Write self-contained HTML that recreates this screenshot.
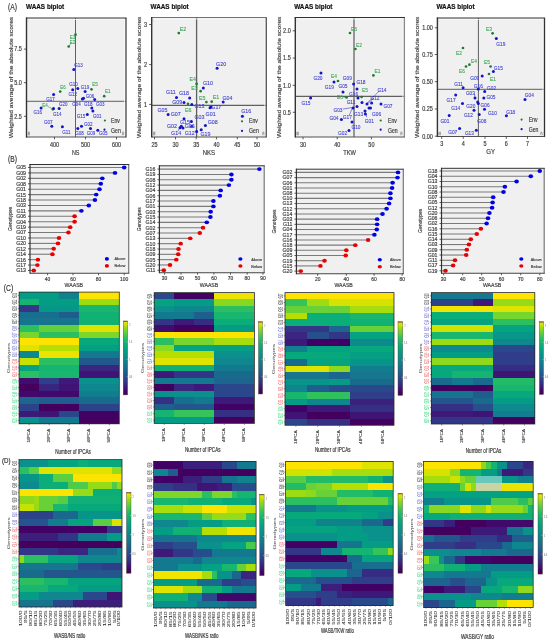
<!DOCTYPE html>
<html><head><meta charset="utf-8"><title>WAAS figure</title>
<style>
html,body{margin:0;padding:0;background:#fff;}
body{width:550px;height:642px;overflow:hidden;}
svg{display:block;font-family:'Liberation Sans', Arial, sans-serif;filter:blur(0.3px);}
</style></head>
<body>
<svg width="550" height="642" viewBox="0 0 550 642">
<rect width="550" height="642" fill="#fff"/>
<clipPath id="cA0"><rect x="26.5" y="18" width="99.5" height="119"/></clipPath>
<rect x="26.5" y="18" width="99.5" height="119" fill="#f0f0f0"/>
<g clip-path="url(#cA0)">
<line x1="75.5" y1="18" x2="75.5" y2="137" stroke="#505050" stroke-width="0.9"/>
<line x1="26.5" y1="101.3" x2="126" y2="101.3" stroke="#505050" stroke-width="0.9"/>
<circle cx="75.5" cy="34.7" r="1.35" fill="#1e7a32"/>
<text font-size="6.1" fill="#38a852" text-anchor="middle" stroke="#38a852" stroke-width="0.12" transform="translate(72.4 39.2) scale(0.74 1)">E3</text>
<circle cx="68.7" cy="46.5" r="1.35" fill="#1e7a32"/>
<text font-size="6.1" fill="#38a852" text-anchor="middle" stroke="#38a852" stroke-width="0.12" transform="translate(72.4 44) scale(0.74 1)">E2</text>
<circle cx="73.8" cy="69.5" r="1.5" fill="#1414c8"/>
<text font-size="6.1" fill="#4444d4" text-anchor="middle" stroke="#4444d4" stroke-width="0.12" transform="translate(78.5 66.9) scale(0.74 1)">G13</text>
<circle cx="60.2" cy="91.6" r="1.35" fill="#1e7a32"/>
<text font-size="6.1" fill="#38a852" text-anchor="middle" stroke="#38a852" stroke-width="0.12" transform="translate(62.9 88.6) scale(0.74 1)">E6</text>
<circle cx="77.8" cy="88.5" r="1.5" fill="#1414c8"/>
<text font-size="6.1" fill="#4444d4" text-anchor="middle" stroke="#4444d4" stroke-width="0.12" transform="translate(73.6 86.3) scale(0.74 1)">G10</text>
<circle cx="72.7" cy="89.8" r="1.5" fill="#1414c8"/>
<text font-size="6.1" fill="#4444d4" text-anchor="middle" stroke="#4444d4" stroke-width="0.12" transform="translate(72.7 96.4) scale(0.74 1)">G12</text>
<circle cx="85.1" cy="91.6" r="1.5" fill="#1414c8"/>
<text font-size="6.1" fill="#4444d4" text-anchor="middle" stroke="#4444d4" stroke-width="0.12" transform="translate(85.1 88.6) scale(0.74 1)">G19</text>
<circle cx="91.5" cy="89.3" r="1.35" fill="#1e7a32"/>
<text font-size="6.1" fill="#38a852" text-anchor="middle" stroke="#38a852" stroke-width="0.12" transform="translate(95.1 86.3) scale(0.74 1)">E5</text>
<text font-size="6.1" fill="#4444d4" text-anchor="middle" stroke="#4444d4" stroke-width="0.12" transform="translate(90 98) scale(0.74 1)">G06</text>
<circle cx="104.2" cy="96.2" r="1.35" fill="#1e7a32"/>
<text font-size="6.1" fill="#38a852" text-anchor="middle" stroke="#38a852" stroke-width="0.12" transform="translate(107.8 93.4) scale(0.74 1)">E1</text>
<circle cx="53.6" cy="94.4" r="1.5" fill="#1414c8"/>
<text font-size="6.1" fill="#4444d4" text-anchor="middle" stroke="#4444d4" stroke-width="0.12" transform="translate(50.5 101.3) scale(0.74 1)">G17</text>
<circle cx="82.4" cy="98.9" r="1.5" fill="#1414c8"/>
<text font-size="6.1" fill="#4444d4" text-anchor="middle" stroke="#4444d4" stroke-width="0.12" transform="translate(76.4 106.4) scale(0.74 1)">G04</text>
<circle cx="59.1" cy="108.5" r="1.5" fill="#1414c8"/>
<text font-size="6.1" fill="#4444d4" text-anchor="middle" stroke="#4444d4" stroke-width="0.12" transform="translate(63.3 105.9) scale(0.74 1)">G20</text>
<circle cx="83.5" cy="98.2" r="1.5" fill="#1414c8"/>
<text font-size="6.1" fill="#4444d4" text-anchor="middle" stroke="#4444d4" stroke-width="0.12" transform="translate(88.2 105.9) scale(0.74 1)">G18</text>
<circle cx="94.7" cy="99.5" r="1.5" fill="#1414c8"/>
<text font-size="6.1" fill="#4444d4" text-anchor="middle" stroke="#4444d4" stroke-width="0.12" transform="translate(100.2 106.2) scale(0.74 1)">G03</text>
<circle cx="52.9" cy="109.3" r="1.35" fill="#1e7a32"/>
<text font-size="6.1" fill="#38a852" text-anchor="middle" stroke="#38a852" stroke-width="0.12" transform="translate(45.1 106.8) scale(0.74 1)">E4</text>
<circle cx="41.1" cy="108" r="1.5" fill="#1414c8"/>
<text font-size="6.1" fill="#4444d4" text-anchor="middle" stroke="#4444d4" stroke-width="0.12" transform="translate(37.8 114.4) scale(0.74 1)">G16</text>
<circle cx="53.5" cy="108.5" r="1.5" fill="#1414c8"/>
<text font-size="6.1" fill="#4444d4" text-anchor="middle" stroke="#4444d4" stroke-width="0.12" transform="translate(57.3 115.9) scale(0.74 1)">G14</text>
<circle cx="87.3" cy="114.4" r="1.5" fill="#1414c8"/>
<text font-size="6.1" fill="#4444d4" text-anchor="middle" stroke="#4444d4" stroke-width="0.12" transform="translate(81.1 118.2) scale(0.74 1)">G15</text>
<circle cx="92.9" cy="111" r="1.5" fill="#1414c8"/>
<text font-size="6.1" fill="#4444d4" text-anchor="middle" stroke="#4444d4" stroke-width="0.12" transform="translate(97.3 118.2) scale(0.74 1)">G01</text>
<circle cx="91.8" cy="108" r="1.5" fill="#1414c8"/>
<circle cx="51.8" cy="126.2" r="1.5" fill="#1414c8"/>
<text font-size="6.1" fill="#4444d4" text-anchor="middle" stroke="#4444d4" stroke-width="0.12" transform="translate(48.2 124) scale(0.74 1)">G07</text>
<circle cx="62.4" cy="126.7" r="1.5" fill="#1414c8"/>
<text font-size="6.1" fill="#4444d4" text-anchor="middle" stroke="#4444d4" stroke-width="0.12" transform="translate(66.4 134) scale(0.74 1)">G11</text>
<circle cx="81.5" cy="126.2" r="1.5" fill="#1414c8"/>
<text font-size="6.1" fill="#4444d4" text-anchor="middle" stroke="#4444d4" stroke-width="0.12" transform="translate(88.2 125.9) scale(0.74 1)">G02</text>
<circle cx="77.8" cy="128.5" r="1.5" fill="#1414c8"/>
<text font-size="6.1" fill="#4444d4" text-anchor="middle" stroke="#4444d4" stroke-width="0.12" transform="translate(79.6 135.4) scale(0.74 1)">G08</text>
<circle cx="90.5" cy="128.5" r="1.5" fill="#1414c8"/>
<text font-size="6.1" fill="#4444d4" text-anchor="middle" stroke="#4444d4" stroke-width="0.12" transform="translate(90.9 134.9) scale(0.74 1)">G09</text>
<circle cx="97.8" cy="130.2" r="1.5" fill="#1414c8"/>
<text font-size="6.1" fill="#4444d4" text-anchor="middle" stroke="#4444d4" stroke-width="0.12" transform="translate(103.3 135.4) scale(0.74 1)">G05</text>
<line x1="68.9" y1="46.3" x2="71.5" y2="42.5" stroke="#1e7a32" stroke-width="0.5"/>
<line x1="53" y1="109.2" x2="48" y2="106.5" stroke="#1e7a32" stroke-width="0.5"/>
<circle cx="104.9" cy="120.5" r="1.1" fill="#1e7a32"/>
<circle cx="104.5" cy="129.7" r="1.1" fill="#1414c8"/>
<text font-size="3.6" fill="#8a8a8a" text-anchor="start" stroke="#8a8a8a" stroke-width="0.3" transform="translate(27.7 135.4) scale(0.8 1)">III</text>
<text font-size="3.6" fill="#8a8a8a" text-anchor="end" stroke="#8a8a8a" stroke-width="0.3" transform="translate(124.8 135.4) scale(0.8 1)">IV</text>
<text font-size="3" fill="#d0d0d0" text-anchor="start" transform="translate(27.7 22.2) scale(0.8 1)">II</text>
<text font-size="3" fill="#d0d0d0" text-anchor="end" transform="translate(124.8 22.2) scale(0.8 1)">I</text>
<text font-size="6.8" fill="#3a3a3a" text-anchor="start" stroke="#3a3a3a" stroke-width="0.18" transform="translate(111.1 122.9) scale(0.75 1)">Env</text>
<text font-size="6.8" fill="#3a3a3a" text-anchor="start" stroke="#3a3a3a" stroke-width="0.18" transform="translate(111.1 132.7) scale(0.75 1)">Gen</text>
</g>
<line x1="27.5" y1="19.5" x2="124.7" y2="19.5" stroke="#fafafa" stroke-width="0.8"/>
<line x1="124.5" y1="19" x2="124.5" y2="136" stroke="#fafafa" stroke-width="0.8"/>
<line x1="126" y1="18" x2="126" y2="137.6" stroke="#444" stroke-width="1.3"/>
<line x1="26.5" y1="137" x2="126" y2="137" stroke="#505050" stroke-width="1.2"/>
<line x1="26" y1="18" x2="126.6" y2="18" stroke="#333" stroke-width="1"/>
<line x1="26.5" y1="17.5" x2="26.5" y2="137.6" stroke="#333" stroke-width="1.4"/>
<line x1="23.9" y1="49.1" x2="26.5" y2="49.1" stroke="#333" stroke-width="0.8"/>
<text font-size="6.3" fill="#3e3e3e" text-anchor="end" stroke="#3e3e3e" stroke-width="0.18" transform="translate(21.9 51.45) scale(0.87 1)">7.5</text>
<line x1="23.9" y1="82.7" x2="26.5" y2="82.7" stroke="#333" stroke-width="0.8"/>
<text font-size="6.3" fill="#3e3e3e" text-anchor="end" stroke="#3e3e3e" stroke-width="0.18" transform="translate(21.9 85.05) scale(0.87 1)">5.0</text>
<line x1="23.9" y1="116.3" x2="26.5" y2="116.3" stroke="#333" stroke-width="0.8"/>
<text font-size="6.3" fill="#3e3e3e" text-anchor="end" stroke="#3e3e3e" stroke-width="0.18" transform="translate(21.9 118.65) scale(0.87 1)">2.5</text>
<line x1="54.5" y1="137" x2="54.5" y2="139.4" stroke="#333" stroke-width="0.8"/>
<text font-size="6.3" fill="#3e3e3e" text-anchor="middle" stroke="#3e3e3e" stroke-width="0.18" transform="translate(54.5 146.5) scale(0.87 1)">400</text>
<line x1="85.5" y1="137" x2="85.5" y2="139.4" stroke="#333" stroke-width="0.8"/>
<text font-size="6.3" fill="#3e3e3e" text-anchor="middle" stroke="#3e3e3e" stroke-width="0.18" transform="translate(85.5 146.5) scale(0.87 1)">500</text>
<line x1="116.5" y1="137" x2="116.5" y2="139.4" stroke="#333" stroke-width="0.8"/>
<text font-size="6.3" fill="#3e3e3e" text-anchor="middle" stroke="#3e3e3e" stroke-width="0.18" transform="translate(116.5 146.5) scale(0.87 1)">600</text>
<text font-size="6.7" fill="#3e3e3e" text-anchor="middle" stroke="#3e3e3e" stroke-width="0.18" transform="translate(12.9 77.5) rotate(-90) scale(1 0.86)">Weighted average of the absolute scores</text>
<text font-size="6.8" fill="#3e3e3e" text-anchor="middle" stroke="#3e3e3e" stroke-width="0.18" transform="translate(75.7 154.6) scale(0.8 1)">NS</text>
<text font-size="6.8" fill="#111" text-anchor="start" stroke="#111" stroke-width="0.18" font-weight="bold" transform="translate(26 8.8) scale(0.94 1)">WAAS biplot</text>
<clipPath id="cA1"><rect x="151.7" y="17.5" width="114.6" height="119.5"/></clipPath>
<rect x="151.7" y="17.5" width="114.6" height="119.5" fill="#f0f0f0"/>
<g clip-path="url(#cA1)">
<line x1="196.6" y1="17.5" x2="196.6" y2="137" stroke="#606060" stroke-width="1.3"/>
<line x1="151.7" y1="105.3" x2="266.3" y2="105.3" stroke="#606060" stroke-width="1.3"/>
<circle cx="178.8" cy="33.1" r="1.35" fill="#1e7a32"/>
<text font-size="6.1" fill="#38a852" text-anchor="middle" stroke="#38a852" stroke-width="0.12" transform="translate(183 30.5) scale(0.87 1)">E2</text>
<circle cx="217.1" cy="68.3" r="1.5" fill="#1414c8"/>
<text font-size="6.1" fill="#4444d4" text-anchor="middle" stroke="#4444d4" stroke-width="0.12" transform="translate(221.1 65.7) scale(0.87 1)">G20</text>
<circle cx="196.6" cy="83.9" r="1.35" fill="#1e7a32"/>
<text font-size="6.1" fill="#38a852" text-anchor="middle" stroke="#38a852" stroke-width="0.12" transform="translate(192.8 81.1) scale(0.87 1)">E4</text>
<circle cx="200.6" cy="91.2" r="1.35" fill="#1e7a32"/>
<text font-size="6.1" fill="#38a852" text-anchor="middle" stroke="#38a852" stroke-width="0.12" transform="translate(194.5 89.5) scale(0.87 1)">E3</text>
<circle cx="203.3" cy="88.1" r="1.5" fill="#1414c8"/>
<text font-size="6.1" fill="#4444d4" text-anchor="middle" stroke="#4444d4" stroke-width="0.12" transform="translate(207.9 85.3) scale(0.87 1)">G10</text>
<circle cx="176.5" cy="97.5" r="1.5" fill="#1414c8"/>
<text font-size="6.1" fill="#4444d4" text-anchor="middle" stroke="#4444d4" stroke-width="0.12" transform="translate(170.9 94.3) scale(0.87 1)">G11</text>
<circle cx="189.7" cy="97.9" r="1.5" fill="#1414c8"/>
<text font-size="6.1" fill="#4444d4" text-anchor="middle" stroke="#4444d4" stroke-width="0.12" transform="translate(184 94.9) scale(0.87 1)">G18</text>
<circle cx="184" cy="102.5" r="1.5" fill="#1414c8"/>
<text font-size="6.1" fill="#4444d4" text-anchor="middle" stroke="#4444d4" stroke-width="0.12" transform="translate(177.2 103.7) scale(0.87 1)">G09</text>
<circle cx="188" cy="103.8" r="1.35" fill="#1e7a32"/>
<text font-size="6.1" fill="#38a852" text-anchor="middle" stroke="#38a852" stroke-width="0.12" transform="translate(188.2 111.6) scale(0.87 1)">E6</text>
<circle cx="206.4" cy="102.1" r="1.35" fill="#1e7a32"/>
<text font-size="6.1" fill="#38a852" text-anchor="middle" stroke="#38a852" stroke-width="0.12" transform="translate(202.3 99.5) scale(0.87 1)">E5</text>
<circle cx="211.7" cy="101.7" r="1.35" fill="#1e7a32"/>
<text font-size="6.1" fill="#38a852" text-anchor="middle" stroke="#38a852" stroke-width="0.12" transform="translate(215.9 98.9) scale(0.87 1)">E1</text>
<circle cx="223.2" cy="102.1" r="1.5" fill="#1414c8"/>
<text font-size="6.1" fill="#4444d4" text-anchor="middle" stroke="#4444d4" stroke-width="0.12" transform="translate(227.4 99.5) scale(0.87 1)">G04</text>
<circle cx="191.8" cy="104.6" r="1.5" fill="#1414c8"/>
<text font-size="6.1" fill="#4444d4" text-anchor="middle" stroke="#4444d4" stroke-width="0.12" transform="translate(199.5 108.3) scale(0.87 1)">G13</text>
<circle cx="210" cy="107.8" r="1.5" fill="#1414c8"/>
<text font-size="6.1" fill="#4444d4" text-anchor="middle" stroke="#4444d4" stroke-width="0.12" transform="translate(216.3 108.5) scale(0.87 1)">G17</text>
<circle cx="211" cy="107" r="1.5" fill="#1414c8"/>
<circle cx="168.1" cy="114.4" r="1.5" fill="#1414c8"/>
<text font-size="6.1" fill="#4444d4" text-anchor="middle" stroke="#4444d4" stroke-width="0.12" transform="translate(162.5 111.7) scale(0.87 1)">G05</text>
<text font-size="6.1" fill="#4444d4" text-anchor="middle" stroke="#4444d4" stroke-width="0.12" transform="translate(175.7 116.3) scale(0.87 1)">G07</text>
<text font-size="6.1" fill="#4444d4" text-anchor="middle" stroke="#4444d4" stroke-width="0.12" transform="translate(210.6 116.3) scale(0.87 1)">G01</text>
<circle cx="242.4" cy="116.3" r="1.5" fill="#1414c8"/>
<text font-size="6.1" fill="#4444d4" text-anchor="middle" stroke="#4444d4" stroke-width="0.12" transform="translate(246.2 113.1) scale(0.87 1)">G16</text>
<circle cx="191.4" cy="121.4" r="1.5" fill="#1414c8"/>
<text font-size="6.1" fill="#4444d4" text-anchor="middle" stroke="#4444d4" stroke-width="0.12" transform="translate(199.5 119.4) scale(0.87 1)">G03</text>
<circle cx="184" cy="118.8" r="1.5" fill="#1414c8"/>
<text font-size="6.1" fill="#4444d4" text-anchor="middle" stroke="#4444d4" stroke-width="0.12" transform="translate(184.9 123.6) scale(0.87 1)">G15</text>
<circle cx="191.8" cy="126.2" r="1.5" fill="#1414c8"/>
<text font-size="6.1" fill="#4444d4" text-anchor="middle" stroke="#4444d4" stroke-width="0.12" transform="translate(189.7 127.8) scale(0.87 1)">G06</text>
<circle cx="205.4" cy="125.5" r="1.5" fill="#1414c8"/>
<text font-size="6.1" fill="#4444d4" text-anchor="middle" stroke="#4444d4" stroke-width="0.12" transform="translate(212.7 123.6) scale(0.87 1)">G08</text>
<circle cx="181.3" cy="126.2" r="1.5" fill="#1414c8"/>
<text font-size="6.1" fill="#4444d4" text-anchor="middle" stroke="#4444d4" stroke-width="0.12" transform="translate(171.9 127.8) scale(0.87 1)">G02</text>
<circle cx="180" cy="127.8" r="1.5" fill="#1414c8"/>
<text font-size="6.1" fill="#4444d4" text-anchor="middle" stroke="#4444d4" stroke-width="0.12" transform="translate(176.1 135.1) scale(0.87 1)">G14</text>
<circle cx="196.6" cy="131.4" r="1.5" fill="#1414c8"/>
<text font-size="6.1" fill="#4444d4" text-anchor="middle" stroke="#4444d4" stroke-width="0.12" transform="translate(189.7 135.1) scale(0.87 1)">G12</text>
<circle cx="201.2" cy="129.7" r="1.5" fill="#1414c8"/>
<text font-size="6.1" fill="#4444d4" text-anchor="middle" stroke="#4444d4" stroke-width="0.12" transform="translate(205.4 135.5) scale(0.87 1)">G19</text>
<circle cx="183" cy="128" r="1.5" fill="#1414c8"/>
<line x1="180" y1="127.8" x2="177.5" y2="131.5" stroke="#1414c8" stroke-width="0.5"/>
<circle cx="242" cy="121.3" r="1.1" fill="#1e7a32"/>
<circle cx="242" cy="130.9" r="1.1" fill="#1414c8"/>
<text font-size="3.6" fill="#8a8a8a" text-anchor="start" stroke="#8a8a8a" stroke-width="0.3" transform="translate(152.9 135.4) scale(0.8 1)">III</text>
<text font-size="3.6" fill="#8a8a8a" text-anchor="end" stroke="#8a8a8a" stroke-width="0.3" transform="translate(265.1 135.4) scale(0.8 1)">IV</text>
<text font-size="3" fill="#d0d0d0" text-anchor="start" transform="translate(152.9 21.7) scale(0.8 1)">II</text>
<text font-size="3" fill="#d0d0d0" text-anchor="end" transform="translate(265.1 21.7) scale(0.8 1)">I</text>
<text font-size="6.8" fill="#3a3a3a" text-anchor="start" stroke="#3a3a3a" stroke-width="0.18" transform="translate(249.1 123.4) scale(0.75 1)">Env</text>
<text font-size="6.8" fill="#3a3a3a" text-anchor="start" stroke="#3a3a3a" stroke-width="0.18" transform="translate(249.1 132.7) scale(0.75 1)">Gen</text>
</g>
<line x1="152.7" y1="19" x2="265" y2="19" stroke="#fafafa" stroke-width="0.8"/>
<line x1="264.8" y1="18.5" x2="264.8" y2="136" stroke="#fafafa" stroke-width="0.8"/>
<line x1="266.3" y1="17.5" x2="266.3" y2="137.6" stroke="#555" stroke-width="1.3"/>
<line x1="151.7" y1="137" x2="266.3" y2="137" stroke="#505050" stroke-width="1.2"/>
<line x1="151.2" y1="17.5" x2="266.9" y2="17.5" stroke="#707070" stroke-width="1"/>
<line x1="151.7" y1="17" x2="151.7" y2="137.6" stroke="#333" stroke-width="1.4"/>
<line x1="149.1" y1="24.5" x2="151.7" y2="24.5" stroke="#333" stroke-width="0.8"/>
<text font-size="6.3" fill="#3e3e3e" text-anchor="end" stroke="#3e3e3e" stroke-width="0.18" transform="translate(147.1 26.85) scale(0.87 1)">3</text>
<line x1="149.1" y1="64.6" x2="151.7" y2="64.6" stroke="#333" stroke-width="0.8"/>
<text font-size="6.3" fill="#3e3e3e" text-anchor="end" stroke="#3e3e3e" stroke-width="0.18" transform="translate(147.1 66.95) scale(0.87 1)">2</text>
<line x1="149.1" y1="104.4" x2="151.7" y2="104.4" stroke="#333" stroke-width="0.8"/>
<text font-size="6.3" fill="#3e3e3e" text-anchor="end" stroke="#3e3e3e" stroke-width="0.18" transform="translate(147.1 106.75) scale(0.87 1)">1</text>
<line x1="154.5" y1="137" x2="154.5" y2="139.4" stroke="#333" stroke-width="0.8"/>
<text font-size="6.3" fill="#3e3e3e" text-anchor="middle" stroke="#3e3e3e" stroke-width="0.18" transform="translate(154.5 147.4) scale(0.87 1)">25</text>
<line x1="175.5" y1="137" x2="175.5" y2="139.4" stroke="#333" stroke-width="0.8"/>
<text font-size="6.3" fill="#3e3e3e" text-anchor="middle" stroke="#3e3e3e" stroke-width="0.18" transform="translate(175.5 147.4) scale(0.87 1)">30</text>
<line x1="196.2" y1="137" x2="196.2" y2="139.4" stroke="#333" stroke-width="0.8"/>
<text font-size="6.3" fill="#3e3e3e" text-anchor="middle" stroke="#3e3e3e" stroke-width="0.18" transform="translate(196.2 147.4) scale(0.87 1)">35</text>
<line x1="216.6" y1="137" x2="216.6" y2="139.4" stroke="#333" stroke-width="0.8"/>
<text font-size="6.3" fill="#3e3e3e" text-anchor="middle" stroke="#3e3e3e" stroke-width="0.18" transform="translate(216.6 147.4) scale(0.87 1)">40</text>
<line x1="237.3" y1="137" x2="237.3" y2="139.4" stroke="#333" stroke-width="0.8"/>
<text font-size="6.3" fill="#3e3e3e" text-anchor="middle" stroke="#3e3e3e" stroke-width="0.18" transform="translate(237.3 147.4) scale(0.87 1)">45</text>
<line x1="257" y1="137" x2="257" y2="139.4" stroke="#333" stroke-width="0.8"/>
<text font-size="6.3" fill="#3e3e3e" text-anchor="middle" stroke="#3e3e3e" stroke-width="0.18" transform="translate(257 147.4) scale(0.87 1)">50</text>
<text font-size="6.7" fill="#3e3e3e" text-anchor="middle" stroke="#3e3e3e" stroke-width="0.18" transform="translate(141.4 77.25) rotate(-90) scale(1 0.86)">Weighted average of the absolute scores</text>
<text font-size="6.8" fill="#3e3e3e" text-anchor="middle" stroke="#3e3e3e" stroke-width="0.18" transform="translate(208.9 155.4) scale(0.89 1)">NKS</text>
<text font-size="6.8" fill="#111" text-anchor="start" stroke="#111" stroke-width="0.18" font-weight="bold" transform="translate(150.5 8.8) scale(0.94 1)">WAAS biplot</text>
<clipPath id="cA2"><rect x="295.3" y="17.5" width="109.1" height="119.5"/></clipPath>
<rect x="295.3" y="17.5" width="109.1" height="119.5" fill="#f0f0f0"/>
<g clip-path="url(#cA2)">
<line x1="354" y1="17.5" x2="354" y2="137" stroke="#606060" stroke-width="1.25"/>
<line x1="295.3" y1="96.4" x2="404.4" y2="96.4" stroke="#606060" stroke-width="1.25"/>
<circle cx="350" cy="33" r="1.35" fill="#1e7a32"/>
<text font-size="6.1" fill="#38a852" text-anchor="middle" stroke="#38a852" stroke-width="0.12" transform="translate(354 30.8) scale(0.79 1)">E3</text>
<circle cx="355.4" cy="49" r="1.35" fill="#1e7a32"/>
<text font-size="6.1" fill="#38a852" text-anchor="middle" stroke="#38a852" stroke-width="0.12" transform="translate(359 47) scale(0.79 1)">E2</text>
<circle cx="373.4" cy="75.4" r="1.35" fill="#1e7a32"/>
<text font-size="6.1" fill="#38a852" text-anchor="middle" stroke="#38a852" stroke-width="0.12" transform="translate(377.4 73.4) scale(0.79 1)">E1</text>
<circle cx="321" cy="73" r="1.5" fill="#1414c8"/>
<text font-size="6.1" fill="#4444d4" text-anchor="middle" stroke="#4444d4" stroke-width="0.12" transform="translate(318 79.8) scale(0.79 1)">G20</text>
<circle cx="338" cy="81" r="1.35" fill="#1e7a32"/>
<text font-size="6.1" fill="#38a852" text-anchor="middle" stroke="#38a852" stroke-width="0.12" transform="translate(334 78.4) scale(0.79 1)">E4</text>
<circle cx="353.6" cy="84" r="1.5" fill="#1414c8"/>
<text font-size="6.1" fill="#4444d4" text-anchor="middle" stroke="#4444d4" stroke-width="0.12" transform="translate(347.4 80.4) scale(0.79 1)">G09</text>
<circle cx="334" cy="82" r="1.5" fill="#1414c8"/>
<text font-size="6.1" fill="#4444d4" text-anchor="middle" stroke="#4444d4" stroke-width="0.12" transform="translate(329.4 89) scale(0.79 1)">G19</text>
<circle cx="343" cy="92" r="1.5" fill="#1414c8"/>
<text font-size="6.1" fill="#4444d4" text-anchor="middle" stroke="#4444d4" stroke-width="0.12" transform="translate(343 88.4) scale(0.79 1)">G05</text>
<circle cx="357" cy="89" r="1.5" fill="#1414c8"/>
<text font-size="6.1" fill="#4444d4" text-anchor="middle" stroke="#4444d4" stroke-width="0.12" transform="translate(361 84.4) scale(0.79 1)">G18</text>
<circle cx="361.6" cy="97" r="1.35" fill="#1e7a32"/>
<text font-size="6.1" fill="#38a852" text-anchor="middle" stroke="#38a852" stroke-width="0.12" transform="translate(365 92) scale(0.79 1)">E5</text>
<text font-size="6.1" fill="#4444d4" text-anchor="middle" stroke="#4444d4" stroke-width="0.12" transform="translate(382 92.4) scale(0.79 1)">G14</text>
<circle cx="358" cy="98" r="1.5" fill="#1414c8"/>
<text font-size="6.1" fill="#4444d4" text-anchor="middle" stroke="#4444d4" stroke-width="0.12" transform="translate(353.6 95.8) scale(0.79 1)">G16</text>
<circle cx="346.6" cy="97.4" r="1.35" fill="#1e7a32"/>
<text font-size="6.1" fill="#38a852" text-anchor="middle" stroke="#38a852" stroke-width="0.12" transform="translate(340 99.4) scale(0.79 1)">E6</text>
<circle cx="310.6" cy="98" r="1.5" fill="#1414c8"/>
<text font-size="6.1" fill="#4444d4" text-anchor="middle" stroke="#4444d4" stroke-width="0.12" transform="translate(306 105.4) scale(0.79 1)">G15</text>
<circle cx="362" cy="102.4" r="1.5" fill="#1414c8"/>
<text font-size="6.1" fill="#4444d4" text-anchor="middle" stroke="#4444d4" stroke-width="0.12" transform="translate(351 104.4) scale(0.79 1)">G11</text>
<circle cx="371.6" cy="103" r="1.5" fill="#1414c8"/>
<text font-size="6.1" fill="#4444d4" text-anchor="middle" stroke="#4444d4" stroke-width="0.12" transform="translate(375 100) scale(0.79 1)">G12</text>
<circle cx="381" cy="104" r="1.5" fill="#1414c8"/>
<text font-size="6.1" fill="#4444d4" text-anchor="middle" stroke="#4444d4" stroke-width="0.12" transform="translate(388 108) scale(0.79 1)">G07</text>
<circle cx="367" cy="104" r="1.5" fill="#1414c8"/>
<circle cx="369" cy="108" r="1.5" fill="#1414c8"/>
<circle cx="370.5" cy="108" r="1.5" fill="#1414c8"/>
<circle cx="353" cy="108" r="1.5" fill="#1414c8"/>
<text font-size="6.1" fill="#4444d4" text-anchor="middle" stroke="#4444d4" stroke-width="0.12" transform="translate(338 111.8) scale(0.79 1)">G03</text>
<circle cx="357" cy="106.4" r="1.5" fill="#1414c8"/>
<text font-size="6.1" fill="#4444d4" text-anchor="middle" stroke="#4444d4" stroke-width="0.12" transform="translate(358.6 115.8) scale(0.79 1)">G13</text>
<text font-size="6.1" fill="#4444d4" text-anchor="middle" stroke="#4444d4" stroke-width="0.12" transform="translate(376.6 116) scale(0.79 1)">G06</text>
<circle cx="341.4" cy="119.6" r="1.5" fill="#1414c8"/>
<text font-size="6.1" fill="#4444d4" text-anchor="middle" stroke="#4444d4" stroke-width="0.12" transform="translate(334 120.4) scale(0.79 1)">G04</text>
<text font-size="6.1" fill="#4444d4" text-anchor="middle" stroke="#4444d4" stroke-width="0.12" transform="translate(347.4 119.4) scale(0.79 1)">G17</text>
<circle cx="365" cy="111" r="1.5" fill="#1414c8"/>
<text font-size="6.1" fill="#4444d4" text-anchor="middle" stroke="#4444d4" stroke-width="0.12" transform="translate(369.4 123) scale(0.79 1)">G01</text>
<circle cx="365.4" cy="114" r="1.5" fill="#1414c8"/>
<circle cx="352" cy="122" r="1.5" fill="#1414c8"/>
<text font-size="6.1" fill="#4444d4" text-anchor="middle" stroke="#4444d4" stroke-width="0.12" transform="translate(356 128.8) scale(0.79 1)">G10</text>
<circle cx="349" cy="130.6" r="1.5" fill="#1414c8"/>
<text font-size="6.1" fill="#4444d4" text-anchor="middle" stroke="#4444d4" stroke-width="0.12" transform="translate(342.6 134.8) scale(0.79 1)">G02</text>
<line x1="379" y1="91.3" x2="366.7" y2="103.5" stroke="#1414c8" stroke-width="0.5"/>
<line x1="373.5" y1="98.6" x2="366.7" y2="104.4" stroke="#1414c8" stroke-width="0.5"/>
<line x1="343" y1="109" x2="351.7" y2="107.6" stroke="#1414c8" stroke-width="0.5"/>
<line x1="349" y1="115.8" x2="352.3" y2="108.4" stroke="#1414c8" stroke-width="0.5"/>
<line x1="366.7" y1="117.2" x2="364.8" y2="110.4" stroke="#1414c8" stroke-width="0.5"/>
<line x1="343.5" y1="97.4" x2="346.6" y2="97.4" stroke="#1e7a32" stroke-width="0.5"/>
<circle cx="380.7" cy="120.5" r="1.1" fill="#1e7a32"/>
<circle cx="380.7" cy="129.7" r="1.1" fill="#1414c8"/>
<text font-size="3.6" fill="#8a8a8a" text-anchor="start" stroke="#8a8a8a" stroke-width="0.3" transform="translate(296.5 135.4) scale(0.8 1)">III</text>
<text font-size="3.6" fill="#8a8a8a" text-anchor="end" stroke="#8a8a8a" stroke-width="0.3" transform="translate(403.2 135.4) scale(0.8 1)">IV</text>
<text font-size="3" fill="#d0d0d0" text-anchor="start" transform="translate(296.5 21.7) scale(0.8 1)">II</text>
<text font-size="3" fill="#d0d0d0" text-anchor="end" transform="translate(403.2 21.7) scale(0.8 1)">I</text>
<text font-size="6.8" fill="#3a3a3a" text-anchor="start" stroke="#3a3a3a" stroke-width="0.18" transform="translate(388 122.9) scale(0.75 1)">Env</text>
<text font-size="6.8" fill="#3a3a3a" text-anchor="start" stroke="#3a3a3a" stroke-width="0.18" transform="translate(388 132.7) scale(0.75 1)">Gen</text>
</g>
<line x1="296.3" y1="19" x2="403.1" y2="19" stroke="#fafafa" stroke-width="0.8"/>
<line x1="402.9" y1="18.5" x2="402.9" y2="136" stroke="#fafafa" stroke-width="0.8"/>
<line x1="404.4" y1="17.5" x2="404.4" y2="137.6" stroke="#8a8a8a" stroke-width="1.3"/>
<line x1="295.3" y1="137" x2="404.4" y2="137" stroke="#505050" stroke-width="1.2"/>
<line x1="294.8" y1="17.5" x2="405" y2="17.5" stroke="#333" stroke-width="1"/>
<line x1="295.3" y1="17" x2="295.3" y2="137.6" stroke="#333" stroke-width="1.4"/>
<line x1="292.7" y1="30.8" x2="295.3" y2="30.8" stroke="#333" stroke-width="0.8"/>
<text font-size="6.3" fill="#3e3e3e" text-anchor="end" stroke="#3e3e3e" stroke-width="0.18" transform="translate(290.7 33.15) scale(0.87 1)">2.0</text>
<line x1="292.7" y1="58" x2="295.3" y2="58" stroke="#333" stroke-width="0.8"/>
<text font-size="6.3" fill="#3e3e3e" text-anchor="end" stroke="#3e3e3e" stroke-width="0.18" transform="translate(290.7 60.35) scale(0.87 1)">1.5</text>
<line x1="292.7" y1="85.3" x2="295.3" y2="85.3" stroke="#333" stroke-width="0.8"/>
<text font-size="6.3" fill="#3e3e3e" text-anchor="end" stroke="#3e3e3e" stroke-width="0.18" transform="translate(290.7 87.65) scale(0.87 1)">1.0</text>
<line x1="292.7" y1="112.3" x2="295.3" y2="112.3" stroke="#333" stroke-width="0.8"/>
<text font-size="6.3" fill="#3e3e3e" text-anchor="end" stroke="#3e3e3e" stroke-width="0.18" transform="translate(290.7 114.65) scale(0.87 1)">0.5</text>
<line x1="303" y1="137" x2="303" y2="139.4" stroke="#333" stroke-width="0.8"/>
<text font-size="6.3" fill="#3e3e3e" text-anchor="middle" stroke="#3e3e3e" stroke-width="0.18" transform="translate(303 146.7) scale(0.87 1)">30</text>
<line x1="337.2" y1="137" x2="337.2" y2="139.4" stroke="#333" stroke-width="0.8"/>
<text font-size="6.3" fill="#3e3e3e" text-anchor="middle" stroke="#3e3e3e" stroke-width="0.18" transform="translate(337.2 146.7) scale(0.87 1)">40</text>
<line x1="371.4" y1="137" x2="371.4" y2="139.4" stroke="#333" stroke-width="0.8"/>
<text font-size="6.3" fill="#3e3e3e" text-anchor="middle" stroke="#3e3e3e" stroke-width="0.18" transform="translate(371.4 146.7) scale(0.87 1)">50</text>
<text font-size="6.7" fill="#3e3e3e" text-anchor="middle" stroke="#3e3e3e" stroke-width="0.18" transform="translate(280.9 77.25) rotate(-90) scale(1 0.86)">Weighted average of the absolute scores</text>
<text font-size="6.8" fill="#3e3e3e" text-anchor="middle" stroke="#3e3e3e" stroke-width="0.18" transform="translate(349.5 154.7) scale(0.84 1)">TKW</text>
<text font-size="6.8" fill="#111" text-anchor="start" stroke="#111" stroke-width="0.18" font-weight="bold" transform="translate(294.2 8.8) scale(0.94 1)">WAAS biplot</text>
<clipPath id="cA3"><rect x="437.4" y="18" width="107.1" height="118.5"/></clipPath>
<rect x="437.4" y="18" width="107.1" height="118.5" fill="#f0f0f0"/>
<g clip-path="url(#cA3)">
<line x1="478.4" y1="18" x2="478.4" y2="136.5" stroke="#444" stroke-width="0.85"/>
<line x1="437.4" y1="89.3" x2="544.5" y2="89.3" stroke="#444" stroke-width="0.85"/>
<circle cx="492.6" cy="33.3" r="1.35" fill="#1e7a32"/>
<text font-size="6.1" fill="#38a852" text-anchor="middle" stroke="#38a852" stroke-width="0.12" transform="translate(489 31.2) scale(0.78 1)">E3</text>
<circle cx="496.3" cy="38.6" r="1.5" fill="#1414c8"/>
<text font-size="6.1" fill="#4444d4" text-anchor="middle" stroke="#4444d4" stroke-width="0.12" transform="translate(500.8 45.9) scale(0.78 1)">G19</text>
<circle cx="463" cy="48" r="1.35" fill="#1e7a32"/>
<text font-size="6.1" fill="#38a852" text-anchor="middle" stroke="#38a852" stroke-width="0.12" transform="translate(459 55.4) scale(0.78 1)">E2</text>
<circle cx="469.4" cy="64.7" r="1.35" fill="#1e7a32"/>
<text font-size="6.1" fill="#38a852" text-anchor="middle" stroke="#38a852" stroke-width="0.12" transform="translate(474 63) scale(0.78 1)">E4</text>
<circle cx="466" cy="66.5" r="1.35" fill="#1e7a32"/>
<text font-size="6.1" fill="#38a852" text-anchor="middle" stroke="#38a852" stroke-width="0.12" transform="translate(462 73) scale(0.78 1)">E6</text>
<circle cx="490.6" cy="66.5" r="1.35" fill="#1e7a32"/>
<text font-size="6.1" fill="#38a852" text-anchor="middle" stroke="#38a852" stroke-width="0.12" transform="translate(487 64.2) scale(0.78 1)">E5</text>
<circle cx="493.4" cy="71.6" r="1.5" fill="#1414c8"/>
<text font-size="6.1" fill="#4444d4" text-anchor="middle" stroke="#4444d4" stroke-width="0.12" transform="translate(498.3 69.7) scale(0.78 1)">G15</text>
<circle cx="489" cy="74" r="1.35" fill="#1e7a32"/>
<text font-size="6.1" fill="#38a852" text-anchor="middle" stroke="#38a852" stroke-width="0.12" transform="translate(493 80.9) scale(0.78 1)">E1</text>
<circle cx="482.2" cy="76" r="1.5" fill="#1414c8"/>
<text font-size="6.1" fill="#4444d4" text-anchor="middle" stroke="#4444d4" stroke-width="0.12" transform="translate(474.7 79.9) scale(0.78 1)">G09</text>
<circle cx="463.1" cy="87.7" r="1.5" fill="#1414c8"/>
<text font-size="6.1" fill="#4444d4" text-anchor="middle" stroke="#4444d4" stroke-width="0.12" transform="translate(458.6 85.8) scale(0.78 1)">G11</text>
<circle cx="478.3" cy="89" r="1.5" fill="#1414c8"/>
<text font-size="6.1" fill="#4444d4" text-anchor="middle" stroke="#4444d4" stroke-width="0.12" transform="translate(478.3 87.8) scale(0.78 1)">G16</text>
<circle cx="484.7" cy="91.6" r="1.5" fill="#1414c8"/>
<text font-size="6.1" fill="#4444d4" text-anchor="middle" stroke="#4444d4" stroke-width="0.12" transform="translate(491.6 89.7) scale(0.78 1)">G02</text>
<circle cx="475" cy="98.1" r="1.5" fill="#1414c8"/>
<text font-size="6.1" fill="#4444d4" text-anchor="middle" stroke="#4444d4" stroke-width="0.12" transform="translate(470.4 95) scale(0.78 1)">G03</text>
<circle cx="455.7" cy="95" r="1.5" fill="#1414c8"/>
<text font-size="6.1" fill="#4444d4" text-anchor="middle" stroke="#4444d4" stroke-width="0.12" transform="translate(451.1 101.9) scale(0.78 1)">G17</text>
<circle cx="483.8" cy="98.1" r="1.5" fill="#1414c8"/>
<text font-size="6.1" fill="#4444d4" text-anchor="middle" stroke="#4444d4" stroke-width="0.12" transform="translate(491 99.4) scale(0.78 1)">G05</text>
<circle cx="462.5" cy="103.4" r="1.5" fill="#1414c8"/>
<text font-size="6.1" fill="#4444d4" text-anchor="middle" stroke="#4444d4" stroke-width="0.12" transform="translate(455.7 110.4) scale(0.78 1)">G14</text>
<circle cx="477.7" cy="102" r="1.5" fill="#1414c8"/>
<text font-size="6.1" fill="#4444d4" text-anchor="middle" stroke="#4444d4" stroke-width="0.12" transform="translate(470.8 107.8) scale(0.78 1)">G20</text>
<circle cx="478.3" cy="103.5" r="1.5" fill="#1414c8"/>
<circle cx="484.5" cy="109.3" r="1.5" fill="#1414c8"/>
<text font-size="6.1" fill="#4444d4" text-anchor="middle" stroke="#4444d4" stroke-width="0.12" transform="translate(485.1 107.4) scale(0.78 1)">G06</text>
<circle cx="525" cy="99.5" r="1.5" fill="#1414c8"/>
<text font-size="6.1" fill="#4444d4" text-anchor="middle" stroke="#4444d4" stroke-width="0.12" transform="translate(529.3 97.4) scale(0.78 1)">G04</text>
<circle cx="474" cy="110.3" r="1.5" fill="#1414c8"/>
<text font-size="6.1" fill="#4444d4" text-anchor="middle" stroke="#4444d4" stroke-width="0.12" transform="translate(468.4 117.2) scale(0.78 1)">G12</text>
<circle cx="479.2" cy="114.6" r="1.5" fill="#1414c8"/>
<text font-size="6.1" fill="#4444d4" text-anchor="middle" stroke="#4444d4" stroke-width="0.12" transform="translate(492.4 115.1) scale(0.78 1)">G10</text>
<circle cx="506.4" cy="115.8" r="1.5" fill="#1414c8"/>
<text font-size="6.1" fill="#4444d4" text-anchor="middle" stroke="#4444d4" stroke-width="0.12" transform="translate(510.7 113.7) scale(0.78 1)">G18</text>
<circle cx="449.2" cy="115.6" r="1.5" fill="#1414c8"/>
<text font-size="6.1" fill="#4444d4" text-anchor="middle" stroke="#4444d4" stroke-width="0.12" transform="translate(444.9 122.5) scale(0.78 1)">G01</text>
<circle cx="476.3" cy="130.3" r="1.5" fill="#1414c8"/>
<text font-size="6.1" fill="#4444d4" text-anchor="middle" stroke="#4444d4" stroke-width="0.12" transform="translate(469.4 134.7) scale(0.78 1)">G13</text>
<circle cx="459.6" cy="128.6" r="1.5" fill="#1414c8"/>
<text font-size="6.1" fill="#4444d4" text-anchor="middle" stroke="#4444d4" stroke-width="0.12" transform="translate(452.7 134.4) scale(0.78 1)">G07</text>
<text font-size="6.1" fill="#4444d4" text-anchor="middle" stroke="#4444d4" stroke-width="0.12" transform="translate(481.8 122.9) scale(0.78 1)">G08</text>
<line x1="474.5" y1="93.5" x2="475" y2="98" stroke="#1414c8" stroke-width="0.5"/>
<circle cx="521.6" cy="119.6" r="1.1" fill="#1e7a32"/>
<circle cx="521.6" cy="129.2" r="1.1" fill="#1414c8"/>
<text font-size="3.6" fill="#8a8a8a" text-anchor="start" stroke="#8a8a8a" stroke-width="0.3" transform="translate(438.6 134.9) scale(0.8 1)">III</text>
<text font-size="3.6" fill="#8a8a8a" text-anchor="end" stroke="#8a8a8a" stroke-width="0.3" transform="translate(543.3 134.9) scale(0.8 1)">IV</text>
<text font-size="3" fill="#d0d0d0" text-anchor="start" transform="translate(438.6 22.2) scale(0.8 1)">II</text>
<text font-size="3" fill="#d0d0d0" text-anchor="end" transform="translate(543.3 22.2) scale(0.8 1)">I</text>
<text font-size="6.8" fill="#3a3a3a" text-anchor="start" stroke="#3a3a3a" stroke-width="0.18" transform="translate(528.7 122.4) scale(0.75 1)">Env</text>
<text font-size="6.8" fill="#3a3a3a" text-anchor="start" stroke="#3a3a3a" stroke-width="0.18" transform="translate(528.7 131.6) scale(0.75 1)">Gen</text>
</g>
<line x1="438.4" y1="19.5" x2="543.2" y2="19.5" stroke="#fafafa" stroke-width="0.8"/>
<line x1="543" y1="19" x2="543" y2="135.5" stroke="#fafafa" stroke-width="0.8"/>
<line x1="544.5" y1="18" x2="544.5" y2="137.1" stroke="#333" stroke-width="1.3"/>
<line x1="437.4" y1="136.5" x2="544.5" y2="136.5" stroke="#505050" stroke-width="1.2"/>
<line x1="436.9" y1="18" x2="545.1" y2="18" stroke="#333" stroke-width="1"/>
<line x1="437.4" y1="17.5" x2="437.4" y2="137.1" stroke="#333" stroke-width="1.4"/>
<line x1="434.8" y1="27.8" x2="437.4" y2="27.8" stroke="#333" stroke-width="0.8"/>
<text font-size="6.3" fill="#3e3e3e" text-anchor="end" stroke="#3e3e3e" stroke-width="0.18" transform="translate(432.8 30.15) scale(0.87 1)">1.00</text>
<line x1="434.8" y1="54.5" x2="437.4" y2="54.5" stroke="#333" stroke-width="0.8"/>
<text font-size="6.3" fill="#3e3e3e" text-anchor="end" stroke="#3e3e3e" stroke-width="0.18" transform="translate(432.8 56.85) scale(0.87 1)">0.75</text>
<line x1="434.8" y1="81.7" x2="437.4" y2="81.7" stroke="#333" stroke-width="0.8"/>
<text font-size="6.3" fill="#3e3e3e" text-anchor="end" stroke="#3e3e3e" stroke-width="0.18" transform="translate(432.8 84.05) scale(0.87 1)">0.50</text>
<line x1="434.8" y1="109" x2="437.4" y2="109" stroke="#333" stroke-width="0.8"/>
<text font-size="6.3" fill="#3e3e3e" text-anchor="end" stroke="#3e3e3e" stroke-width="0.18" transform="translate(432.8 111.35) scale(0.87 1)">0.25</text>
<line x1="434.8" y1="136.2" x2="437.4" y2="136.2" stroke="#333" stroke-width="0.8"/>
<text font-size="6.3" fill="#3e3e3e" text-anchor="end" stroke="#3e3e3e" stroke-width="0.18" transform="translate(432.8 138.55) scale(0.87 1)">0.00</text>
<line x1="441.7" y1="136.5" x2="441.7" y2="138.9" stroke="#333" stroke-width="0.8"/>
<text font-size="6.3" fill="#3e3e3e" text-anchor="middle" stroke="#3e3e3e" stroke-width="0.18" transform="translate(441.7 145.6) scale(0.87 1)">3</text>
<line x1="463.2" y1="136.5" x2="463.2" y2="138.9" stroke="#333" stroke-width="0.8"/>
<text font-size="6.3" fill="#3e3e3e" text-anchor="middle" stroke="#3e3e3e" stroke-width="0.18" transform="translate(463.2 145.6) scale(0.87 1)">4</text>
<line x1="485" y1="136.5" x2="485" y2="138.9" stroke="#333" stroke-width="0.8"/>
<text font-size="6.3" fill="#3e3e3e" text-anchor="middle" stroke="#3e3e3e" stroke-width="0.18" transform="translate(485 145.6) scale(0.87 1)">5</text>
<line x1="506.3" y1="136.5" x2="506.3" y2="138.9" stroke="#333" stroke-width="0.8"/>
<text font-size="6.3" fill="#3e3e3e" text-anchor="middle" stroke="#3e3e3e" stroke-width="0.18" transform="translate(506.3 145.6) scale(0.87 1)">6</text>
<line x1="527.5" y1="136.5" x2="527.5" y2="138.9" stroke="#333" stroke-width="0.8"/>
<text font-size="6.3" fill="#3e3e3e" text-anchor="middle" stroke="#3e3e3e" stroke-width="0.18" transform="translate(527.5 145.6) scale(0.87 1)">7</text>
<text font-size="6.7" fill="#3e3e3e" text-anchor="middle" stroke="#3e3e3e" stroke-width="0.18" transform="translate(418.9 77.25) rotate(-90) scale(1 0.86)">Weighted average of the absolute scores</text>
<text font-size="6.8" fill="#3e3e3e" text-anchor="middle" stroke="#3e3e3e" stroke-width="0.18" transform="translate(490.7 154) scale(0.89 1)">GY</text>
<text font-size="6.8" fill="#111" text-anchor="start" stroke="#111" stroke-width="0.18" font-weight="bold" transform="translate(436.4 8.8) scale(0.94 1)">WAAS biplot</text>
<text font-size="8.2" fill="#333" text-anchor="start" stroke="#333" stroke-width="0.18" transform="translate(8 9.8) scale(0.82 1)">(A)</text>
<rect x="30" y="164.5" width="98.7" height="108.8" fill="#f0f0f0"/>
<line x1="30" y1="167.5" x2="124.2" y2="167.5" stroke="#7a7a7a" stroke-width="1.1"/>
<line x1="30" y1="172.92" x2="115" y2="172.92" stroke="#7a7a7a" stroke-width="1.1"/>
<line x1="30" y1="178.34" x2="102.3" y2="178.34" stroke="#7a7a7a" stroke-width="1.1"/>
<line x1="30" y1="183.76" x2="100.8" y2="183.76" stroke="#7a7a7a" stroke-width="1.1"/>
<line x1="30" y1="189.18" x2="99.5" y2="189.18" stroke="#7a7a7a" stroke-width="1.1"/>
<line x1="30" y1="194.61" x2="96.2" y2="194.61" stroke="#7a7a7a" stroke-width="1.1"/>
<line x1="30" y1="200.03" x2="94.9" y2="200.03" stroke="#7a7a7a" stroke-width="1.1"/>
<line x1="30" y1="205.45" x2="88.8" y2="205.45" stroke="#7a7a7a" stroke-width="1.1"/>
<line x1="30" y1="210.87" x2="81.4" y2="210.87" stroke="#7a7a7a" stroke-width="1.1"/>
<line x1="30" y1="216.29" x2="74.6" y2="216.29" stroke="#7a7a7a" stroke-width="1.1"/>
<line x1="30" y1="221.71" x2="74.6" y2="221.71" stroke="#7a7a7a" stroke-width="1.1"/>
<line x1="30" y1="227.13" x2="70.2" y2="227.13" stroke="#7a7a7a" stroke-width="1.1"/>
<line x1="30" y1="232.55" x2="68.4" y2="232.55" stroke="#7a7a7a" stroke-width="1.1"/>
<line x1="30" y1="237.97" x2="59" y2="237.97" stroke="#7a7a7a" stroke-width="1.1"/>
<line x1="30" y1="243.39" x2="58" y2="243.39" stroke="#7a7a7a" stroke-width="1.1"/>
<line x1="30" y1="248.82" x2="53.7" y2="248.82" stroke="#7a7a7a" stroke-width="1.1"/>
<line x1="30" y1="254.24" x2="52.4" y2="254.24" stroke="#7a7a7a" stroke-width="1.1"/>
<line x1="30" y1="259.66" x2="37.9" y2="259.66" stroke="#7a7a7a" stroke-width="1.1"/>
<line x1="30" y1="265.08" x2="37.4" y2="265.08" stroke="#7a7a7a" stroke-width="1.1"/>
<line x1="30" y1="270.5" x2="33.8" y2="270.5" stroke="#7a7a7a" stroke-width="1.1"/>
<ellipse cx="124.2" cy="167.5" rx="2.3" ry="1.95" fill="#0000e6"/>
<ellipse cx="115" cy="172.92" rx="2.3" ry="1.95" fill="#0000e6"/>
<ellipse cx="102.3" cy="178.34" rx="2.3" ry="1.95" fill="#0000e6"/>
<ellipse cx="100.8" cy="183.76" rx="2.3" ry="1.95" fill="#0000e6"/>
<ellipse cx="99.5" cy="189.18" rx="2.3" ry="1.95" fill="#0000e6"/>
<ellipse cx="96.2" cy="194.61" rx="2.3" ry="1.95" fill="#0000e6"/>
<ellipse cx="94.9" cy="200.03" rx="2.3" ry="1.95" fill="#0000e6"/>
<ellipse cx="88.8" cy="205.45" rx="2.3" ry="1.95" fill="#0000e6"/>
<ellipse cx="81.4" cy="210.87" rx="2.3" ry="1.95" fill="#0000e6"/>
<ellipse cx="74.6" cy="216.29" rx="2.3" ry="1.95" fill="#e60000"/>
<ellipse cx="74.6" cy="221.71" rx="2.3" ry="1.95" fill="#e60000"/>
<ellipse cx="70.2" cy="227.13" rx="2.3" ry="1.95" fill="#e60000"/>
<ellipse cx="68.4" cy="232.55" rx="2.3" ry="1.95" fill="#e60000"/>
<ellipse cx="59" cy="237.97" rx="2.3" ry="1.95" fill="#e60000"/>
<ellipse cx="58" cy="243.39" rx="2.3" ry="1.95" fill="#e60000"/>
<ellipse cx="53.7" cy="248.82" rx="2.3" ry="1.95" fill="#e60000"/>
<ellipse cx="52.4" cy="254.24" rx="2.3" ry="1.95" fill="#e60000"/>
<ellipse cx="37.9" cy="259.66" rx="2.3" ry="1.95" fill="#e60000"/>
<ellipse cx="37.4" cy="265.08" rx="2.3" ry="1.95" fill="#e60000"/>
<ellipse cx="33.8" cy="270.5" rx="2.3" ry="1.95" fill="#e60000"/>
<line x1="128.7" y1="164.5" x2="128.7" y2="273.3" stroke="#777" stroke-width="1.2"/>
<line x1="30" y1="273.3" x2="129.3" y2="273.3" stroke="#444" stroke-width="1.1"/>
<line x1="29.5" y1="164.5" x2="129.3" y2="164.5" stroke="#333" stroke-width="1"/>
<line x1="30" y1="164" x2="30" y2="273.8" stroke="#333" stroke-width="1.2"/>
<line x1="28" y1="167.5" x2="30" y2="167.5" stroke="#333" stroke-width="0.8"/>
<text font-size="5.2" fill="#3e3e3e" text-anchor="end" stroke="#3e3e3e" stroke-width="0.18" transform="translate(26 169.4)">G05</text>
<line x1="28" y1="172.92" x2="30" y2="172.92" stroke="#333" stroke-width="0.8"/>
<text font-size="5.2" fill="#3e3e3e" text-anchor="end" stroke="#3e3e3e" stroke-width="0.18" transform="translate(26 174.82)">G09</text>
<line x1="28" y1="178.34" x2="30" y2="178.34" stroke="#333" stroke-width="0.8"/>
<text font-size="5.2" fill="#3e3e3e" text-anchor="end" stroke="#3e3e3e" stroke-width="0.18" transform="translate(26 180.24)">G02</text>
<line x1="28" y1="183.76" x2="30" y2="183.76" stroke="#333" stroke-width="0.8"/>
<text font-size="5.2" fill="#3e3e3e" text-anchor="end" stroke="#3e3e3e" stroke-width="0.18" transform="translate(26 185.66)">G08</text>
<line x1="28" y1="189.18" x2="30" y2="189.18" stroke="#333" stroke-width="0.8"/>
<text font-size="5.2" fill="#3e3e3e" text-anchor="end" stroke="#3e3e3e" stroke-width="0.18" transform="translate(26 191.08)">G01</text>
<line x1="28" y1="194.61" x2="30" y2="194.61" stroke="#333" stroke-width="0.8"/>
<text font-size="5.2" fill="#3e3e3e" text-anchor="end" stroke="#3e3e3e" stroke-width="0.18" transform="translate(26 196.51)">G15</text>
<line x1="28" y1="200.03" x2="30" y2="200.03" stroke="#333" stroke-width="0.8"/>
<text font-size="5.2" fill="#3e3e3e" text-anchor="end" stroke="#3e3e3e" stroke-width="0.18" transform="translate(26 201.93)">G18</text>
<line x1="28" y1="205.45" x2="30" y2="205.45" stroke="#333" stroke-width="0.8"/>
<text font-size="5.2" fill="#3e3e3e" text-anchor="end" stroke="#3e3e3e" stroke-width="0.18" transform="translate(26 207.35)">G03</text>
<line x1="28" y1="210.87" x2="30" y2="210.87" stroke="#333" stroke-width="0.8"/>
<text font-size="5.2" fill="#3e3e3e" text-anchor="end" stroke="#3e3e3e" stroke-width="0.18" transform="translate(26 212.77)">G11</text>
<line x1="28" y1="216.29" x2="30" y2="216.29" stroke="#333" stroke-width="0.8"/>
<text font-size="5.2" fill="#3e3e3e" text-anchor="end" stroke="#3e3e3e" stroke-width="0.18" transform="translate(26 218.19)">G06</text>
<line x1="28" y1="221.71" x2="30" y2="221.71" stroke="#333" stroke-width="0.8"/>
<text font-size="5.2" fill="#3e3e3e" text-anchor="end" stroke="#3e3e3e" stroke-width="0.18" transform="translate(26 223.61)">G04</text>
<line x1="28" y1="227.13" x2="30" y2="227.13" stroke="#333" stroke-width="0.8"/>
<text font-size="5.2" fill="#3e3e3e" text-anchor="end" stroke="#3e3e3e" stroke-width="0.18" transform="translate(26 229.03)">G19</text>
<line x1="28" y1="232.55" x2="30" y2="232.55" stroke="#333" stroke-width="0.8"/>
<text font-size="5.2" fill="#3e3e3e" text-anchor="end" stroke="#3e3e3e" stroke-width="0.18" transform="translate(26 234.45)">G07</text>
<line x1="28" y1="237.97" x2="30" y2="237.97" stroke="#333" stroke-width="0.8"/>
<text font-size="5.2" fill="#3e3e3e" text-anchor="end" stroke="#3e3e3e" stroke-width="0.18" transform="translate(26 239.87)">G10</text>
<line x1="28" y1="243.39" x2="30" y2="243.39" stroke="#333" stroke-width="0.8"/>
<text font-size="5.2" fill="#3e3e3e" text-anchor="end" stroke="#3e3e3e" stroke-width="0.18" transform="translate(26 245.29)">G20</text>
<line x1="28" y1="248.82" x2="30" y2="248.82" stroke="#333" stroke-width="0.8"/>
<text font-size="5.2" fill="#3e3e3e" text-anchor="end" stroke="#3e3e3e" stroke-width="0.18" transform="translate(26 250.72)">G12</text>
<line x1="28" y1="254.24" x2="30" y2="254.24" stroke="#333" stroke-width="0.8"/>
<text font-size="5.2" fill="#3e3e3e" text-anchor="end" stroke="#3e3e3e" stroke-width="0.18" transform="translate(26 256.14)">G14</text>
<line x1="28" y1="259.66" x2="30" y2="259.66" stroke="#333" stroke-width="0.8"/>
<text font-size="5.2" fill="#3e3e3e" text-anchor="end" stroke="#3e3e3e" stroke-width="0.18" transform="translate(26 261.56)">G16</text>
<line x1="28" y1="265.08" x2="30" y2="265.08" stroke="#333" stroke-width="0.8"/>
<text font-size="5.2" fill="#3e3e3e" text-anchor="end" stroke="#3e3e3e" stroke-width="0.18" transform="translate(26 266.98)">G17</text>
<line x1="28" y1="270.5" x2="30" y2="270.5" stroke="#333" stroke-width="0.8"/>
<text font-size="5.2" fill="#3e3e3e" text-anchor="end" stroke="#3e3e3e" stroke-width="0.18" transform="translate(26 272.4)">G13</text>
<line x1="47.6" y1="273.3" x2="47.6" y2="275.3" stroke="#333" stroke-width="0.8"/>
<text font-size="5.2" fill="#3e3e3e" text-anchor="middle" stroke="#3e3e3e" stroke-width="0.18" transform="translate(47.6 280.7) scale(0.95 1)">40</text>
<line x1="73" y1="273.3" x2="73" y2="275.3" stroke="#333" stroke-width="0.8"/>
<text font-size="5.2" fill="#3e3e3e" text-anchor="middle" stroke="#3e3e3e" stroke-width="0.18" transform="translate(73 280.7) scale(0.95 1)">60</text>
<line x1="98.5" y1="273.3" x2="98.5" y2="275.3" stroke="#333" stroke-width="0.8"/>
<text font-size="5.2" fill="#3e3e3e" text-anchor="middle" stroke="#3e3e3e" stroke-width="0.18" transform="translate(98.5 280.7) scale(0.95 1)">80</text>
<line x1="124.2" y1="273.3" x2="124.2" y2="275.3" stroke="#333" stroke-width="0.8"/>
<text font-size="5.2" fill="#3e3e3e" text-anchor="middle" stroke="#3e3e3e" stroke-width="0.18" transform="translate(124.2 280.7) scale(0.95 1)">100</text>
<ellipse cx="106.9" cy="258.9" rx="2.1" ry="1.8" fill="#0000e6"/>
<ellipse cx="106.9" cy="265.9" rx="2.1" ry="1.8" fill="#e60000"/>
<text font-size="4.2" fill="#444" text-anchor="start" stroke="#444" stroke-width="0.18" transform="translate(114.5 260.4) scale(0.92 1)">Above</text>
<text font-size="4.2" fill="#444" text-anchor="start" stroke="#444" stroke-width="0.18" transform="translate(114.5 267.4) scale(0.95 1)">Below</text>
<text font-size="5" fill="#3e3e3e" text-anchor="middle" stroke="#3e3e3e" stroke-width="0.18" transform="translate(12.2 218.9) rotate(-90)">Genotypes</text>
<text font-size="5.6" fill="#3e3e3e" text-anchor="middle" stroke="#3e3e3e" stroke-width="0.18" transform="translate(73.8 286.9) scale(0.92 1)">WAASB</text>
<rect x="159.4" y="165.8" width="104.8" height="106.9" fill="#f0f0f0"/>
<line x1="159.4" y1="169.1" x2="259.4" y2="169.1" stroke="#7a7a7a" stroke-width="1.1"/>
<line x1="159.4" y1="174.43" x2="231.4" y2="174.43" stroke="#7a7a7a" stroke-width="1.1"/>
<line x1="159.4" y1="179.75" x2="231.4" y2="179.75" stroke="#7a7a7a" stroke-width="1.1"/>
<line x1="159.4" y1="185.08" x2="228.9" y2="185.08" stroke="#7a7a7a" stroke-width="1.1"/>
<line x1="159.4" y1="190.41" x2="220.7" y2="190.41" stroke="#7a7a7a" stroke-width="1.1"/>
<line x1="159.4" y1="195.73" x2="219.9" y2="195.73" stroke="#7a7a7a" stroke-width="1.1"/>
<line x1="159.4" y1="201.06" x2="213.4" y2="201.06" stroke="#7a7a7a" stroke-width="1.1"/>
<line x1="159.4" y1="206.38" x2="213.4" y2="206.38" stroke="#7a7a7a" stroke-width="1.1"/>
<line x1="159.4" y1="211.71" x2="210.7" y2="211.71" stroke="#7a7a7a" stroke-width="1.1"/>
<line x1="159.4" y1="217.04" x2="210.4" y2="217.04" stroke="#7a7a7a" stroke-width="1.1"/>
<line x1="159.4" y1="222.36" x2="206.8" y2="222.36" stroke="#7a7a7a" stroke-width="1.1"/>
<line x1="159.4" y1="227.69" x2="203" y2="227.69" stroke="#7a7a7a" stroke-width="1.1"/>
<line x1="159.4" y1="233.02" x2="199.8" y2="233.02" stroke="#7a7a7a" stroke-width="1.1"/>
<line x1="159.4" y1="238.34" x2="190.2" y2="238.34" stroke="#7a7a7a" stroke-width="1.1"/>
<line x1="159.4" y1="243.67" x2="180.7" y2="243.67" stroke="#7a7a7a" stroke-width="1.1"/>
<line x1="159.4" y1="248.99" x2="178.5" y2="248.99" stroke="#7a7a7a" stroke-width="1.1"/>
<line x1="159.4" y1="254.32" x2="178.2" y2="254.32" stroke="#7a7a7a" stroke-width="1.1"/>
<line x1="159.4" y1="259.65" x2="176.3" y2="259.65" stroke="#7a7a7a" stroke-width="1.1"/>
<line x1="159.4" y1="264.97" x2="170" y2="264.97" stroke="#7a7a7a" stroke-width="1.1"/>
<line x1="159.4" y1="270.3" x2="163.8" y2="270.3" stroke="#7a7a7a" stroke-width="1.1"/>
<ellipse cx="259.4" cy="169.1" rx="2.3" ry="1.95" fill="#0000e6"/>
<ellipse cx="231.4" cy="174.43" rx="2.3" ry="1.95" fill="#0000e6"/>
<ellipse cx="231.4" cy="179.75" rx="2.3" ry="1.95" fill="#0000e6"/>
<ellipse cx="228.9" cy="185.08" rx="2.3" ry="1.95" fill="#0000e6"/>
<ellipse cx="220.7" cy="190.41" rx="2.3" ry="1.95" fill="#0000e6"/>
<ellipse cx="219.9" cy="195.73" rx="2.3" ry="1.95" fill="#0000e6"/>
<ellipse cx="213.4" cy="201.06" rx="2.3" ry="1.95" fill="#0000e6"/>
<ellipse cx="213.4" cy="206.38" rx="2.3" ry="1.95" fill="#0000e6"/>
<ellipse cx="210.7" cy="211.71" rx="2.3" ry="1.95" fill="#0000e6"/>
<ellipse cx="210.4" cy="217.04" rx="2.3" ry="1.95" fill="#0000e6"/>
<ellipse cx="206.8" cy="222.36" rx="2.3" ry="1.95" fill="#0000e6"/>
<ellipse cx="203" cy="227.69" rx="2.3" ry="1.95" fill="#e60000"/>
<ellipse cx="199.8" cy="233.02" rx="2.3" ry="1.95" fill="#e60000"/>
<ellipse cx="190.2" cy="238.34" rx="2.3" ry="1.95" fill="#e60000"/>
<ellipse cx="180.7" cy="243.67" rx="2.3" ry="1.95" fill="#e60000"/>
<ellipse cx="178.5" cy="248.99" rx="2.3" ry="1.95" fill="#e60000"/>
<ellipse cx="178.2" cy="254.32" rx="2.3" ry="1.95" fill="#e60000"/>
<ellipse cx="176.3" cy="259.65" rx="2.3" ry="1.95" fill="#e60000"/>
<ellipse cx="170" cy="264.97" rx="2.3" ry="1.95" fill="#e60000"/>
<ellipse cx="163.8" cy="270.3" rx="2.3" ry="1.95" fill="#e60000"/>
<line x1="264.2" y1="165.8" x2="264.2" y2="272.7" stroke="#777" stroke-width="1.2"/>
<line x1="159.4" y1="272.7" x2="264.8" y2="272.7" stroke="#444" stroke-width="1.1"/>
<line x1="158.9" y1="165.8" x2="264.8" y2="165.8" stroke="#333" stroke-width="1"/>
<line x1="159.4" y1="165.3" x2="159.4" y2="273.2" stroke="#333" stroke-width="1.2"/>
<line x1="157.4" y1="169.1" x2="159.4" y2="169.1" stroke="#333" stroke-width="0.8"/>
<text font-size="5.2" fill="#3e3e3e" text-anchor="end" stroke="#3e3e3e" stroke-width="0.18" transform="translate(155.4 171)">G16</text>
<line x1="157.4" y1="174.43" x2="159.4" y2="174.43" stroke="#333" stroke-width="0.8"/>
<text font-size="5.2" fill="#3e3e3e" text-anchor="end" stroke="#3e3e3e" stroke-width="0.18" transform="translate(155.4 176.33)">G19</text>
<line x1="157.4" y1="179.75" x2="159.4" y2="179.75" stroke="#333" stroke-width="0.8"/>
<text font-size="5.2" fill="#3e3e3e" text-anchor="end" stroke="#3e3e3e" stroke-width="0.18" transform="translate(155.4 181.65)">G08</text>
<line x1="157.4" y1="185.08" x2="159.4" y2="185.08" stroke="#333" stroke-width="0.8"/>
<text font-size="5.2" fill="#3e3e3e" text-anchor="end" stroke="#3e3e3e" stroke-width="0.18" transform="translate(155.4 186.98)">G12</text>
<line x1="157.4" y1="190.41" x2="159.4" y2="190.41" stroke="#333" stroke-width="0.8"/>
<text font-size="5.2" fill="#3e3e3e" text-anchor="end" stroke="#3e3e3e" stroke-width="0.18" transform="translate(155.4 192.31)">G04</text>
<line x1="157.4" y1="195.73" x2="159.4" y2="195.73" stroke="#333" stroke-width="0.8"/>
<text font-size="5.2" fill="#3e3e3e" text-anchor="end" stroke="#3e3e3e" stroke-width="0.18" transform="translate(155.4 197.63)">G06</text>
<line x1="157.4" y1="201.06" x2="159.4" y2="201.06" stroke="#333" stroke-width="0.8"/>
<text font-size="5.2" fill="#3e3e3e" text-anchor="end" stroke="#3e3e3e" stroke-width="0.18" transform="translate(155.4 202.96)">G17</text>
<line x1="157.4" y1="206.38" x2="159.4" y2="206.38" stroke="#333" stroke-width="0.8"/>
<text font-size="5.2" fill="#3e3e3e" text-anchor="end" stroke="#3e3e3e" stroke-width="0.18" transform="translate(155.4 208.28)">G01</text>
<line x1="157.4" y1="211.71" x2="159.4" y2="211.71" stroke="#333" stroke-width="0.8"/>
<text font-size="5.2" fill="#3e3e3e" text-anchor="end" stroke="#3e3e3e" stroke-width="0.18" transform="translate(155.4 213.61)">G03</text>
<line x1="157.4" y1="217.04" x2="159.4" y2="217.04" stroke="#333" stroke-width="0.8"/>
<text font-size="5.2" fill="#3e3e3e" text-anchor="end" stroke="#3e3e3e" stroke-width="0.18" transform="translate(155.4 218.94)">G15</text>
<line x1="157.4" y1="222.36" x2="159.4" y2="222.36" stroke="#333" stroke-width="0.8"/>
<text font-size="5.2" fill="#3e3e3e" text-anchor="end" stroke="#3e3e3e" stroke-width="0.18" transform="translate(155.4 224.26)">G14</text>
<line x1="157.4" y1="227.69" x2="159.4" y2="227.69" stroke="#333" stroke-width="0.8"/>
<text font-size="5.2" fill="#3e3e3e" text-anchor="end" stroke="#3e3e3e" stroke-width="0.18" transform="translate(155.4 229.59)">G02</text>
<line x1="157.4" y1="233.02" x2="159.4" y2="233.02" stroke="#333" stroke-width="0.8"/>
<text font-size="5.2" fill="#3e3e3e" text-anchor="end" stroke="#3e3e3e" stroke-width="0.18" transform="translate(155.4 234.92)">G07</text>
<line x1="157.4" y1="238.34" x2="159.4" y2="238.34" stroke="#333" stroke-width="0.8"/>
<text font-size="5.2" fill="#3e3e3e" text-anchor="end" stroke="#3e3e3e" stroke-width="0.18" transform="translate(155.4 240.24)">G13</text>
<line x1="157.4" y1="243.67" x2="159.4" y2="243.67" stroke="#333" stroke-width="0.8"/>
<text font-size="5.2" fill="#3e3e3e" text-anchor="end" stroke="#3e3e3e" stroke-width="0.18" transform="translate(155.4 245.57)">G10</text>
<line x1="157.4" y1="248.99" x2="159.4" y2="248.99" stroke="#333" stroke-width="0.8"/>
<text font-size="5.2" fill="#3e3e3e" text-anchor="end" stroke="#3e3e3e" stroke-width="0.18" transform="translate(155.4 250.89)">G18</text>
<line x1="157.4" y1="254.32" x2="159.4" y2="254.32" stroke="#333" stroke-width="0.8"/>
<text font-size="5.2" fill="#3e3e3e" text-anchor="end" stroke="#3e3e3e" stroke-width="0.18" transform="translate(155.4 256.22)">G09</text>
<line x1="157.4" y1="259.65" x2="159.4" y2="259.65" stroke="#333" stroke-width="0.8"/>
<text font-size="5.2" fill="#3e3e3e" text-anchor="end" stroke="#3e3e3e" stroke-width="0.18" transform="translate(155.4 261.55)">G05</text>
<line x1="157.4" y1="264.97" x2="159.4" y2="264.97" stroke="#333" stroke-width="0.8"/>
<text font-size="5.2" fill="#3e3e3e" text-anchor="end" stroke="#3e3e3e" stroke-width="0.18" transform="translate(155.4 266.87)">G20</text>
<line x1="157.4" y1="270.3" x2="159.4" y2="270.3" stroke="#333" stroke-width="0.8"/>
<text font-size="5.2" fill="#3e3e3e" text-anchor="end" stroke="#3e3e3e" stroke-width="0.18" transform="translate(155.4 272.2)">G11</text>
<line x1="164.6" y1="272.7" x2="164.6" y2="274.7" stroke="#333" stroke-width="0.8"/>
<text font-size="5.2" fill="#3e3e3e" text-anchor="middle" stroke="#3e3e3e" stroke-width="0.18" transform="translate(164.6 280.1) scale(0.95 1)">30</text>
<line x1="181" y1="272.7" x2="181" y2="274.7" stroke="#333" stroke-width="0.8"/>
<text font-size="5.2" fill="#3e3e3e" text-anchor="middle" stroke="#3e3e3e" stroke-width="0.18" transform="translate(181 280.1) scale(0.95 1)">40</text>
<line x1="197.6" y1="272.7" x2="197.6" y2="274.7" stroke="#333" stroke-width="0.8"/>
<text font-size="5.2" fill="#3e3e3e" text-anchor="middle" stroke="#3e3e3e" stroke-width="0.18" transform="translate(197.6 280.1) scale(0.95 1)">50</text>
<line x1="213.9" y1="272.7" x2="213.9" y2="274.7" stroke="#333" stroke-width="0.8"/>
<text font-size="5.2" fill="#3e3e3e" text-anchor="middle" stroke="#3e3e3e" stroke-width="0.18" transform="translate(213.9 280.1) scale(0.95 1)">60</text>
<line x1="230.5" y1="272.7" x2="230.5" y2="274.7" stroke="#333" stroke-width="0.8"/>
<text font-size="5.2" fill="#3e3e3e" text-anchor="middle" stroke="#3e3e3e" stroke-width="0.18" transform="translate(230.5 280.1) scale(0.95 1)">70</text>
<line x1="247.2" y1="272.7" x2="247.2" y2="274.7" stroke="#333" stroke-width="0.8"/>
<text font-size="5.2" fill="#3e3e3e" text-anchor="middle" stroke="#3e3e3e" stroke-width="0.18" transform="translate(247.2 280.1) scale(0.95 1)">80</text>
<line x1="263" y1="272.7" x2="263" y2="274.7" stroke="#333" stroke-width="0.8"/>
<text font-size="5.2" fill="#3e3e3e" text-anchor="middle" stroke="#3e3e3e" stroke-width="0.18" transform="translate(263 280.1) scale(0.95 1)">90</text>
<ellipse cx="240.4" cy="259" rx="2.1" ry="1.8" fill="#0000e6"/>
<ellipse cx="240.4" cy="266" rx="2.1" ry="1.8" fill="#e60000"/>
<text font-size="4.2" fill="#444" text-anchor="start" stroke="#444" stroke-width="0.18" transform="translate(251.3 260.5) scale(0.92 1)">Above</text>
<text font-size="4.2" fill="#444" text-anchor="start" stroke="#444" stroke-width="0.18" transform="translate(251.3 267.5) scale(0.95 1)">Below</text>
<text font-size="5" fill="#3e3e3e" text-anchor="middle" stroke="#3e3e3e" stroke-width="0.18" transform="translate(140.5 219.25) rotate(-90)">Genotypes</text>
<text font-size="5.6" fill="#3e3e3e" text-anchor="middle" stroke="#3e3e3e" stroke-width="0.18" transform="translate(209 286.9) scale(0.92 1)">WAASB</text>
<rect x="296.4" y="169.2" width="106.9" height="104.6" fill="#f0f0f0"/>
<line x1="296.4" y1="172.4" x2="398" y2="172.4" stroke="#7a7a7a" stroke-width="1.1"/>
<line x1="296.4" y1="177.59" x2="397.5" y2="177.59" stroke="#7a7a7a" stroke-width="1.1"/>
<line x1="296.4" y1="182.79" x2="392.6" y2="182.79" stroke="#7a7a7a" stroke-width="1.1"/>
<line x1="296.4" y1="187.98" x2="392.1" y2="187.98" stroke="#7a7a7a" stroke-width="1.1"/>
<line x1="296.4" y1="193.18" x2="390.4" y2="193.18" stroke="#7a7a7a" stroke-width="1.1"/>
<line x1="296.4" y1="198.37" x2="390.4" y2="198.37" stroke="#7a7a7a" stroke-width="1.1"/>
<line x1="296.4" y1="203.57" x2="389.1" y2="203.57" stroke="#7a7a7a" stroke-width="1.1"/>
<line x1="296.4" y1="208.76" x2="386.6" y2="208.76" stroke="#7a7a7a" stroke-width="1.1"/>
<line x1="296.4" y1="213.96" x2="382.5" y2="213.96" stroke="#7a7a7a" stroke-width="1.1"/>
<line x1="296.4" y1="219.15" x2="377.1" y2="219.15" stroke="#7a7a7a" stroke-width="1.1"/>
<line x1="296.4" y1="224.35" x2="377.1" y2="224.35" stroke="#7a7a7a" stroke-width="1.1"/>
<line x1="296.4" y1="229.54" x2="376.8" y2="229.54" stroke="#7a7a7a" stroke-width="1.1"/>
<line x1="296.4" y1="234.74" x2="374.4" y2="234.74" stroke="#7a7a7a" stroke-width="1.1"/>
<line x1="296.4" y1="239.93" x2="368.1" y2="239.93" stroke="#7a7a7a" stroke-width="1.1"/>
<line x1="296.4" y1="245.13" x2="355.3" y2="245.13" stroke="#7a7a7a" stroke-width="1.1"/>
<line x1="296.4" y1="250.32" x2="346.3" y2="250.32" stroke="#7a7a7a" stroke-width="1.1"/>
<line x1="296.4" y1="255.52" x2="345.7" y2="255.52" stroke="#7a7a7a" stroke-width="1.1"/>
<line x1="296.4" y1="260.71" x2="324.5" y2="260.71" stroke="#7a7a7a" stroke-width="1.1"/>
<line x1="296.4" y1="265.91" x2="320.4" y2="265.91" stroke="#7a7a7a" stroke-width="1.1"/>
<line x1="296.4" y1="271.1" x2="300.8" y2="271.1" stroke="#7a7a7a" stroke-width="1.1"/>
<ellipse cx="398" cy="172.4" rx="2.3" ry="1.95" fill="#0000e6"/>
<ellipse cx="397.5" cy="177.59" rx="2.3" ry="1.95" fill="#0000e6"/>
<ellipse cx="392.6" cy="182.79" rx="2.3" ry="1.95" fill="#0000e6"/>
<ellipse cx="392.1" cy="187.98" rx="2.3" ry="1.95" fill="#0000e6"/>
<ellipse cx="390.4" cy="193.18" rx="2.3" ry="1.95" fill="#0000e6"/>
<ellipse cx="390.4" cy="198.37" rx="2.3" ry="1.95" fill="#0000e6"/>
<ellipse cx="389.1" cy="203.57" rx="2.3" ry="1.95" fill="#0000e6"/>
<ellipse cx="386.6" cy="208.76" rx="2.3" ry="1.95" fill="#0000e6"/>
<ellipse cx="382.5" cy="213.96" rx="2.3" ry="1.95" fill="#0000e6"/>
<ellipse cx="377.1" cy="219.15" rx="2.3" ry="1.95" fill="#0000e6"/>
<ellipse cx="377.1" cy="224.35" rx="2.3" ry="1.95" fill="#0000e6"/>
<ellipse cx="376.8" cy="229.54" rx="2.3" ry="1.95" fill="#0000e6"/>
<ellipse cx="374.4" cy="234.74" rx="2.3" ry="1.95" fill="#0000e6"/>
<ellipse cx="368.1" cy="239.93" rx="2.3" ry="1.95" fill="#e60000"/>
<ellipse cx="355.3" cy="245.13" rx="2.3" ry="1.95" fill="#e60000"/>
<ellipse cx="346.3" cy="250.32" rx="2.3" ry="1.95" fill="#e60000"/>
<ellipse cx="345.7" cy="255.52" rx="2.3" ry="1.95" fill="#e60000"/>
<ellipse cx="324.5" cy="260.71" rx="2.3" ry="1.95" fill="#e60000"/>
<ellipse cx="320.4" cy="265.91" rx="2.3" ry="1.95" fill="#e60000"/>
<ellipse cx="300.8" cy="271.1" rx="2.3" ry="1.95" fill="#e60000"/>
<line x1="403.3" y1="169.2" x2="403.3" y2="273.8" stroke="#777" stroke-width="1.2"/>
<line x1="296.4" y1="273.8" x2="403.9" y2="273.8" stroke="#444" stroke-width="1.1"/>
<line x1="295.9" y1="169.2" x2="403.9" y2="169.2" stroke="#333" stroke-width="1"/>
<line x1="296.4" y1="168.7" x2="296.4" y2="274.3" stroke="#333" stroke-width="1.2"/>
<line x1="294.4" y1="172.4" x2="296.4" y2="172.4" stroke="#333" stroke-width="0.8"/>
<text font-size="5.2" fill="#3e3e3e" text-anchor="end" stroke="#3e3e3e" stroke-width="0.18" transform="translate(292.4 174.3)">G02</text>
<line x1="294.4" y1="177.59" x2="296.4" y2="177.59" stroke="#333" stroke-width="0.8"/>
<text font-size="5.2" fill="#3e3e3e" text-anchor="end" stroke="#3e3e3e" stroke-width="0.18" transform="translate(292.4 179.49)">G07</text>
<line x1="294.4" y1="182.79" x2="296.4" y2="182.79" stroke="#333" stroke-width="0.8"/>
<text font-size="5.2" fill="#3e3e3e" text-anchor="end" stroke="#3e3e3e" stroke-width="0.18" transform="translate(292.4 184.69)">G06</text>
<line x1="294.4" y1="187.98" x2="296.4" y2="187.98" stroke="#333" stroke-width="0.8"/>
<text font-size="5.2" fill="#3e3e3e" text-anchor="end" stroke="#3e3e3e" stroke-width="0.18" transform="translate(292.4 189.88)">G01</text>
<line x1="294.4" y1="193.18" x2="296.4" y2="193.18" stroke="#333" stroke-width="0.8"/>
<text font-size="5.2" fill="#3e3e3e" text-anchor="end" stroke="#3e3e3e" stroke-width="0.18" transform="translate(292.4 195.08)">G08</text>
<line x1="294.4" y1="198.37" x2="296.4" y2="198.37" stroke="#333" stroke-width="0.8"/>
<text font-size="5.2" fill="#3e3e3e" text-anchor="end" stroke="#3e3e3e" stroke-width="0.18" transform="translate(292.4 200.27)">G10</text>
<line x1="294.4" y1="203.57" x2="296.4" y2="203.57" stroke="#333" stroke-width="0.8"/>
<text font-size="5.2" fill="#3e3e3e" text-anchor="end" stroke="#3e3e3e" stroke-width="0.18" transform="translate(292.4 205.47)">G13</text>
<line x1="294.4" y1="208.76" x2="296.4" y2="208.76" stroke="#333" stroke-width="0.8"/>
<text font-size="5.2" fill="#3e3e3e" text-anchor="end" stroke="#3e3e3e" stroke-width="0.18" transform="translate(292.4 210.66)">G12</text>
<line x1="294.4" y1="213.96" x2="296.4" y2="213.96" stroke="#333" stroke-width="0.8"/>
<text font-size="5.2" fill="#3e3e3e" text-anchor="end" stroke="#3e3e3e" stroke-width="0.18" transform="translate(292.4 215.86)">G14</text>
<line x1="294.4" y1="219.15" x2="296.4" y2="219.15" stroke="#333" stroke-width="0.8"/>
<text font-size="5.2" fill="#3e3e3e" text-anchor="end" stroke="#3e3e3e" stroke-width="0.18" transform="translate(292.4 221.05)">G03</text>
<line x1="294.4" y1="224.35" x2="296.4" y2="224.35" stroke="#333" stroke-width="0.8"/>
<text font-size="5.2" fill="#3e3e3e" text-anchor="end" stroke="#3e3e3e" stroke-width="0.18" transform="translate(292.4 226.25)">G11</text>
<line x1="294.4" y1="229.54" x2="296.4" y2="229.54" stroke="#333" stroke-width="0.8"/>
<text font-size="5.2" fill="#3e3e3e" text-anchor="end" stroke="#3e3e3e" stroke-width="0.18" transform="translate(292.4 231.44)">G04</text>
<line x1="294.4" y1="234.74" x2="296.4" y2="234.74" stroke="#333" stroke-width="0.8"/>
<text font-size="5.2" fill="#3e3e3e" text-anchor="end" stroke="#3e3e3e" stroke-width="0.18" transform="translate(292.4 236.64)">G17</text>
<line x1="294.4" y1="239.93" x2="296.4" y2="239.93" stroke="#333" stroke-width="0.8"/>
<text font-size="5.2" fill="#3e3e3e" text-anchor="end" stroke="#3e3e3e" stroke-width="0.18" transform="translate(292.4 241.83)">G16</text>
<line x1="294.4" y1="245.13" x2="296.4" y2="245.13" stroke="#333" stroke-width="0.8"/>
<text font-size="5.2" fill="#3e3e3e" text-anchor="end" stroke="#3e3e3e" stroke-width="0.18" transform="translate(292.4 247.03)">G18</text>
<line x1="294.4" y1="250.32" x2="296.4" y2="250.32" stroke="#333" stroke-width="0.8"/>
<text font-size="5.2" fill="#3e3e3e" text-anchor="end" stroke="#3e3e3e" stroke-width="0.18" transform="translate(292.4 252.22)">G09</text>
<line x1="294.4" y1="255.52" x2="296.4" y2="255.52" stroke="#333" stroke-width="0.8"/>
<text font-size="5.2" fill="#3e3e3e" text-anchor="end" stroke="#3e3e3e" stroke-width="0.18" transform="translate(292.4 257.42)">G05</text>
<line x1="294.4" y1="260.71" x2="296.4" y2="260.71" stroke="#333" stroke-width="0.8"/>
<text font-size="5.2" fill="#3e3e3e" text-anchor="end" stroke="#3e3e3e" stroke-width="0.18" transform="translate(292.4 262.61)">G19</text>
<line x1="294.4" y1="265.91" x2="296.4" y2="265.91" stroke="#333" stroke-width="0.8"/>
<text font-size="5.2" fill="#3e3e3e" text-anchor="end" stroke="#3e3e3e" stroke-width="0.18" transform="translate(292.4 267.81)">G15</text>
<line x1="294.4" y1="271.1" x2="296.4" y2="271.1" stroke="#333" stroke-width="0.8"/>
<text font-size="5.2" fill="#3e3e3e" text-anchor="end" stroke="#3e3e3e" stroke-width="0.18" transform="translate(292.4 273)">G20</text>
<line x1="317.7" y1="273.8" x2="317.7" y2="275.8" stroke="#333" stroke-width="0.8"/>
<text font-size="5.2" fill="#3e3e3e" text-anchor="middle" stroke="#3e3e3e" stroke-width="0.18" transform="translate(317.7 281.2) scale(0.95 1)">20</text>
<line x1="346.3" y1="273.8" x2="346.3" y2="275.8" stroke="#333" stroke-width="0.8"/>
<text font-size="5.2" fill="#3e3e3e" text-anchor="middle" stroke="#3e3e3e" stroke-width="0.18" transform="translate(346.3 281.2) scale(0.95 1)">40</text>
<line x1="374.1" y1="273.8" x2="374.1" y2="275.8" stroke="#333" stroke-width="0.8"/>
<text font-size="5.2" fill="#3e3e3e" text-anchor="middle" stroke="#3e3e3e" stroke-width="0.18" transform="translate(374.1 281.2) scale(0.95 1)">60</text>
<line x1="402.2" y1="273.8" x2="402.2" y2="275.8" stroke="#333" stroke-width="0.8"/>
<text font-size="5.2" fill="#3e3e3e" text-anchor="middle" stroke="#3e3e3e" stroke-width="0.18" transform="translate(402.2 281.2) scale(0.95 1)">80</text>
<ellipse cx="379.8" cy="259.8" rx="2.1" ry="1.8" fill="#0000e6"/>
<ellipse cx="379.8" cy="266.8" rx="2.1" ry="1.8" fill="#e60000"/>
<text font-size="4.2" fill="#444" text-anchor="start" stroke="#444" stroke-width="0.18" transform="translate(389.9 261.3) scale(0.92 1)">Above</text>
<text font-size="4.2" fill="#444" text-anchor="start" stroke="#444" stroke-width="0.18" transform="translate(389.9 268.3) scale(0.95 1)">Below</text>
<text font-size="5" fill="#3e3e3e" text-anchor="middle" stroke="#3e3e3e" stroke-width="0.18" transform="translate(276.4 221.5) rotate(-90)">Genotypes</text>
<text font-size="5.6" fill="#3e3e3e" text-anchor="middle" stroke="#3e3e3e" stroke-width="0.18" transform="translate(343.6 286.9) scale(0.92 1)">WAASB</text>
<rect x="441.5" y="168.3" width="102.7" height="105" fill="#f0f0f0"/>
<line x1="441.5" y1="171" x2="539.8" y2="171" stroke="#7a7a7a" stroke-width="1.1"/>
<line x1="441.5" y1="176.25" x2="530.8" y2="176.25" stroke="#7a7a7a" stroke-width="1.1"/>
<line x1="441.5" y1="181.51" x2="516.6" y2="181.51" stroke="#7a7a7a" stroke-width="1.1"/>
<line x1="441.5" y1="186.76" x2="504.9" y2="186.76" stroke="#7a7a7a" stroke-width="1.1"/>
<line x1="441.5" y1="192.01" x2="503.5" y2="192.01" stroke="#7a7a7a" stroke-width="1.1"/>
<line x1="441.5" y1="197.26" x2="493.2" y2="197.26" stroke="#7a7a7a" stroke-width="1.1"/>
<line x1="441.5" y1="202.52" x2="492.6" y2="202.52" stroke="#7a7a7a" stroke-width="1.1"/>
<line x1="441.5" y1="207.77" x2="492.1" y2="207.77" stroke="#7a7a7a" stroke-width="1.1"/>
<line x1="441.5" y1="213.02" x2="489.4" y2="213.02" stroke="#7a7a7a" stroke-width="1.1"/>
<line x1="441.5" y1="218.27" x2="488" y2="218.27" stroke="#7a7a7a" stroke-width="1.1"/>
<line x1="441.5" y1="223.53" x2="486.6" y2="223.53" stroke="#7a7a7a" stroke-width="1.1"/>
<line x1="441.5" y1="228.78" x2="480.9" y2="228.78" stroke="#7a7a7a" stroke-width="1.1"/>
<line x1="441.5" y1="234.03" x2="476.8" y2="234.03" stroke="#7a7a7a" stroke-width="1.1"/>
<line x1="441.5" y1="239.28" x2="470.8" y2="239.28" stroke="#7a7a7a" stroke-width="1.1"/>
<line x1="441.5" y1="244.54" x2="468.9" y2="244.54" stroke="#7a7a7a" stroke-width="1.1"/>
<line x1="441.5" y1="249.79" x2="466.8" y2="249.79" stroke="#7a7a7a" stroke-width="1.1"/>
<line x1="441.5" y1="255.04" x2="466.2" y2="255.04" stroke="#7a7a7a" stroke-width="1.1"/>
<line x1="441.5" y1="260.29" x2="455" y2="260.29" stroke="#7a7a7a" stroke-width="1.1"/>
<line x1="441.5" y1="265.55" x2="453.1" y2="265.55" stroke="#7a7a7a" stroke-width="1.1"/>
<line x1="441.5" y1="270.8" x2="445.5" y2="270.8" stroke="#7a7a7a" stroke-width="1.1"/>
<ellipse cx="539.8" cy="171" rx="2.3" ry="1.95" fill="#0000e6"/>
<ellipse cx="530.8" cy="176.25" rx="2.3" ry="1.95" fill="#0000e6"/>
<ellipse cx="516.6" cy="181.51" rx="2.3" ry="1.95" fill="#0000e6"/>
<ellipse cx="504.9" cy="186.76" rx="2.3" ry="1.95" fill="#0000e6"/>
<ellipse cx="503.5" cy="192.01" rx="2.3" ry="1.95" fill="#0000e6"/>
<ellipse cx="493.2" cy="197.26" rx="2.3" ry="1.95" fill="#0000e6"/>
<ellipse cx="492.6" cy="202.52" rx="2.3" ry="1.95" fill="#0000e6"/>
<ellipse cx="492.1" cy="207.77" rx="2.3" ry="1.95" fill="#0000e6"/>
<ellipse cx="489.4" cy="213.02" rx="2.3" ry="1.95" fill="#0000e6"/>
<ellipse cx="488" cy="218.27" rx="2.3" ry="1.95" fill="#0000e6"/>
<ellipse cx="486.6" cy="223.53" rx="2.3" ry="1.95" fill="#0000e6"/>
<ellipse cx="480.9" cy="228.78" rx="2.3" ry="1.95" fill="#e60000"/>
<ellipse cx="476.8" cy="234.03" rx="2.3" ry="1.95" fill="#e60000"/>
<ellipse cx="470.8" cy="239.28" rx="2.3" ry="1.95" fill="#e60000"/>
<ellipse cx="468.9" cy="244.54" rx="2.3" ry="1.95" fill="#e60000"/>
<ellipse cx="466.8" cy="249.79" rx="2.3" ry="1.95" fill="#e60000"/>
<ellipse cx="466.2" cy="255.04" rx="2.3" ry="1.95" fill="#e60000"/>
<ellipse cx="455" cy="260.29" rx="2.3" ry="1.95" fill="#e60000"/>
<ellipse cx="453.1" cy="265.55" rx="2.3" ry="1.95" fill="#e60000"/>
<ellipse cx="445.5" cy="270.8" rx="2.3" ry="1.95" fill="#e60000"/>
<line x1="544.2" y1="168.3" x2="544.2" y2="273.3" stroke="#777" stroke-width="1.2"/>
<line x1="441.5" y1="273.3" x2="544.8" y2="273.3" stroke="#444" stroke-width="1.1"/>
<line x1="441" y1="168.3" x2="544.8" y2="168.3" stroke="#333" stroke-width="1"/>
<line x1="441.5" y1="167.8" x2="441.5" y2="273.8" stroke="#333" stroke-width="1.2"/>
<line x1="439.5" y1="171" x2="441.5" y2="171" stroke="#333" stroke-width="0.8"/>
<text font-size="5.2" fill="#3e3e3e" text-anchor="end" stroke="#3e3e3e" stroke-width="0.18" transform="translate(437.5 172.9)">G18</text>
<line x1="439.5" y1="176.25" x2="441.5" y2="176.25" stroke="#333" stroke-width="0.8"/>
<text font-size="5.2" fill="#3e3e3e" text-anchor="end" stroke="#3e3e3e" stroke-width="0.18" transform="translate(437.5 178.15)">G04</text>
<line x1="439.5" y1="181.51" x2="441.5" y2="181.51" stroke="#333" stroke-width="0.8"/>
<text font-size="5.2" fill="#3e3e3e" text-anchor="end" stroke="#3e3e3e" stroke-width="0.18" transform="translate(437.5 183.41)">G13</text>
<line x1="439.5" y1="186.76" x2="441.5" y2="186.76" stroke="#333" stroke-width="0.8"/>
<text font-size="5.2" fill="#3e3e3e" text-anchor="end" stroke="#3e3e3e" stroke-width="0.18" transform="translate(437.5 188.66)">G10</text>
<line x1="439.5" y1="192.01" x2="441.5" y2="192.01" stroke="#333" stroke-width="0.8"/>
<text font-size="5.2" fill="#3e3e3e" text-anchor="end" stroke="#3e3e3e" stroke-width="0.18" transform="translate(437.5 193.91)">G08</text>
<line x1="439.5" y1="197.26" x2="441.5" y2="197.26" stroke="#333" stroke-width="0.8"/>
<text font-size="5.2" fill="#3e3e3e" text-anchor="end" stroke="#3e3e3e" stroke-width="0.18" transform="translate(437.5 199.16)">G07</text>
<line x1="439.5" y1="202.52" x2="441.5" y2="202.52" stroke="#333" stroke-width="0.8"/>
<text font-size="5.2" fill="#3e3e3e" text-anchor="end" stroke="#3e3e3e" stroke-width="0.18" transform="translate(437.5 204.42)">G05</text>
<line x1="439.5" y1="207.77" x2="441.5" y2="207.77" stroke="#333" stroke-width="0.8"/>
<text font-size="5.2" fill="#3e3e3e" text-anchor="end" stroke="#3e3e3e" stroke-width="0.18" transform="translate(437.5 209.67)">G12</text>
<line x1="439.5" y1="213.02" x2="441.5" y2="213.02" stroke="#333" stroke-width="0.8"/>
<text font-size="5.2" fill="#3e3e3e" text-anchor="end" stroke="#3e3e3e" stroke-width="0.18" transform="translate(437.5 214.92)">G20</text>
<line x1="439.5" y1="218.27" x2="441.5" y2="218.27" stroke="#333" stroke-width="0.8"/>
<text font-size="5.2" fill="#3e3e3e" text-anchor="end" stroke="#3e3e3e" stroke-width="0.18" transform="translate(437.5 220.17)">G06</text>
<line x1="439.5" y1="223.53" x2="441.5" y2="223.53" stroke="#333" stroke-width="0.8"/>
<text font-size="5.2" fill="#3e3e3e" text-anchor="end" stroke="#3e3e3e" stroke-width="0.18" transform="translate(437.5 225.43)">G02</text>
<line x1="439.5" y1="228.78" x2="441.5" y2="228.78" stroke="#333" stroke-width="0.8"/>
<text font-size="5.2" fill="#3e3e3e" text-anchor="end" stroke="#3e3e3e" stroke-width="0.18" transform="translate(437.5 230.68)">G16</text>
<line x1="439.5" y1="234.03" x2="441.5" y2="234.03" stroke="#333" stroke-width="0.8"/>
<text font-size="5.2" fill="#3e3e3e" text-anchor="end" stroke="#3e3e3e" stroke-width="0.18" transform="translate(437.5 235.93)">G15</text>
<line x1="439.5" y1="239.28" x2="441.5" y2="239.28" stroke="#333" stroke-width="0.8"/>
<text font-size="5.2" fill="#3e3e3e" text-anchor="end" stroke="#3e3e3e" stroke-width="0.18" transform="translate(437.5 241.18)">G14</text>
<line x1="439.5" y1="244.54" x2="441.5" y2="244.54" stroke="#333" stroke-width="0.8"/>
<text font-size="5.2" fill="#3e3e3e" text-anchor="end" stroke="#3e3e3e" stroke-width="0.18" transform="translate(437.5 246.44)">G03</text>
<line x1="439.5" y1="249.79" x2="441.5" y2="249.79" stroke="#333" stroke-width="0.8"/>
<text font-size="5.2" fill="#3e3e3e" text-anchor="end" stroke="#3e3e3e" stroke-width="0.18" transform="translate(437.5 251.69)">G09</text>
<line x1="439.5" y1="255.04" x2="441.5" y2="255.04" stroke="#333" stroke-width="0.8"/>
<text font-size="5.2" fill="#3e3e3e" text-anchor="end" stroke="#3e3e3e" stroke-width="0.18" transform="translate(437.5 256.94)">G01</text>
<line x1="439.5" y1="260.29" x2="441.5" y2="260.29" stroke="#333" stroke-width="0.8"/>
<text font-size="5.2" fill="#3e3e3e" text-anchor="end" stroke="#3e3e3e" stroke-width="0.18" transform="translate(437.5 262.19)">G11</text>
<line x1="439.5" y1="265.55" x2="441.5" y2="265.55" stroke="#333" stroke-width="0.8"/>
<text font-size="5.2" fill="#3e3e3e" text-anchor="end" stroke="#3e3e3e" stroke-width="0.18" transform="translate(437.5 267.45)">G17</text>
<line x1="439.5" y1="270.8" x2="441.5" y2="270.8" stroke="#333" stroke-width="0.8"/>
<text font-size="5.2" fill="#3e3e3e" text-anchor="end" stroke="#3e3e3e" stroke-width="0.18" transform="translate(437.5 272.7)">G19</text>
<line x1="443.6" y1="273.3" x2="443.6" y2="275.3" stroke="#333" stroke-width="0.8"/>
<text font-size="5.2" fill="#3e3e3e" text-anchor="middle" stroke="#3e3e3e" stroke-width="0.18" transform="translate(443.6 280.7) scale(0.95 1)">30</text>
<line x1="462.7" y1="273.3" x2="462.7" y2="275.3" stroke="#333" stroke-width="0.8"/>
<text font-size="5.2" fill="#3e3e3e" text-anchor="middle" stroke="#3e3e3e" stroke-width="0.18" transform="translate(462.7 280.7) scale(0.95 1)">40</text>
<line x1="481.7" y1="273.3" x2="481.7" y2="275.3" stroke="#333" stroke-width="0.8"/>
<text font-size="5.2" fill="#3e3e3e" text-anchor="middle" stroke="#3e3e3e" stroke-width="0.18" transform="translate(481.7 280.7) scale(0.95 1)">50</text>
<line x1="501.4" y1="273.3" x2="501.4" y2="275.3" stroke="#333" stroke-width="0.8"/>
<text font-size="5.2" fill="#3e3e3e" text-anchor="middle" stroke="#3e3e3e" stroke-width="0.18" transform="translate(501.4 280.7) scale(0.95 1)">60</text>
<line x1="520.7" y1="273.3" x2="520.7" y2="275.3" stroke="#333" stroke-width="0.8"/>
<text font-size="5.2" fill="#3e3e3e" text-anchor="middle" stroke="#3e3e3e" stroke-width="0.18" transform="translate(520.7 280.7) scale(0.95 1)">70</text>
<line x1="539.8" y1="273.3" x2="539.8" y2="275.3" stroke="#333" stroke-width="0.8"/>
<text font-size="5.2" fill="#3e3e3e" text-anchor="middle" stroke="#3e3e3e" stroke-width="0.18" transform="translate(539.8 280.7) scale(0.95 1)">80</text>
<ellipse cx="521.3" cy="259" rx="2.1" ry="1.8" fill="#0000e6"/>
<ellipse cx="521.3" cy="266" rx="2.1" ry="1.8" fill="#e60000"/>
<text font-size="4.2" fill="#444" text-anchor="start" stroke="#444" stroke-width="0.18" transform="translate(530.8 260.5) scale(0.92 1)">Above</text>
<text font-size="4.2" fill="#444" text-anchor="start" stroke="#444" stroke-width="0.18" transform="translate(530.8 267.5) scale(0.95 1)">Below</text>
<text font-size="5" fill="#3e3e3e" text-anchor="middle" stroke="#3e3e3e" stroke-width="0.18" transform="translate(421.9 220.8) rotate(-90)">Genotypes</text>
<text font-size="5.6" fill="#3e3e3e" text-anchor="middle" stroke="#3e3e3e" stroke-width="0.18" transform="translate(492.1 286.9) scale(0.92 1)">WAASB</text>
<text font-size="8.2" fill="#333" text-anchor="start" stroke="#333" stroke-width="0.18" transform="translate(8 162.3) scale(0.82 1)">(B)</text>
<rect x="19.1" y="292.1" width="100.2" height="131.7" fill="#059c86" shape-rendering="crispEdges"/>
<rect x="39.14" y="292.1" width="80.16" height="131.7" fill="#059c86" shape-rendering="crispEdges"/>
<rect x="59.18" y="292.1" width="60.12" height="131.7" fill="#10828e" shape-rendering="crispEdges"/>
<rect x="79.22" y="292.1" width="40.08" height="131.7" fill="#fde300" shape-rendering="crispEdges"/>
<rect x="99.26" y="292.1" width="20.04" height="131.7" fill="#fde300" shape-rendering="crispEdges"/>
<rect x="19.1" y="298.69" width="100.2" height="125.12" fill="#15b471" shape-rendering="crispEdges"/>
<rect x="39.14" y="298.69" width="80.16" height="125.12" fill="#059c86" shape-rendering="crispEdges"/>
<rect x="59.18" y="298.69" width="60.12" height="125.12" fill="#059c86" shape-rendering="crispEdges"/>
<rect x="79.22" y="298.69" width="40.08" height="125.12" fill="#9ddb12" shape-rendering="crispEdges"/>
<rect x="99.26" y="298.69" width="20.04" height="125.12" fill="#9ddb12" shape-rendering="crispEdges"/>
<rect x="19.1" y="305.27" width="100.2" height="118.53" fill="#333687" shape-rendering="crispEdges"/>
<rect x="39.14" y="305.27" width="80.16" height="118.53" fill="#079788" shape-rendering="crispEdges"/>
<rect x="59.18" y="305.27" width="60.12" height="118.53" fill="#079788" shape-rendering="crispEdges"/>
<rect x="79.22" y="305.27" width="40.08" height="118.53" fill="#18b66e" shape-rendering="crispEdges"/>
<rect x="99.26" y="305.27" width="20.04" height="118.53" fill="#18b66e" shape-rendering="crispEdges"/>
<rect x="19.1" y="311.86" width="100.2" height="111.94" fill="#186e8e" shape-rendering="crispEdges"/>
<rect x="39.14" y="311.86" width="80.16" height="111.94" fill="#186e8e" shape-rendering="crispEdges"/>
<rect x="59.18" y="311.86" width="60.12" height="111.94" fill="#205c8e" shape-rendering="crispEdges"/>
<rect x="79.22" y="311.86" width="40.08" height="111.94" fill="#11b174" shape-rendering="crispEdges"/>
<rect x="99.26" y="311.86" width="20.04" height="111.94" fill="#11b174" shape-rendering="crispEdges"/>
<rect x="19.1" y="318.44" width="100.2" height="105.36" fill="#16748e" shape-rendering="crispEdges"/>
<rect x="39.14" y="318.44" width="80.16" height="105.36" fill="#16748e" shape-rendering="crispEdges"/>
<rect x="59.18" y="318.44" width="60.12" height="105.36" fill="#16748e" shape-rendering="crispEdges"/>
<rect x="79.22" y="318.44" width="40.08" height="105.36" fill="#11b174" shape-rendering="crispEdges"/>
<rect x="99.26" y="318.44" width="20.04" height="105.36" fill="#11b174" shape-rendering="crispEdges"/>
<rect x="19.1" y="325.03" width="100.2" height="98.77" fill="#2bbf61" shape-rendering="crispEdges"/>
<rect x="39.14" y="325.03" width="80.16" height="98.77" fill="#63d03b" shape-rendering="crispEdges"/>
<rect x="59.18" y="325.03" width="60.12" height="98.77" fill="#63d03b" shape-rendering="crispEdges"/>
<rect x="79.22" y="325.03" width="40.08" height="98.77" fill="#dfe300" shape-rendering="crispEdges"/>
<rect x="99.26" y="325.03" width="20.04" height="98.77" fill="#dfe300" shape-rendering="crispEdges"/>
<rect x="19.1" y="331.61" width="100.2" height="92.19" fill="#76d52e" shape-rendering="crispEdges"/>
<rect x="39.14" y="331.61" width="80.16" height="92.19" fill="#2bbf61" shape-rendering="crispEdges"/>
<rect x="59.18" y="331.61" width="60.12" height="92.19" fill="#2bbf61" shape-rendering="crispEdges"/>
<rect x="79.22" y="331.61" width="40.08" height="92.19" fill="#7fd628" shape-rendering="crispEdges"/>
<rect x="99.26" y="331.61" width="20.04" height="92.19" fill="#7fd628" shape-rendering="crispEdges"/>
<rect x="19.1" y="338.19" width="100.2" height="85.61" fill="#fde300" shape-rendering="crispEdges"/>
<rect x="39.14" y="338.19" width="80.16" height="85.61" fill="#fde300" shape-rendering="crispEdges"/>
<rect x="59.18" y="338.19" width="60.12" height="85.61" fill="#fde300" shape-rendering="crispEdges"/>
<rect x="79.22" y="338.19" width="40.08" height="85.61" fill="#08a87d" shape-rendering="crispEdges"/>
<rect x="99.26" y="338.19" width="20.04" height="85.61" fill="#08a87d" shape-rendering="crispEdges"/>
<rect x="19.1" y="344.78" width="100.2" height="79.02" fill="#dfe300" shape-rendering="crispEdges"/>
<rect x="39.14" y="344.78" width="80.16" height="79.02" fill="#b6df01" shape-rendering="crispEdges"/>
<rect x="59.18" y="344.78" width="60.12" height="79.02" fill="#b6df01" shape-rendering="crispEdges"/>
<rect x="79.22" y="344.78" width="40.08" height="79.02" fill="#059f84" shape-rendering="crispEdges"/>
<rect x="99.26" y="344.78" width="20.04" height="79.02" fill="#059f84" shape-rendering="crispEdges"/>
<rect x="19.1" y="351.37" width="100.2" height="72.44" fill="#0e888e" shape-rendering="crispEdges"/>
<rect x="39.14" y="351.37" width="80.16" height="72.44" fill="#ece400" shape-rendering="crispEdges"/>
<rect x="59.18" y="351.37" width="60.12" height="72.44" fill="#ece400" shape-rendering="crispEdges"/>
<rect x="79.22" y="351.37" width="40.08" height="72.44" fill="#13798e" shape-rendering="crispEdges"/>
<rect x="99.26" y="351.37" width="20.04" height="72.44" fill="#13798e" shape-rendering="crispEdges"/>
<rect x="19.1" y="357.95" width="100.2" height="65.85" fill="#c7e100" shape-rendering="crispEdges"/>
<rect x="39.14" y="357.95" width="80.16" height="65.85" fill="#2bbf61" shape-rendering="crispEdges"/>
<rect x="59.18" y="357.95" width="60.12" height="65.85" fill="#2bbf61" shape-rendering="crispEdges"/>
<rect x="79.22" y="357.95" width="40.08" height="65.85" fill="#21598d" shape-rendering="crispEdges"/>
<rect x="99.26" y="357.95" width="20.04" height="65.85" fill="#21598d" shape-rendering="crispEdges"/>
<rect x="19.1" y="364.54" width="100.2" height="59.26" fill="#06a381" shape-rendering="crispEdges"/>
<rect x="39.14" y="364.54" width="80.16" height="59.26" fill="#15b471" shape-rendering="crispEdges"/>
<rect x="59.18" y="364.54" width="60.12" height="59.26" fill="#15b471" shape-rendering="crispEdges"/>
<rect x="79.22" y="364.54" width="40.08" height="59.26" fill="#3a2580" shape-rendering="crispEdges"/>
<rect x="99.26" y="364.54" width="20.04" height="59.26" fill="#3a2580" shape-rendering="crispEdges"/>
<rect x="19.1" y="371.12" width="100.2" height="52.68" fill="#2bbf61" shape-rendering="crispEdges"/>
<rect x="39.14" y="371.12" width="80.16" height="52.68" fill="#18b66e" shape-rendering="crispEdges"/>
<rect x="59.18" y="371.12" width="60.12" height="52.68" fill="#18b66e" shape-rendering="crispEdges"/>
<rect x="79.22" y="371.12" width="40.08" height="52.68" fill="#3f1475" shape-rendering="crispEdges"/>
<rect x="99.26" y="371.12" width="20.04" height="52.68" fill="#3f1475" shape-rendering="crispEdges"/>
<rect x="19.1" y="377.71" width="100.2" height="46.09" fill="#400d6f" shape-rendering="crispEdges"/>
<rect x="39.14" y="377.71" width="80.16" height="46.09" fill="#303d89" shape-rendering="crispEdges"/>
<rect x="59.18" y="377.71" width="60.12" height="46.09" fill="#3d1a7a" shape-rendering="crispEdges"/>
<rect x="79.22" y="377.71" width="40.08" height="46.09" fill="#0a918c" shape-rendering="crispEdges"/>
<rect x="99.26" y="377.71" width="20.04" height="46.09" fill="#0a918c" shape-rendering="crispEdges"/>
<rect x="19.1" y="384.29" width="100.2" height="39.51" fill="#44005c" shape-rendering="crispEdges"/>
<rect x="39.14" y="384.29" width="80.16" height="39.51" fill="#3a2580" shape-rendering="crispEdges"/>
<rect x="59.18" y="384.29" width="60.12" height="39.51" fill="#3f1475" shape-rendering="crispEdges"/>
<rect x="79.22" y="384.29" width="40.08" height="39.51" fill="#0e888e" shape-rendering="crispEdges"/>
<rect x="99.26" y="384.29" width="20.04" height="39.51" fill="#0e888e" shape-rendering="crispEdges"/>
<rect x="19.1" y="390.88" width="100.2" height="32.93" fill="#41096c" shape-rendering="crispEdges"/>
<rect x="39.14" y="390.88" width="80.16" height="32.93" fill="#41096c" shape-rendering="crispEdges"/>
<rect x="59.18" y="390.88" width="60.12" height="32.93" fill="#41096c" shape-rendering="crispEdges"/>
<rect x="79.22" y="390.88" width="40.08" height="32.93" fill="#127d8e" shape-rendering="crispEdges"/>
<rect x="99.26" y="390.88" width="20.04" height="32.93" fill="#127d8e" shape-rendering="crispEdges"/>
<rect x="19.1" y="397.46" width="100.2" height="26.34" fill="#1c658e" shape-rendering="crispEdges"/>
<rect x="39.14" y="397.46" width="80.16" height="26.34" fill="#205c8e" shape-rendering="crispEdges"/>
<rect x="59.18" y="397.46" width="60.12" height="26.34" fill="#205c8e" shape-rendering="crispEdges"/>
<rect x="79.22" y="397.46" width="40.08" height="26.34" fill="#196b8e" shape-rendering="crispEdges"/>
<rect x="99.26" y="397.46" width="20.04" height="26.34" fill="#196b8e" shape-rendering="crispEdges"/>
<rect x="19.1" y="404.05" width="100.2" height="19.75" fill="#2c438a" shape-rendering="crispEdges"/>
<rect x="39.14" y="404.05" width="80.16" height="19.75" fill="#43005e" shape-rendering="crispEdges"/>
<rect x="59.18" y="404.05" width="60.12" height="19.75" fill="#43005e" shape-rendering="crispEdges"/>
<rect x="79.22" y="404.05" width="40.08" height="19.75" fill="#2c438a" shape-rendering="crispEdges"/>
<rect x="99.26" y="404.05" width="20.04" height="19.75" fill="#2c438a" shape-rendering="crispEdges"/>
<rect x="19.1" y="410.63" width="100.2" height="13.17" fill="#3d1a7a" shape-rendering="crispEdges"/>
<rect x="39.14" y="410.63" width="80.16" height="13.17" fill="#3f1475" shape-rendering="crispEdges"/>
<rect x="59.18" y="410.63" width="60.12" height="13.17" fill="#2a478b" shape-rendering="crispEdges"/>
<rect x="79.22" y="410.63" width="40.08" height="13.17" fill="#420265" shape-rendering="crispEdges"/>
<rect x="99.26" y="410.63" width="20.04" height="13.17" fill="#420265" shape-rendering="crispEdges"/>
<rect x="19.1" y="417.22" width="100.2" height="6.58" fill="#0a918c" shape-rendering="crispEdges"/>
<rect x="39.14" y="417.22" width="80.16" height="6.58" fill="#13798e" shape-rendering="crispEdges"/>
<rect x="59.18" y="417.22" width="60.12" height="6.58" fill="#13798e" shape-rendering="crispEdges"/>
<rect x="79.22" y="417.22" width="40.08" height="6.58" fill="#43005e" shape-rendering="crispEdges"/>
<rect x="99.26" y="417.22" width="20.04" height="6.58" fill="#43005e" shape-rendering="crispEdges"/>
<rect x="19.1" y="292.1" width="100.2" height="131.7" fill="none" stroke="#2a2a2a" stroke-width="0.8"/>
<line x1="17.8" y1="295.39" x2="19.1" y2="295.39" stroke="#333" stroke-width="0.5"/>
<text font-size="7.2" fill="#606060" text-anchor="middle" stroke="#606060" stroke-width="0.12" transform="translate(17.1 295.39) rotate(-90)" textLength="4.6" lengthAdjust="spacingAndGlyphs">G01</text>
<line x1="17.8" y1="301.98" x2="19.1" y2="301.98" stroke="#333" stroke-width="0.5"/>
<text font-size="7.2" fill="#606060" text-anchor="middle" stroke="#606060" stroke-width="0.12" transform="translate(17.1 301.98) rotate(-90)" textLength="4.6" lengthAdjust="spacingAndGlyphs">G02</text>
<line x1="17.8" y1="308.56" x2="19.1" y2="308.56" stroke="#333" stroke-width="0.5"/>
<text font-size="7.2" fill="#606060" text-anchor="middle" stroke="#606060" stroke-width="0.12" transform="translate(17.1 308.56) rotate(-90)" textLength="4.6" lengthAdjust="spacingAndGlyphs">G03</text>
<line x1="17.8" y1="315.15" x2="19.1" y2="315.15" stroke="#333" stroke-width="0.5"/>
<text font-size="7.2" fill="#606060" text-anchor="middle" stroke="#606060" stroke-width="0.12" transform="translate(17.1 315.15) rotate(-90)" textLength="4.6" lengthAdjust="spacingAndGlyphs">G04</text>
<line x1="17.8" y1="321.73" x2="19.1" y2="321.73" stroke="#333" stroke-width="0.5"/>
<text font-size="7.2" fill="#606060" text-anchor="middle" stroke="#606060" stroke-width="0.12" transform="translate(17.1 321.73) rotate(-90)" textLength="4.6" lengthAdjust="spacingAndGlyphs">G05</text>
<line x1="17.8" y1="328.32" x2="19.1" y2="328.32" stroke="#333" stroke-width="0.5"/>
<text font-size="7.2" fill="#8484dc" text-anchor="middle" stroke="#8484dc" stroke-width="0.12" transform="translate(17.1 328.32) rotate(-90)" textLength="4.6" lengthAdjust="spacingAndGlyphs">G06</text>
<line x1="17.8" y1="334.9" x2="19.1" y2="334.9" stroke="#333" stroke-width="0.5"/>
<text font-size="7.2" fill="#8484dc" text-anchor="middle" stroke="#8484dc" stroke-width="0.12" transform="translate(17.1 334.9) rotate(-90)" textLength="4.6" lengthAdjust="spacingAndGlyphs">G07</text>
<line x1="17.8" y1="341.49" x2="19.1" y2="341.49" stroke="#333" stroke-width="0.5"/>
<text font-size="7.2" fill="#8484dc" text-anchor="middle" stroke="#8484dc" stroke-width="0.12" transform="translate(17.1 341.49) rotate(-90)" textLength="4.6" lengthAdjust="spacingAndGlyphs">G08</text>
<line x1="17.8" y1="348.07" x2="19.1" y2="348.07" stroke="#333" stroke-width="0.5"/>
<text font-size="7.2" fill="#8484dc" text-anchor="middle" stroke="#8484dc" stroke-width="0.12" transform="translate(17.1 348.07) rotate(-90)" textLength="4.6" lengthAdjust="spacingAndGlyphs">G09</text>
<line x1="17.8" y1="354.66" x2="19.1" y2="354.66" stroke="#333" stroke-width="0.5"/>
<text font-size="7.2" fill="#8484dc" text-anchor="middle" stroke="#8484dc" stroke-width="0.12" transform="translate(17.1 354.66) rotate(-90)" textLength="4.6" lengthAdjust="spacingAndGlyphs">G10</text>
<line x1="17.8" y1="361.24" x2="19.1" y2="361.24" stroke="#333" stroke-width="0.5"/>
<text font-size="7.2" fill="#ee8080" text-anchor="middle" stroke="#ee8080" stroke-width="0.12" transform="translate(17.1 361.24) rotate(-90)" textLength="4.6" lengthAdjust="spacingAndGlyphs">G11</text>
<line x1="17.8" y1="367.83" x2="19.1" y2="367.83" stroke="#333" stroke-width="0.5"/>
<text font-size="7.2" fill="#ee8080" text-anchor="middle" stroke="#ee8080" stroke-width="0.12" transform="translate(17.1 367.83) rotate(-90)" textLength="4.6" lengthAdjust="spacingAndGlyphs">G12</text>
<line x1="17.8" y1="374.41" x2="19.1" y2="374.41" stroke="#333" stroke-width="0.5"/>
<text font-size="7.2" fill="#ee8080" text-anchor="middle" stroke="#ee8080" stroke-width="0.12" transform="translate(17.1 374.41) rotate(-90)" textLength="4.6" lengthAdjust="spacingAndGlyphs">G13</text>
<line x1="17.8" y1="381" x2="19.1" y2="381" stroke="#333" stroke-width="0.5"/>
<text font-size="7.2" fill="#5ee09a" text-anchor="middle" stroke="#5ee09a" stroke-width="0.12" transform="translate(17.1 381) rotate(-90)" textLength="4.6" lengthAdjust="spacingAndGlyphs">G14</text>
<line x1="17.8" y1="387.58" x2="19.1" y2="387.58" stroke="#333" stroke-width="0.5"/>
<text font-size="7.2" fill="#5ee09a" text-anchor="middle" stroke="#5ee09a" stroke-width="0.12" transform="translate(17.1 387.58) rotate(-90)" textLength="4.6" lengthAdjust="spacingAndGlyphs">G15</text>
<line x1="17.8" y1="394.17" x2="19.1" y2="394.17" stroke="#333" stroke-width="0.5"/>
<text font-size="7.2" fill="#5ee09a" text-anchor="middle" stroke="#5ee09a" stroke-width="0.12" transform="translate(17.1 394.17) rotate(-90)" textLength="4.6" lengthAdjust="spacingAndGlyphs">G16</text>
<line x1="17.8" y1="400.75" x2="19.1" y2="400.75" stroke="#333" stroke-width="0.5"/>
<text font-size="7.2" fill="#5ee09a" text-anchor="middle" stroke="#5ee09a" stroke-width="0.12" transform="translate(17.1 400.75) rotate(-90)" textLength="4.6" lengthAdjust="spacingAndGlyphs">G17</text>
<line x1="17.8" y1="407.34" x2="19.1" y2="407.34" stroke="#333" stroke-width="0.5"/>
<text font-size="7.2" fill="#5ee09a" text-anchor="middle" stroke="#5ee09a" stroke-width="0.12" transform="translate(17.1 407.34) rotate(-90)" textLength="4.6" lengthAdjust="spacingAndGlyphs">G18</text>
<line x1="17.8" y1="413.92" x2="19.1" y2="413.92" stroke="#333" stroke-width="0.5"/>
<text font-size="7.2" fill="#5ee09a" text-anchor="middle" stroke="#5ee09a" stroke-width="0.12" transform="translate(17.1 413.92) rotate(-90)" textLength="4.6" lengthAdjust="spacingAndGlyphs">G19</text>
<line x1="17.8" y1="420.51" x2="19.1" y2="420.51" stroke="#333" stroke-width="0.5"/>
<text font-size="7.2" fill="#5ee09a" text-anchor="middle" stroke="#5ee09a" stroke-width="0.12" transform="translate(17.1 420.51) rotate(-90)" textLength="4.6" lengthAdjust="spacingAndGlyphs">G20</text>
<linearGradient id="gc0" x1="0" y1="1" x2="0" y2="0">
<stop offset="0" stop-color="#440054"/>
<stop offset="0.05" stop-color="#410568"/>
<stop offset="0.1" stop-color="#3e1878"/>
<stop offset="0.15" stop-color="#372c83"/>
<stop offset="0.2" stop-color="#2f3e89"/>
<stop offset="0.25" stop-color="#264f8c"/>
<stop offset="0.3" stop-color="#205c8e"/>
<stop offset="0.35" stop-color="#1a688e"/>
<stop offset="0.4" stop-color="#16748e"/>
<stop offset="0.45" stop-color="#117f8e"/>
<stop offset="0.5" stop-color="#0d8a8d"/>
<stop offset="0.55" stop-color="#089589"/>
<stop offset="0.6" stop-color="#059f84"/>
<stop offset="0.65" stop-color="#08a87d"/>
<stop offset="0.7" stop-color="#11b174"/>
<stop offset="0.75" stop-color="#22bb67"/>
<stop offset="0.8" stop-color="#3fc653"/>
<stop offset="0.85" stop-color="#65d139"/>
<stop offset="0.9" stop-color="#8ed91d"/>
<stop offset="0.95" stop-color="#cae100"/>
<stop offset="1" stop-color="#fde300"/>
</linearGradient>
<rect x="123.2" y="321" width="4.4" height="73.9" fill="url(#gc0)"/>
<rect x="123.2" y="321" width="4.4" height="73.9" fill="none" stroke="#4a4030" stroke-width="0.4"/>
<line x1="123.2" y1="321.4" x2="127.6" y2="321.4" stroke="#5a4a30" stroke-width="0.8"/>
<line x1="126.6" y1="324.69" x2="127.6" y2="324.69" stroke="#fff" stroke-width="0.4"/>
<text font-size="3.6" fill="#888" text-anchor="start" stroke="#888" stroke-width="0.1" transform="translate(129.2 326) scale(0.6 1)">2</text>
<line x1="126.6" y1="342.06" x2="127.6" y2="342.06" stroke="#fff" stroke-width="0.4"/>
<text font-size="3.6" fill="#888" text-anchor="start" stroke="#888" stroke-width="0.1" transform="translate(129.2 343.36) scale(0.6 1)">1.5</text>
<line x1="126.6" y1="359.43" x2="127.6" y2="359.43" stroke="#fff" stroke-width="0.4"/>
<text font-size="3.6" fill="#888" text-anchor="start" stroke="#888" stroke-width="0.1" transform="translate(129.2 360.73) scale(0.6 1)">1</text>
<line x1="126.6" y1="376.79" x2="127.6" y2="376.79" stroke="#fff" stroke-width="0.4"/>
<text font-size="3.6" fill="#888" text-anchor="start" stroke="#888" stroke-width="0.1" transform="translate(129.2 378.09) scale(0.6 1)">0.5</text>
<line x1="29.12" y1="423.8" x2="29.12" y2="425.3" stroke="#333" stroke-width="0.5"/>
<text font-size="5" fill="#3a3a3a" text-anchor="end" stroke="#3a3a3a" stroke-width="0.18" transform="translate(30.02 428.8) rotate(-90) scale(1 0.55)" textLength="13.7" lengthAdjust="spacingAndGlyphs">1IPCA</text>
<line x1="49.16" y1="423.8" x2="49.16" y2="425.3" stroke="#333" stroke-width="0.5"/>
<text font-size="5" fill="#3a3a3a" text-anchor="end" stroke="#3a3a3a" stroke-width="0.18" transform="translate(50.06 428.8) rotate(-90) scale(1 0.55)" textLength="13.7" lengthAdjust="spacingAndGlyphs">2IPCA</text>
<line x1="69.2" y1="423.8" x2="69.2" y2="425.3" stroke="#333" stroke-width="0.5"/>
<text font-size="5" fill="#3a3a3a" text-anchor="end" stroke="#3a3a3a" stroke-width="0.18" transform="translate(70.1 428.8) rotate(-90) scale(1 0.55)" textLength="13.7" lengthAdjust="spacingAndGlyphs">3IPCA</text>
<line x1="89.24" y1="423.8" x2="89.24" y2="425.3" stroke="#333" stroke-width="0.5"/>
<text font-size="5" fill="#3a3a3a" text-anchor="end" stroke="#3a3a3a" stroke-width="0.18" transform="translate(90.14 428.8) rotate(-90) scale(1 0.55)" textLength="13.7" lengthAdjust="spacingAndGlyphs">4IPCA</text>
<line x1="109.28" y1="423.8" x2="109.28" y2="425.3" stroke="#333" stroke-width="0.5"/>
<text font-size="5" fill="#3a3a3a" text-anchor="end" stroke="#3a3a3a" stroke-width="0.18" transform="translate(110.18 428.8) rotate(-90) scale(1 0.55)" textLength="13.7" lengthAdjust="spacingAndGlyphs">5IPCA</text>
<text font-size="6.7" fill="#333" text-anchor="middle" stroke="#333" stroke-width="0.18" transform="translate(73 453.7)" textLength="35.6" lengthAdjust="spacingAndGlyphs">Number of IPCAs</text>
<text font-size="5" fill="#555" text-anchor="middle" stroke="#555" stroke-width="0.05" transform="translate(9.7 357.95) rotate(-90) scale(1 0.55)" textLength="30" lengthAdjust="spacingAndGlyphs">Genotypes</text>
<rect x="154.2" y="292.6" width="100.2" height="130.8" fill="#29498c" shape-rendering="crispEdges"/>
<rect x="174.24" y="292.6" width="80.16" height="130.8" fill="#420265" shape-rendering="crispEdges"/>
<rect x="194.28" y="292.6" width="60.12" height="130.8" fill="#420265" shape-rendering="crispEdges"/>
<rect x="214.32" y="292.6" width="40.08" height="130.8" fill="#ece400" shape-rendering="crispEdges"/>
<rect x="234.36" y="292.6" width="20.04" height="130.8" fill="#ece400" shape-rendering="crispEdges"/>
<rect x="154.2" y="299.14" width="100.2" height="124.26" fill="#06a381" shape-rendering="crispEdges"/>
<rect x="174.24" y="299.14" width="80.16" height="124.26" fill="#059c86" shape-rendering="crispEdges"/>
<rect x="194.28" y="299.14" width="60.12" height="124.26" fill="#059c86" shape-rendering="crispEdges"/>
<rect x="214.32" y="299.14" width="40.08" height="124.26" fill="#88d821" shape-rendering="crispEdges"/>
<rect x="234.36" y="299.14" width="20.04" height="124.26" fill="#88d821" shape-rendering="crispEdges"/>
<rect x="154.2" y="305.68" width="100.2" height="117.72" fill="#0a918c" shape-rendering="crispEdges"/>
<rect x="174.24" y="305.68" width="80.16" height="117.72" fill="#0e888e" shape-rendering="crispEdges"/>
<rect x="194.28" y="305.68" width="60.12" height="117.72" fill="#0e888e" shape-rendering="crispEdges"/>
<rect x="214.32" y="305.68" width="40.08" height="117.72" fill="#2bbf61" shape-rendering="crispEdges"/>
<rect x="234.36" y="305.68" width="20.04" height="117.72" fill="#2bbf61" shape-rendering="crispEdges"/>
<rect x="154.2" y="312.22" width="100.2" height="111.18" fill="#13798e" shape-rendering="crispEdges"/>
<rect x="174.24" y="312.22" width="80.16" height="111.18" fill="#13798e" shape-rendering="crispEdges"/>
<rect x="194.28" y="312.22" width="60.12" height="111.18" fill="#1f5f8e" shape-rendering="crispEdges"/>
<rect x="214.32" y="312.22" width="40.08" height="111.18" fill="#18b66e" shape-rendering="crispEdges"/>
<rect x="234.36" y="312.22" width="20.04" height="111.18" fill="#18b66e" shape-rendering="crispEdges"/>
<rect x="154.2" y="318.76" width="100.2" height="104.64" fill="#333687" shape-rendering="crispEdges"/>
<rect x="174.24" y="318.76" width="80.16" height="104.64" fill="#3d1a7a" shape-rendering="crispEdges"/>
<rect x="194.28" y="318.76" width="60.12" height="104.64" fill="#372c83" shape-rendering="crispEdges"/>
<rect x="214.32" y="318.76" width="40.08" height="104.64" fill="#0bad79" shape-rendering="crispEdges"/>
<rect x="234.36" y="318.76" width="20.04" height="104.64" fill="#0bad79" shape-rendering="crispEdges"/>
<rect x="154.2" y="325.3" width="100.2" height="98.1" fill="#400d6f" shape-rendering="crispEdges"/>
<rect x="174.24" y="325.3" width="80.16" height="98.1" fill="#44005c" shape-rendering="crispEdges"/>
<rect x="194.28" y="325.3" width="60.12" height="98.1" fill="#44005c" shape-rendering="crispEdges"/>
<rect x="214.32" y="325.3" width="40.08" height="98.1" fill="#059c86" shape-rendering="crispEdges"/>
<rect x="234.36" y="325.3" width="20.04" height="98.1" fill="#059c86" shape-rendering="crispEdges"/>
<rect x="154.2" y="331.84" width="100.2" height="91.56" fill="#fde300" shape-rendering="crispEdges"/>
<rect x="174.24" y="331.84" width="80.16" height="91.56" fill="#fde300" shape-rendering="crispEdges"/>
<rect x="194.28" y="331.84" width="60.12" height="91.56" fill="#fde300" shape-rendering="crispEdges"/>
<rect x="214.32" y="331.84" width="40.08" height="91.56" fill="#fde300" shape-rendering="crispEdges"/>
<rect x="234.36" y="331.84" width="20.04" height="91.56" fill="#fde300" shape-rendering="crispEdges"/>
<rect x="154.2" y="338.38" width="100.2" height="85.02" fill="#2bbf61" shape-rendering="crispEdges"/>
<rect x="174.24" y="338.38" width="80.16" height="85.02" fill="#76d52e" shape-rendering="crispEdges"/>
<rect x="194.28" y="338.38" width="60.12" height="85.02" fill="#76d52e" shape-rendering="crispEdges"/>
<rect x="214.32" y="338.38" width="40.08" height="85.02" fill="#a7dd0c" shape-rendering="crispEdges"/>
<rect x="234.36" y="338.38" width="20.04" height="85.02" fill="#a7dd0c" shape-rendering="crispEdges"/>
<rect x="154.2" y="344.92" width="100.2" height="78.48" fill="#8ed91d" shape-rendering="crispEdges"/>
<rect x="174.24" y="344.92" width="80.16" height="78.48" fill="#06a381" shape-rendering="crispEdges"/>
<rect x="194.28" y="344.92" width="60.12" height="78.48" fill="#06a381" shape-rendering="crispEdges"/>
<rect x="214.32" y="344.92" width="40.08" height="78.48" fill="#059f84" shape-rendering="crispEdges"/>
<rect x="234.36" y="344.92" width="20.04" height="78.48" fill="#059f84" shape-rendering="crispEdges"/>
<rect x="154.2" y="351.46" width="100.2" height="71.94" fill="#b6df01" shape-rendering="crispEdges"/>
<rect x="174.24" y="351.46" width="80.16" height="71.94" fill="#b6df01" shape-rendering="crispEdges"/>
<rect x="194.28" y="351.46" width="60.12" height="71.94" fill="#b6df01" shape-rendering="crispEdges"/>
<rect x="214.32" y="351.46" width="40.08" height="71.94" fill="#0a918c" shape-rendering="crispEdges"/>
<rect x="234.36" y="351.46" width="20.04" height="71.94" fill="#0a918c" shape-rendering="crispEdges"/>
<rect x="154.2" y="358" width="100.2" height="65.4" fill="#dfe300" shape-rendering="crispEdges"/>
<rect x="174.24" y="358" width="80.16" height="65.4" fill="#dfe300" shape-rendering="crispEdges"/>
<rect x="194.28" y="358" width="60.12" height="65.4" fill="#dfe300" shape-rendering="crispEdges"/>
<rect x="214.32" y="358" width="40.08" height="65.4" fill="#0e888e" shape-rendering="crispEdges"/>
<rect x="234.36" y="358" width="20.04" height="65.4" fill="#0e888e" shape-rendering="crispEdges"/>
<rect x="154.2" y="364.54" width="100.2" height="58.86" fill="#0faf76" shape-rendering="crispEdges"/>
<rect x="174.24" y="364.54" width="80.16" height="58.86" fill="#0faf76" shape-rendering="crispEdges"/>
<rect x="194.28" y="364.54" width="60.12" height="58.86" fill="#0faf76" shape-rendering="crispEdges"/>
<rect x="214.32" y="364.54" width="40.08" height="58.86" fill="#13798e" shape-rendering="crispEdges"/>
<rect x="234.36" y="364.54" width="20.04" height="58.86" fill="#13798e" shape-rendering="crispEdges"/>
<rect x="154.2" y="371.08" width="100.2" height="52.32" fill="#3d1a7a" shape-rendering="crispEdges"/>
<rect x="174.24" y="371.08" width="80.16" height="52.32" fill="#333687" shape-rendering="crispEdges"/>
<rect x="194.28" y="371.08" width="60.12" height="52.32" fill="#333687" shape-rendering="crispEdges"/>
<rect x="214.32" y="371.08" width="40.08" height="52.32" fill="#196b8e" shape-rendering="crispEdges"/>
<rect x="234.36" y="371.08" width="20.04" height="52.32" fill="#196b8e" shape-rendering="crispEdges"/>
<rect x="154.2" y="377.62" width="100.2" height="45.78" fill="#13798e" shape-rendering="crispEdges"/>
<rect x="174.24" y="377.62" width="80.16" height="45.78" fill="#13798e" shape-rendering="crispEdges"/>
<rect x="194.28" y="377.62" width="60.12" height="45.78" fill="#13798e" shape-rendering="crispEdges"/>
<rect x="214.32" y="377.62" width="40.08" height="45.78" fill="#1c658e" shape-rendering="crispEdges"/>
<rect x="234.36" y="377.62" width="20.04" height="45.78" fill="#1c658e" shape-rendering="crispEdges"/>
<rect x="154.2" y="384.16" width="100.2" height="39.24" fill="#43005e" shape-rendering="crispEdges"/>
<rect x="174.24" y="384.16" width="80.16" height="39.24" fill="#3a2580" shape-rendering="crispEdges"/>
<rect x="194.28" y="384.16" width="60.12" height="39.24" fill="#3d1a7a" shape-rendering="crispEdges"/>
<rect x="214.32" y="384.16" width="40.08" height="39.24" fill="#2a478b" shape-rendering="crispEdges"/>
<rect x="234.36" y="384.16" width="20.04" height="39.24" fill="#2a478b" shape-rendering="crispEdges"/>
<rect x="154.2" y="390.7" width="100.2" height="32.7" fill="#0a918c" shape-rendering="crispEdges"/>
<rect x="174.24" y="390.7" width="80.16" height="32.7" fill="#0a918c" shape-rendering="crispEdges"/>
<rect x="194.28" y="390.7" width="60.12" height="32.7" fill="#0a918c" shape-rendering="crispEdges"/>
<rect x="214.32" y="390.7" width="40.08" height="32.7" fill="#2a478b" shape-rendering="crispEdges"/>
<rect x="234.36" y="390.7" width="20.04" height="32.7" fill="#2a478b" shape-rendering="crispEdges"/>
<rect x="154.2" y="397.24" width="100.2" height="26.16" fill="#363085" shape-rendering="crispEdges"/>
<rect x="174.24" y="397.24" width="80.16" height="26.16" fill="#186e8e" shape-rendering="crispEdges"/>
<rect x="194.28" y="397.24" width="60.12" height="26.16" fill="#13798e" shape-rendering="crispEdges"/>
<rect x="214.32" y="397.24" width="40.08" height="26.16" fill="#3d1a7a" shape-rendering="crispEdges"/>
<rect x="234.36" y="397.24" width="20.04" height="26.16" fill="#3d1a7a" shape-rendering="crispEdges"/>
<rect x="154.2" y="403.78" width="100.2" height="19.62" fill="#1f5f8e" shape-rendering="crispEdges"/>
<rect x="174.24" y="403.78" width="80.16" height="19.62" fill="#23568d" shape-rendering="crispEdges"/>
<rect x="194.28" y="403.78" width="60.12" height="19.62" fill="#23568d" shape-rendering="crispEdges"/>
<rect x="214.32" y="403.78" width="40.08" height="19.62" fill="#420265" shape-rendering="crispEdges"/>
<rect x="234.36" y="403.78" width="20.04" height="19.62" fill="#420265" shape-rendering="crispEdges"/>
<rect x="154.2" y="410.32" width="100.2" height="13.08" fill="#15b471" shape-rendering="crispEdges"/>
<rect x="174.24" y="410.32" width="80.16" height="13.08" fill="#36c35a" shape-rendering="crispEdges"/>
<rect x="194.28" y="410.32" width="60.12" height="13.08" fill="#36c35a" shape-rendering="crispEdges"/>
<rect x="214.32" y="410.32" width="40.08" height="13.08" fill="#363085" shape-rendering="crispEdges"/>
<rect x="234.36" y="410.32" width="20.04" height="13.08" fill="#363085" shape-rendering="crispEdges"/>
<rect x="154.2" y="416.86" width="100.2" height="6.54" fill="#059c86" shape-rendering="crispEdges"/>
<rect x="174.24" y="416.86" width="80.16" height="6.54" fill="#059c86" shape-rendering="crispEdges"/>
<rect x="194.28" y="416.86" width="60.12" height="6.54" fill="#059c86" shape-rendering="crispEdges"/>
<rect x="214.32" y="416.86" width="40.08" height="6.54" fill="#44005c" shape-rendering="crispEdges"/>
<rect x="234.36" y="416.86" width="20.04" height="6.54" fill="#44005c" shape-rendering="crispEdges"/>
<rect x="154.2" y="292.6" width="100.2" height="130.8" fill="none" stroke="#2a2a2a" stroke-width="0.8"/>
<line x1="152.9" y1="295.87" x2="154.2" y2="295.87" stroke="#333" stroke-width="0.5"/>
<text font-size="7.2" fill="#606060" text-anchor="middle" stroke="#606060" stroke-width="0.12" transform="translate(152.2 295.87) rotate(-90)" textLength="4.6" lengthAdjust="spacingAndGlyphs">G04</text>
<line x1="152.9" y1="302.41" x2="154.2" y2="302.41" stroke="#333" stroke-width="0.5"/>
<text font-size="7.2" fill="#606060" text-anchor="middle" stroke="#606060" stroke-width="0.12" transform="translate(152.2 302.41) rotate(-90)" textLength="4.6" lengthAdjust="spacingAndGlyphs">G05</text>
<line x1="152.9" y1="308.95" x2="154.2" y2="308.95" stroke="#333" stroke-width="0.5"/>
<text font-size="7.2" fill="#606060" text-anchor="middle" stroke="#606060" stroke-width="0.12" transform="translate(152.2 308.95) rotate(-90)" textLength="4.6" lengthAdjust="spacingAndGlyphs">G06</text>
<line x1="152.9" y1="315.49" x2="154.2" y2="315.49" stroke="#333" stroke-width="0.5"/>
<text font-size="7.2" fill="#606060" text-anchor="middle" stroke="#606060" stroke-width="0.12" transform="translate(152.2 315.49) rotate(-90)" textLength="4.6" lengthAdjust="spacingAndGlyphs">G07</text>
<line x1="152.9" y1="322.03" x2="154.2" y2="322.03" stroke="#333" stroke-width="0.5"/>
<text font-size="7.2" fill="#606060" text-anchor="middle" stroke="#606060" stroke-width="0.12" transform="translate(152.2 322.03) rotate(-90)" textLength="4.6" lengthAdjust="spacingAndGlyphs">G08</text>
<line x1="152.9" y1="328.57" x2="154.2" y2="328.57" stroke="#333" stroke-width="0.5"/>
<text font-size="7.2" fill="#606060" text-anchor="middle" stroke="#606060" stroke-width="0.12" transform="translate(152.2 328.57) rotate(-90)" textLength="4.6" lengthAdjust="spacingAndGlyphs">G09</text>
<line x1="152.9" y1="335.11" x2="154.2" y2="335.11" stroke="#333" stroke-width="0.5"/>
<text font-size="7.2" fill="#8484dc" text-anchor="middle" stroke="#8484dc" stroke-width="0.12" transform="translate(152.2 335.11) rotate(-90)" textLength="4.6" lengthAdjust="spacingAndGlyphs">G10</text>
<line x1="152.9" y1="341.65" x2="154.2" y2="341.65" stroke="#333" stroke-width="0.5"/>
<text font-size="7.2" fill="#8484dc" text-anchor="middle" stroke="#8484dc" stroke-width="0.12" transform="translate(152.2 341.65) rotate(-90)" textLength="4.6" lengthAdjust="spacingAndGlyphs">G11</text>
<line x1="152.9" y1="348.19" x2="154.2" y2="348.19" stroke="#333" stroke-width="0.5"/>
<text font-size="7.2" fill="#8484dc" text-anchor="middle" stroke="#8484dc" stroke-width="0.12" transform="translate(152.2 348.19) rotate(-90)" textLength="4.6" lengthAdjust="spacingAndGlyphs">G12</text>
<line x1="152.9" y1="354.73" x2="154.2" y2="354.73" stroke="#333" stroke-width="0.5"/>
<text font-size="7.2" fill="#8484dc" text-anchor="middle" stroke="#8484dc" stroke-width="0.12" transform="translate(152.2 354.73) rotate(-90)" textLength="4.6" lengthAdjust="spacingAndGlyphs">G13</text>
<line x1="152.9" y1="361.27" x2="154.2" y2="361.27" stroke="#333" stroke-width="0.5"/>
<text font-size="7.2" fill="#8484dc" text-anchor="middle" stroke="#8484dc" stroke-width="0.12" transform="translate(152.2 361.27) rotate(-90)" textLength="4.6" lengthAdjust="spacingAndGlyphs">G14</text>
<line x1="152.9" y1="367.81" x2="154.2" y2="367.81" stroke="#333" stroke-width="0.5"/>
<text font-size="7.2" fill="#ee8080" text-anchor="middle" stroke="#ee8080" stroke-width="0.12" transform="translate(152.2 367.81) rotate(-90)" textLength="4.6" lengthAdjust="spacingAndGlyphs">G15</text>
<line x1="152.9" y1="374.35" x2="154.2" y2="374.35" stroke="#333" stroke-width="0.5"/>
<text font-size="7.2" fill="#ee8080" text-anchor="middle" stroke="#ee8080" stroke-width="0.12" transform="translate(152.2 374.35) rotate(-90)" textLength="4.6" lengthAdjust="spacingAndGlyphs">G16</text>
<line x1="152.9" y1="380.89" x2="154.2" y2="380.89" stroke="#333" stroke-width="0.5"/>
<text font-size="7.2" fill="#ee8080" text-anchor="middle" stroke="#ee8080" stroke-width="0.12" transform="translate(152.2 380.89) rotate(-90)" textLength="4.6" lengthAdjust="spacingAndGlyphs">G17</text>
<line x1="152.9" y1="387.43" x2="154.2" y2="387.43" stroke="#333" stroke-width="0.5"/>
<text font-size="7.2" fill="#ee8080" text-anchor="middle" stroke="#ee8080" stroke-width="0.12" transform="translate(152.2 387.43) rotate(-90)" textLength="4.6" lengthAdjust="spacingAndGlyphs">G18</text>
<line x1="152.9" y1="393.97" x2="154.2" y2="393.97" stroke="#333" stroke-width="0.5"/>
<text font-size="7.2" fill="#ee8080" text-anchor="middle" stroke="#ee8080" stroke-width="0.12" transform="translate(152.2 393.97) rotate(-90)" textLength="4.6" lengthAdjust="spacingAndGlyphs">G19</text>
<line x1="152.9" y1="400.51" x2="154.2" y2="400.51" stroke="#333" stroke-width="0.5"/>
<text font-size="7.2" fill="#ee8080" text-anchor="middle" stroke="#ee8080" stroke-width="0.12" transform="translate(152.2 400.51) rotate(-90)" textLength="4.6" lengthAdjust="spacingAndGlyphs">G20</text>
<line x1="152.9" y1="407.05" x2="154.2" y2="407.05" stroke="#333" stroke-width="0.5"/>
<text font-size="7.2" fill="#ee8080" text-anchor="middle" stroke="#ee8080" stroke-width="0.12" transform="translate(152.2 407.05) rotate(-90)" textLength="4.6" lengthAdjust="spacingAndGlyphs">G01</text>
<line x1="152.9" y1="413.59" x2="154.2" y2="413.59" stroke="#333" stroke-width="0.5"/>
<text font-size="7.2" fill="#5ee09a" text-anchor="middle" stroke="#5ee09a" stroke-width="0.12" transform="translate(152.2 413.59) rotate(-90)" textLength="4.6" lengthAdjust="spacingAndGlyphs">G02</text>
<line x1="152.9" y1="420.13" x2="154.2" y2="420.13" stroke="#333" stroke-width="0.5"/>
<text font-size="7.2" fill="#5ee09a" text-anchor="middle" stroke="#5ee09a" stroke-width="0.12" transform="translate(152.2 420.13) rotate(-90)" textLength="4.6" lengthAdjust="spacingAndGlyphs">G03</text>
<linearGradient id="gc1" x1="0" y1="1" x2="0" y2="0">
<stop offset="0" stop-color="#440054"/>
<stop offset="0.05" stop-color="#410568"/>
<stop offset="0.1" stop-color="#3e1878"/>
<stop offset="0.15" stop-color="#372c83"/>
<stop offset="0.2" stop-color="#2f3e89"/>
<stop offset="0.25" stop-color="#264f8c"/>
<stop offset="0.3" stop-color="#205c8e"/>
<stop offset="0.35" stop-color="#1a688e"/>
<stop offset="0.4" stop-color="#16748e"/>
<stop offset="0.45" stop-color="#117f8e"/>
<stop offset="0.5" stop-color="#0d8a8d"/>
<stop offset="0.55" stop-color="#089589"/>
<stop offset="0.6" stop-color="#059f84"/>
<stop offset="0.65" stop-color="#08a87d"/>
<stop offset="0.7" stop-color="#11b174"/>
<stop offset="0.75" stop-color="#22bb67"/>
<stop offset="0.8" stop-color="#3fc653"/>
<stop offset="0.85" stop-color="#65d139"/>
<stop offset="0.9" stop-color="#8ed91d"/>
<stop offset="0.95" stop-color="#cae100"/>
<stop offset="1" stop-color="#fde300"/>
</linearGradient>
<rect x="258.5" y="321.8" width="4.1" height="72.2" fill="url(#gc1)"/>
<rect x="258.5" y="321.8" width="4.1" height="72.2" fill="none" stroke="#4a4030" stroke-width="0.4"/>
<line x1="258.5" y1="322.2" x2="262.6" y2="322.2" stroke="#5a4a30" stroke-width="0.8"/>
<line x1="261.6" y1="325.41" x2="262.6" y2="325.41" stroke="#fff" stroke-width="0.4"/>
<text font-size="3.6" fill="#888" text-anchor="start" stroke="#888" stroke-width="0.1" transform="translate(264.2 326.71) scale(0.6 1)">2</text>
<line x1="261.6" y1="342.38" x2="262.6" y2="342.38" stroke="#fff" stroke-width="0.4"/>
<text font-size="3.6" fill="#888" text-anchor="start" stroke="#888" stroke-width="0.1" transform="translate(264.2 343.68) scale(0.6 1)">1.5</text>
<line x1="261.6" y1="359.34" x2="262.6" y2="359.34" stroke="#fff" stroke-width="0.4"/>
<text font-size="3.6" fill="#888" text-anchor="start" stroke="#888" stroke-width="0.1" transform="translate(264.2 360.64) scale(0.6 1)">1</text>
<line x1="261.6" y1="376.31" x2="262.6" y2="376.31" stroke="#fff" stroke-width="0.4"/>
<text font-size="3.6" fill="#888" text-anchor="start" stroke="#888" stroke-width="0.1" transform="translate(264.2 377.61) scale(0.6 1)">0.5</text>
<line x1="164.22" y1="423.4" x2="164.22" y2="424.9" stroke="#333" stroke-width="0.5"/>
<text font-size="5" fill="#3a3a3a" text-anchor="end" stroke="#3a3a3a" stroke-width="0.18" transform="translate(165.12 428.4) rotate(-90) scale(1 0.55)" textLength="13.7" lengthAdjust="spacingAndGlyphs">1IPCA</text>
<line x1="184.26" y1="423.4" x2="184.26" y2="424.9" stroke="#333" stroke-width="0.5"/>
<text font-size="5" fill="#3a3a3a" text-anchor="end" stroke="#3a3a3a" stroke-width="0.18" transform="translate(185.16 428.4) rotate(-90) scale(1 0.55)" textLength="13.7" lengthAdjust="spacingAndGlyphs">2IPCA</text>
<line x1="204.3" y1="423.4" x2="204.3" y2="424.9" stroke="#333" stroke-width="0.5"/>
<text font-size="5" fill="#3a3a3a" text-anchor="end" stroke="#3a3a3a" stroke-width="0.18" transform="translate(205.2 428.4) rotate(-90) scale(1 0.55)" textLength="13.7" lengthAdjust="spacingAndGlyphs">3IPCA</text>
<line x1="224.34" y1="423.4" x2="224.34" y2="424.9" stroke="#333" stroke-width="0.5"/>
<text font-size="5" fill="#3a3a3a" text-anchor="end" stroke="#3a3a3a" stroke-width="0.18" transform="translate(225.24 428.4) rotate(-90) scale(1 0.55)" textLength="13.7" lengthAdjust="spacingAndGlyphs">4IPCA</text>
<line x1="244.38" y1="423.4" x2="244.38" y2="424.9" stroke="#333" stroke-width="0.5"/>
<text font-size="5" fill="#3a3a3a" text-anchor="end" stroke="#3a3a3a" stroke-width="0.18" transform="translate(245.28 428.4) rotate(-90) scale(1 0.55)" textLength="13.7" lengthAdjust="spacingAndGlyphs">5IPCA</text>
<text font-size="6.7" fill="#333" text-anchor="middle" stroke="#333" stroke-width="0.18" transform="translate(202.7 452.3)" textLength="35.6" lengthAdjust="spacingAndGlyphs">Number of IPCAs</text>
<text font-size="5" fill="#555" text-anchor="middle" stroke="#555" stroke-width="0.05" transform="translate(144.3 358) rotate(-90) scale(1 0.55)" textLength="30" lengthAdjust="spacingAndGlyphs">Genotypes</text>
<rect x="285" y="292.6" width="109" height="132.7" fill="#fde300" shape-rendering="crispEdges"/>
<rect x="306.8" y="292.6" width="87.2" height="132.7" fill="#fde300" shape-rendering="crispEdges"/>
<rect x="328.6" y="292.6" width="65.4" height="132.7" fill="#fde300" shape-rendering="crispEdges"/>
<rect x="350.4" y="292.6" width="43.6" height="132.7" fill="#fde300" shape-rendering="crispEdges"/>
<rect x="372.2" y="292.6" width="21.8" height="132.7" fill="#fde300" shape-rendering="crispEdges"/>
<rect x="285" y="299.24" width="109" height="126.06" fill="#36c35a" shape-rendering="crispEdges"/>
<rect x="306.8" y="299.24" width="87.2" height="126.06" fill="#9ddb12" shape-rendering="crispEdges"/>
<rect x="328.6" y="299.24" width="65.4" height="126.06" fill="#d6e200" shape-rendering="crispEdges"/>
<rect x="350.4" y="299.24" width="43.6" height="126.06" fill="#d6e200" shape-rendering="crispEdges"/>
<rect x="372.2" y="299.24" width="21.8" height="126.06" fill="#d6e200" shape-rendering="crispEdges"/>
<rect x="285" y="305.87" width="109" height="119.43" fill="#68d137" shape-rendering="crispEdges"/>
<rect x="306.8" y="305.87" width="87.2" height="119.43" fill="#68d137" shape-rendering="crispEdges"/>
<rect x="328.6" y="305.87" width="65.4" height="119.43" fill="#68d137" shape-rendering="crispEdges"/>
<rect x="350.4" y="305.87" width="43.6" height="119.43" fill="#a7dd0c" shape-rendering="crispEdges"/>
<rect x="372.2" y="305.87" width="21.8" height="119.43" fill="#a7dd0c" shape-rendering="crispEdges"/>
<rect x="285" y="312.5" width="109" height="112.8" fill="#b6df01" shape-rendering="crispEdges"/>
<rect x="306.8" y="312.5" width="87.2" height="112.8" fill="#0bad79" shape-rendering="crispEdges"/>
<rect x="328.6" y="312.5" width="65.4" height="112.8" fill="#0bad79" shape-rendering="crispEdges"/>
<rect x="350.4" y="312.5" width="43.6" height="112.8" fill="#18b66e" shape-rendering="crispEdges"/>
<rect x="372.2" y="312.5" width="21.8" height="112.8" fill="#18b66e" shape-rendering="crispEdges"/>
<rect x="285" y="319.14" width="109" height="106.16" fill="#0bad79" shape-rendering="crispEdges"/>
<rect x="306.8" y="319.14" width="87.2" height="106.16" fill="#0bad79" shape-rendering="crispEdges"/>
<rect x="328.6" y="319.14" width="65.4" height="106.16" fill="#0bad79" shape-rendering="crispEdges"/>
<rect x="350.4" y="319.14" width="43.6" height="106.16" fill="#11b174" shape-rendering="crispEdges"/>
<rect x="372.2" y="319.14" width="21.8" height="106.16" fill="#11b174" shape-rendering="crispEdges"/>
<rect x="285" y="325.78" width="109" height="99.52" fill="#333687" shape-rendering="crispEdges"/>
<rect x="306.8" y="325.78" width="87.2" height="99.52" fill="#333687" shape-rendering="crispEdges"/>
<rect x="328.6" y="325.78" width="65.4" height="99.52" fill="#1c658e" shape-rendering="crispEdges"/>
<rect x="350.4" y="325.78" width="43.6" height="99.52" fill="#68d137" shape-rendering="crispEdges"/>
<rect x="372.2" y="325.78" width="21.8" height="99.52" fill="#68d137" shape-rendering="crispEdges"/>
<rect x="285" y="332.41" width="109" height="92.89" fill="#3a2580" shape-rendering="crispEdges"/>
<rect x="306.8" y="332.41" width="87.2" height="92.89" fill="#264f8c" shape-rendering="crispEdges"/>
<rect x="328.6" y="332.41" width="65.4" height="92.89" fill="#333687" shape-rendering="crispEdges"/>
<rect x="350.4" y="332.41" width="43.6" height="92.89" fill="#06a381" shape-rendering="crispEdges"/>
<rect x="372.2" y="332.41" width="21.8" height="92.89" fill="#06a381" shape-rendering="crispEdges"/>
<rect x="285" y="339.05" width="109" height="86.25" fill="#3d1a7a" shape-rendering="crispEdges"/>
<rect x="306.8" y="339.05" width="87.2" height="86.25" fill="#420063" shape-rendering="crispEdges"/>
<rect x="328.6" y="339.05" width="65.4" height="86.25" fill="#420063" shape-rendering="crispEdges"/>
<rect x="350.4" y="339.05" width="43.6" height="86.25" fill="#0d8a8d" shape-rendering="crispEdges"/>
<rect x="372.2" y="339.05" width="21.8" height="86.25" fill="#0d8a8d" shape-rendering="crispEdges"/>
<rect x="285" y="345.68" width="109" height="79.62" fill="#117f8e" shape-rendering="crispEdges"/>
<rect x="306.8" y="345.68" width="87.2" height="79.62" fill="#05a183" shape-rendering="crispEdges"/>
<rect x="328.6" y="345.68" width="65.4" height="79.62" fill="#05a183" shape-rendering="crispEdges"/>
<rect x="350.4" y="345.68" width="43.6" height="79.62" fill="#08a87d" shape-rendering="crispEdges"/>
<rect x="372.2" y="345.68" width="21.8" height="79.62" fill="#08a87d" shape-rendering="crispEdges"/>
<rect x="285" y="352.31" width="109" height="72.99" fill="#08a87d" shape-rendering="crispEdges"/>
<rect x="306.8" y="352.31" width="87.2" height="72.99" fill="#08a87d" shape-rendering="crispEdges"/>
<rect x="328.6" y="352.31" width="65.4" height="72.99" fill="#08a87d" shape-rendering="crispEdges"/>
<rect x="350.4" y="352.31" width="43.6" height="72.99" fill="#059f84" shape-rendering="crispEdges"/>
<rect x="372.2" y="352.31" width="21.8" height="72.99" fill="#059f84" shape-rendering="crispEdges"/>
<rect x="285" y="358.95" width="109" height="66.35" fill="#196b8e" shape-rendering="crispEdges"/>
<rect x="306.8" y="358.95" width="87.2" height="66.35" fill="#06a381" shape-rendering="crispEdges"/>
<rect x="328.6" y="358.95" width="65.4" height="66.35" fill="#06a381" shape-rendering="crispEdges"/>
<rect x="350.4" y="358.95" width="43.6" height="66.35" fill="#089589" shape-rendering="crispEdges"/>
<rect x="372.2" y="358.95" width="21.8" height="66.35" fill="#089589" shape-rendering="crispEdges"/>
<rect x="285" y="365.59" width="109" height="59.71" fill="#dfe300" shape-rendering="crispEdges"/>
<rect x="306.8" y="365.59" width="87.2" height="59.71" fill="#dfe300" shape-rendering="crispEdges"/>
<rect x="328.6" y="365.59" width="65.4" height="59.71" fill="#8ed91d" shape-rendering="crispEdges"/>
<rect x="350.4" y="365.59" width="43.6" height="59.71" fill="#127d8e" shape-rendering="crispEdges"/>
<rect x="372.2" y="365.59" width="21.8" height="59.71" fill="#127d8e" shape-rendering="crispEdges"/>
<rect x="285" y="372.22" width="109" height="53.08" fill="#15768e" shape-rendering="crispEdges"/>
<rect x="306.8" y="372.22" width="87.2" height="53.08" fill="#15768e" shape-rendering="crispEdges"/>
<rect x="328.6" y="372.22" width="65.4" height="53.08" fill="#1c658e" shape-rendering="crispEdges"/>
<rect x="350.4" y="372.22" width="43.6" height="53.08" fill="#15768e" shape-rendering="crispEdges"/>
<rect x="372.2" y="372.22" width="21.8" height="53.08" fill="#15768e" shape-rendering="crispEdges"/>
<rect x="285" y="378.86" width="109" height="46.44" fill="#089589" shape-rendering="crispEdges"/>
<rect x="306.8" y="378.86" width="87.2" height="46.44" fill="#089589" shape-rendering="crispEdges"/>
<rect x="328.6" y="378.86" width="65.4" height="46.44" fill="#069a87" shape-rendering="crispEdges"/>
<rect x="350.4" y="378.86" width="43.6" height="46.44" fill="#196b8e" shape-rendering="crispEdges"/>
<rect x="372.2" y="378.86" width="21.8" height="46.44" fill="#196b8e" shape-rendering="crispEdges"/>
<rect x="285" y="385.49" width="109" height="39.81" fill="#0f858e" shape-rendering="crispEdges"/>
<rect x="306.8" y="385.49" width="87.2" height="39.81" fill="#1f5f8e" shape-rendering="crispEdges"/>
<rect x="328.6" y="385.49" width="65.4" height="39.81" fill="#274d8c" shape-rendering="crispEdges"/>
<rect x="350.4" y="385.49" width="43.6" height="39.81" fill="#29498c" shape-rendering="crispEdges"/>
<rect x="372.2" y="385.49" width="21.8" height="39.81" fill="#29498c" shape-rendering="crispEdges"/>
<rect x="285" y="392.12" width="109" height="33.18" fill="#18b66e" shape-rendering="crispEdges"/>
<rect x="306.8" y="392.12" width="87.2" height="33.18" fill="#30c15e" shape-rendering="crispEdges"/>
<rect x="328.6" y="392.12" width="65.4" height="33.18" fill="#30c15e" shape-rendering="crispEdges"/>
<rect x="350.4" y="392.12" width="43.6" height="33.18" fill="#303d89" shape-rendering="crispEdges"/>
<rect x="372.2" y="392.12" width="21.8" height="33.18" fill="#303d89" shape-rendering="crispEdges"/>
<rect x="285" y="398.76" width="109" height="26.54" fill="#069a87" shape-rendering="crispEdges"/>
<rect x="306.8" y="398.76" width="87.2" height="26.54" fill="#0f858e" shape-rendering="crispEdges"/>
<rect x="328.6" y="398.76" width="65.4" height="26.54" fill="#0f858e" shape-rendering="crispEdges"/>
<rect x="350.4" y="398.76" width="43.6" height="26.54" fill="#3b217e" shape-rendering="crispEdges"/>
<rect x="372.2" y="398.76" width="21.8" height="26.54" fill="#3b217e" shape-rendering="crispEdges"/>
<rect x="285" y="405.4" width="109" height="19.9" fill="#420265" shape-rendering="crispEdges"/>
<rect x="306.8" y="405.4" width="87.2" height="19.9" fill="#3d1a7a" shape-rendering="crispEdges"/>
<rect x="328.6" y="405.4" width="65.4" height="19.9" fill="#3d1a7a" shape-rendering="crispEdges"/>
<rect x="350.4" y="405.4" width="43.6" height="19.9" fill="#363085" shape-rendering="crispEdges"/>
<rect x="372.2" y="405.4" width="21.8" height="19.9" fill="#363085" shape-rendering="crispEdges"/>
<rect x="285" y="412.03" width="109" height="13.27" fill="#3f1475" shape-rendering="crispEdges"/>
<rect x="306.8" y="412.03" width="87.2" height="13.27" fill="#43005e" shape-rendering="crispEdges"/>
<rect x="328.6" y="412.03" width="65.4" height="13.27" fill="#43005e" shape-rendering="crispEdges"/>
<rect x="350.4" y="412.03" width="43.6" height="13.27" fill="#3f1475" shape-rendering="crispEdges"/>
<rect x="372.2" y="412.03" width="21.8" height="13.27" fill="#3f1475" shape-rendering="crispEdges"/>
<rect x="285" y="418.67" width="109" height="6.63" fill="#2a478b" shape-rendering="crispEdges"/>
<rect x="306.8" y="418.67" width="87.2" height="6.63" fill="#363085" shape-rendering="crispEdges"/>
<rect x="328.6" y="418.67" width="65.4" height="6.63" fill="#363085" shape-rendering="crispEdges"/>
<rect x="350.4" y="418.67" width="43.6" height="6.63" fill="#43005e" shape-rendering="crispEdges"/>
<rect x="372.2" y="418.67" width="21.8" height="6.63" fill="#43005e" shape-rendering="crispEdges"/>
<rect x="285" y="292.6" width="109" height="132.7" fill="none" stroke="#2a2a2a" stroke-width="0.8"/>
<line x1="283.7" y1="295.92" x2="285" y2="295.92" stroke="#333" stroke-width="0.5"/>
<text font-size="7.2" fill="#606060" text-anchor="middle" stroke="#606060" stroke-width="0.12" transform="translate(283 295.92) rotate(-90)" textLength="4.6" lengthAdjust="spacingAndGlyphs">G07</text>
<line x1="283.7" y1="302.55" x2="285" y2="302.55" stroke="#333" stroke-width="0.5"/>
<text font-size="7.2" fill="#606060" text-anchor="middle" stroke="#606060" stroke-width="0.12" transform="translate(283 302.55) rotate(-90)" textLength="4.6" lengthAdjust="spacingAndGlyphs">G08</text>
<line x1="283.7" y1="309.19" x2="285" y2="309.19" stroke="#333" stroke-width="0.5"/>
<text font-size="7.2" fill="#606060" text-anchor="middle" stroke="#606060" stroke-width="0.12" transform="translate(283 309.19) rotate(-90)" textLength="4.6" lengthAdjust="spacingAndGlyphs">G09</text>
<line x1="283.7" y1="315.82" x2="285" y2="315.82" stroke="#333" stroke-width="0.5"/>
<text font-size="7.2" fill="#606060" text-anchor="middle" stroke="#606060" stroke-width="0.12" transform="translate(283 315.82) rotate(-90)" textLength="4.6" lengthAdjust="spacingAndGlyphs">G10</text>
<line x1="283.7" y1="322.46" x2="285" y2="322.46" stroke="#333" stroke-width="0.5"/>
<text font-size="7.2" fill="#606060" text-anchor="middle" stroke="#606060" stroke-width="0.12" transform="translate(283 322.46) rotate(-90)" textLength="4.6" lengthAdjust="spacingAndGlyphs">G11</text>
<line x1="283.7" y1="329.09" x2="285" y2="329.09" stroke="#333" stroke-width="0.5"/>
<text font-size="7.2" fill="#8484dc" text-anchor="middle" stroke="#8484dc" stroke-width="0.12" transform="translate(283 329.09) rotate(-90)" textLength="4.6" lengthAdjust="spacingAndGlyphs">G12</text>
<line x1="283.7" y1="335.73" x2="285" y2="335.73" stroke="#333" stroke-width="0.5"/>
<text font-size="7.2" fill="#8484dc" text-anchor="middle" stroke="#8484dc" stroke-width="0.12" transform="translate(283 335.73) rotate(-90)" textLength="4.6" lengthAdjust="spacingAndGlyphs">G13</text>
<line x1="283.7" y1="342.36" x2="285" y2="342.36" stroke="#333" stroke-width="0.5"/>
<text font-size="7.2" fill="#8484dc" text-anchor="middle" stroke="#8484dc" stroke-width="0.12" transform="translate(283 342.36) rotate(-90)" textLength="4.6" lengthAdjust="spacingAndGlyphs">G14</text>
<line x1="283.7" y1="349" x2="285" y2="349" stroke="#333" stroke-width="0.5"/>
<text font-size="7.2" fill="#ee8080" text-anchor="middle" stroke="#ee8080" stroke-width="0.12" transform="translate(283 349) rotate(-90)" textLength="4.6" lengthAdjust="spacingAndGlyphs">G15</text>
<line x1="283.7" y1="355.63" x2="285" y2="355.63" stroke="#333" stroke-width="0.5"/>
<text font-size="7.2" fill="#ee8080" text-anchor="middle" stroke="#ee8080" stroke-width="0.12" transform="translate(283 355.63) rotate(-90)" textLength="4.6" lengthAdjust="spacingAndGlyphs">G16</text>
<line x1="283.7" y1="362.27" x2="285" y2="362.27" stroke="#333" stroke-width="0.5"/>
<text font-size="7.2" fill="#ee8080" text-anchor="middle" stroke="#ee8080" stroke-width="0.12" transform="translate(283 362.27) rotate(-90)" textLength="4.6" lengthAdjust="spacingAndGlyphs">G17</text>
<line x1="283.7" y1="368.9" x2="285" y2="368.9" stroke="#333" stroke-width="0.5"/>
<text font-size="7.2" fill="#ee8080" text-anchor="middle" stroke="#ee8080" stroke-width="0.12" transform="translate(283 368.9) rotate(-90)" textLength="4.6" lengthAdjust="spacingAndGlyphs">G18</text>
<line x1="283.7" y1="375.54" x2="285" y2="375.54" stroke="#333" stroke-width="0.5"/>
<text font-size="7.2" fill="#ee8080" text-anchor="middle" stroke="#ee8080" stroke-width="0.12" transform="translate(283 375.54) rotate(-90)" textLength="4.6" lengthAdjust="spacingAndGlyphs">G19</text>
<line x1="283.7" y1="382.17" x2="285" y2="382.17" stroke="#333" stroke-width="0.5"/>
<text font-size="7.2" fill="#ee8080" text-anchor="middle" stroke="#ee8080" stroke-width="0.12" transform="translate(283 382.17) rotate(-90)" textLength="4.6" lengthAdjust="spacingAndGlyphs">G20</text>
<line x1="283.7" y1="388.81" x2="285" y2="388.81" stroke="#333" stroke-width="0.5"/>
<text font-size="7.2" fill="#ee8080" text-anchor="middle" stroke="#ee8080" stroke-width="0.12" transform="translate(283 388.81) rotate(-90)" textLength="4.6" lengthAdjust="spacingAndGlyphs">G01</text>
<line x1="283.7" y1="395.44" x2="285" y2="395.44" stroke="#333" stroke-width="0.5"/>
<text font-size="7.2" fill="#ee8080" text-anchor="middle" stroke="#ee8080" stroke-width="0.12" transform="translate(283 395.44) rotate(-90)" textLength="4.6" lengthAdjust="spacingAndGlyphs">G02</text>
<line x1="283.7" y1="402.08" x2="285" y2="402.08" stroke="#333" stroke-width="0.5"/>
<text font-size="7.2" fill="#ee8080" text-anchor="middle" stroke="#ee8080" stroke-width="0.12" transform="translate(283 402.08) rotate(-90)" textLength="4.6" lengthAdjust="spacingAndGlyphs">G03</text>
<line x1="283.7" y1="408.71" x2="285" y2="408.71" stroke="#333" stroke-width="0.5"/>
<text font-size="7.2" fill="#5ee09a" text-anchor="middle" stroke="#5ee09a" stroke-width="0.12" transform="translate(283 408.71) rotate(-90)" textLength="4.6" lengthAdjust="spacingAndGlyphs">G04</text>
<line x1="283.7" y1="415.35" x2="285" y2="415.35" stroke="#333" stroke-width="0.5"/>
<text font-size="7.2" fill="#5ee09a" text-anchor="middle" stroke="#5ee09a" stroke-width="0.12" transform="translate(283 415.35) rotate(-90)" textLength="4.6" lengthAdjust="spacingAndGlyphs">G05</text>
<line x1="283.7" y1="421.98" x2="285" y2="421.98" stroke="#333" stroke-width="0.5"/>
<text font-size="7.2" fill="#5ee09a" text-anchor="middle" stroke="#5ee09a" stroke-width="0.12" transform="translate(283 421.98) rotate(-90)" textLength="4.6" lengthAdjust="spacingAndGlyphs">G06</text>
<linearGradient id="gc2" x1="0" y1="1" x2="0" y2="0">
<stop offset="0" stop-color="#440054"/>
<stop offset="0.05" stop-color="#410568"/>
<stop offset="0.1" stop-color="#3e1878"/>
<stop offset="0.15" stop-color="#372c83"/>
<stop offset="0.2" stop-color="#2f3e89"/>
<stop offset="0.25" stop-color="#264f8c"/>
<stop offset="0.3" stop-color="#205c8e"/>
<stop offset="0.35" stop-color="#1a688e"/>
<stop offset="0.4" stop-color="#16748e"/>
<stop offset="0.45" stop-color="#117f8e"/>
<stop offset="0.5" stop-color="#0d8a8d"/>
<stop offset="0.55" stop-color="#089589"/>
<stop offset="0.6" stop-color="#059f84"/>
<stop offset="0.65" stop-color="#08a87d"/>
<stop offset="0.7" stop-color="#11b174"/>
<stop offset="0.75" stop-color="#22bb67"/>
<stop offset="0.8" stop-color="#3fc653"/>
<stop offset="0.85" stop-color="#65d139"/>
<stop offset="0.9" stop-color="#8ed91d"/>
<stop offset="0.95" stop-color="#cae100"/>
<stop offset="1" stop-color="#fde300"/>
</linearGradient>
<rect x="398" y="321.8" width="4.7" height="73.6" fill="url(#gc2)"/>
<rect x="398" y="321.8" width="4.7" height="73.6" fill="none" stroke="#4a4030" stroke-width="0.4"/>
<line x1="398" y1="322.2" x2="402.7" y2="322.2" stroke="#5a4a30" stroke-width="0.8"/>
<line x1="401.7" y1="325.48" x2="402.7" y2="325.48" stroke="#fff" stroke-width="0.4"/>
<text font-size="3.6" fill="#888" text-anchor="start" stroke="#888" stroke-width="0.1" transform="translate(404.3 326.78) scale(0.6 1)">2</text>
<line x1="401.7" y1="342.78" x2="402.7" y2="342.78" stroke="#fff" stroke-width="0.4"/>
<text font-size="3.6" fill="#888" text-anchor="start" stroke="#888" stroke-width="0.1" transform="translate(404.3 344.08) scale(0.6 1)">1.5</text>
<line x1="401.7" y1="360.07" x2="402.7" y2="360.07" stroke="#fff" stroke-width="0.4"/>
<text font-size="3.6" fill="#888" text-anchor="start" stroke="#888" stroke-width="0.1" transform="translate(404.3 361.37) scale(0.6 1)">1</text>
<line x1="401.7" y1="377.37" x2="402.7" y2="377.37" stroke="#fff" stroke-width="0.4"/>
<text font-size="3.6" fill="#888" text-anchor="start" stroke="#888" stroke-width="0.1" transform="translate(404.3 378.67) scale(0.6 1)">0.5</text>
<line x1="295.9" y1="425.3" x2="295.9" y2="426.8" stroke="#333" stroke-width="0.5"/>
<text font-size="5" fill="#3a3a3a" text-anchor="end" stroke="#3a3a3a" stroke-width="0.18" transform="translate(296.8 430.3) rotate(-90) scale(1 0.55)" textLength="13.7" lengthAdjust="spacingAndGlyphs">1IPCA</text>
<line x1="317.7" y1="425.3" x2="317.7" y2="426.8" stroke="#333" stroke-width="0.5"/>
<text font-size="5" fill="#3a3a3a" text-anchor="end" stroke="#3a3a3a" stroke-width="0.18" transform="translate(318.6 430.3) rotate(-90) scale(1 0.55)" textLength="13.7" lengthAdjust="spacingAndGlyphs">2IPCA</text>
<line x1="339.5" y1="425.3" x2="339.5" y2="426.8" stroke="#333" stroke-width="0.5"/>
<text font-size="5" fill="#3a3a3a" text-anchor="end" stroke="#3a3a3a" stroke-width="0.18" transform="translate(340.4 430.3) rotate(-90) scale(1 0.55)" textLength="13.7" lengthAdjust="spacingAndGlyphs">3IPCA</text>
<line x1="361.3" y1="425.3" x2="361.3" y2="426.8" stroke="#333" stroke-width="0.5"/>
<text font-size="5" fill="#3a3a3a" text-anchor="end" stroke="#3a3a3a" stroke-width="0.18" transform="translate(362.2 430.3) rotate(-90) scale(1 0.55)" textLength="13.7" lengthAdjust="spacingAndGlyphs">4IPCA</text>
<line x1="383.1" y1="425.3" x2="383.1" y2="426.8" stroke="#333" stroke-width="0.5"/>
<text font-size="5" fill="#3a3a3a" text-anchor="end" stroke="#3a3a3a" stroke-width="0.18" transform="translate(384 430.3) rotate(-90) scale(1 0.55)" textLength="13.7" lengthAdjust="spacingAndGlyphs">5IPCA</text>
<text font-size="6.7" fill="#333" text-anchor="middle" stroke="#333" stroke-width="0.18" transform="translate(332.7 452.3)" textLength="35.6" lengthAdjust="spacingAndGlyphs">Number of IPCAs</text>
<text font-size="5" fill="#555" text-anchor="middle" stroke="#555" stroke-width="0.05" transform="translate(275.1 358.95) rotate(-90) scale(1 0.55)" textLength="30" lengthAdjust="spacingAndGlyphs">Genotypes</text>
<rect x="431.3" y="292.6" width="103.5" height="131.4" fill="#13798e" shape-rendering="crispEdges"/>
<rect x="452" y="292.6" width="82.8" height="131.4" fill="#13798e" shape-rendering="crispEdges"/>
<rect x="472.7" y="292.6" width="62.1" height="131.4" fill="#13798e" shape-rendering="crispEdges"/>
<rect x="493.4" y="292.6" width="41.4" height="131.4" fill="#fde300" shape-rendering="crispEdges"/>
<rect x="514.1" y="292.6" width="20.7" height="131.4" fill="#fde300" shape-rendering="crispEdges"/>
<rect x="431.3" y="299.17" width="103.5" height="124.83" fill="#2c438a" shape-rendering="crispEdges"/>
<rect x="452" y="299.17" width="82.8" height="124.83" fill="#2c438a" shape-rendering="crispEdges"/>
<rect x="472.7" y="299.17" width="62.1" height="124.83" fill="#3d1a7a" shape-rendering="crispEdges"/>
<rect x="493.4" y="299.17" width="41.4" height="124.83" fill="#97da17" shape-rendering="crispEdges"/>
<rect x="514.1" y="299.17" width="20.7" height="124.83" fill="#97da17" shape-rendering="crispEdges"/>
<rect x="431.3" y="305.74" width="103.5" height="118.26" fill="#f1e400" shape-rendering="crispEdges"/>
<rect x="452" y="305.74" width="82.8" height="118.26" fill="#f1e400" shape-rendering="crispEdges"/>
<rect x="472.7" y="305.74" width="62.1" height="118.26" fill="#f1e400" shape-rendering="crispEdges"/>
<rect x="493.4" y="305.74" width="41.4" height="118.26" fill="#dfe300" shape-rendering="crispEdges"/>
<rect x="514.1" y="305.74" width="20.7" height="118.26" fill="#dfe300" shape-rendering="crispEdges"/>
<rect x="431.3" y="312.31" width="103.5" height="111.69" fill="#0bad79" shape-rendering="crispEdges"/>
<rect x="452" y="312.31" width="82.8" height="111.69" fill="#0bad79" shape-rendering="crispEdges"/>
<rect x="472.7" y="312.31" width="62.1" height="111.69" fill="#0bad79" shape-rendering="crispEdges"/>
<rect x="493.4" y="312.31" width="41.4" height="111.69" fill="#76d52e" shape-rendering="crispEdges"/>
<rect x="514.1" y="312.31" width="20.7" height="111.69" fill="#76d52e" shape-rendering="crispEdges"/>
<rect x="431.3" y="318.88" width="103.5" height="105.12" fill="#06a381" shape-rendering="crispEdges"/>
<rect x="452" y="318.88" width="82.8" height="105.12" fill="#06a381" shape-rendering="crispEdges"/>
<rect x="472.7" y="318.88" width="62.1" height="105.12" fill="#06a381" shape-rendering="crispEdges"/>
<rect x="493.4" y="318.88" width="41.4" height="105.12" fill="#2bbf61" shape-rendering="crispEdges"/>
<rect x="514.1" y="318.88" width="20.7" height="105.12" fill="#2bbf61" shape-rendering="crispEdges"/>
<rect x="431.3" y="325.45" width="103.5" height="98.55" fill="#d0e200" shape-rendering="crispEdges"/>
<rect x="452" y="325.45" width="82.8" height="98.55" fill="#d0e200" shape-rendering="crispEdges"/>
<rect x="472.7" y="325.45" width="62.1" height="98.55" fill="#d0e200" shape-rendering="crispEdges"/>
<rect x="493.4" y="325.45" width="41.4" height="98.55" fill="#06a381" shape-rendering="crispEdges"/>
<rect x="514.1" y="325.45" width="20.7" height="98.55" fill="#06a381" shape-rendering="crispEdges"/>
<rect x="431.3" y="332.02" width="103.5" height="91.98" fill="#18b66e" shape-rendering="crispEdges"/>
<rect x="452" y="332.02" width="82.8" height="91.98" fill="#18b66e" shape-rendering="crispEdges"/>
<rect x="472.7" y="332.02" width="62.1" height="91.98" fill="#18b66e" shape-rendering="crispEdges"/>
<rect x="493.4" y="332.02" width="41.4" height="91.98" fill="#079788" shape-rendering="crispEdges"/>
<rect x="514.1" y="332.02" width="20.7" height="91.98" fill="#079788" shape-rendering="crispEdges"/>
<rect x="431.3" y="338.59" width="103.5" height="85.41" fill="#9ddb12" shape-rendering="crispEdges"/>
<rect x="452" y="338.59" width="82.8" height="85.41" fill="#9ddb12" shape-rendering="crispEdges"/>
<rect x="472.7" y="338.59" width="62.1" height="85.41" fill="#9ddb12" shape-rendering="crispEdges"/>
<rect x="493.4" y="338.59" width="41.4" height="85.41" fill="#0e888e" shape-rendering="crispEdges"/>
<rect x="514.1" y="338.59" width="20.7" height="85.41" fill="#0e888e" shape-rendering="crispEdges"/>
<rect x="431.3" y="345.16" width="103.5" height="78.84" fill="#0d8a8d" shape-rendering="crispEdges"/>
<rect x="452" y="345.16" width="82.8" height="78.84" fill="#0d8a8d" shape-rendering="crispEdges"/>
<rect x="472.7" y="345.16" width="62.1" height="78.84" fill="#0d8a8d" shape-rendering="crispEdges"/>
<rect x="493.4" y="345.16" width="41.4" height="78.84" fill="#2a478b" shape-rendering="crispEdges"/>
<rect x="514.1" y="345.16" width="20.7" height="78.84" fill="#2a478b" shape-rendering="crispEdges"/>
<rect x="431.3" y="351.73" width="103.5" height="72.27" fill="#059c86" shape-rendering="crispEdges"/>
<rect x="452" y="351.73" width="82.8" height="72.27" fill="#059c86" shape-rendering="crispEdges"/>
<rect x="472.7" y="351.73" width="62.1" height="72.27" fill="#059c86" shape-rendering="crispEdges"/>
<rect x="493.4" y="351.73" width="41.4" height="72.27" fill="#303d89" shape-rendering="crispEdges"/>
<rect x="514.1" y="351.73" width="20.7" height="72.27" fill="#303d89" shape-rendering="crispEdges"/>
<rect x="431.3" y="358.3" width="103.5" height="65.7" fill="#8ed91d" shape-rendering="crispEdges"/>
<rect x="452" y="358.3" width="82.8" height="65.7" fill="#8ed91d" shape-rendering="crispEdges"/>
<rect x="472.7" y="358.3" width="62.1" height="65.7" fill="#8ed91d" shape-rendering="crispEdges"/>
<rect x="493.4" y="358.3" width="41.4" height="65.7" fill="#303d89" shape-rendering="crispEdges"/>
<rect x="514.1" y="358.3" width="20.7" height="65.7" fill="#303d89" shape-rendering="crispEdges"/>
<rect x="431.3" y="364.87" width="103.5" height="59.13" fill="#08a87d" shape-rendering="crispEdges"/>
<rect x="452" y="364.87" width="82.8" height="59.13" fill="#08a87d" shape-rendering="crispEdges"/>
<rect x="472.7" y="364.87" width="62.1" height="59.13" fill="#08a87d" shape-rendering="crispEdges"/>
<rect x="493.4" y="364.87" width="41.4" height="59.13" fill="#372c83" shape-rendering="crispEdges"/>
<rect x="514.1" y="364.87" width="20.7" height="59.13" fill="#372c83" shape-rendering="crispEdges"/>
<rect x="431.3" y="371.44" width="103.5" height="52.56" fill="#08a87d" shape-rendering="crispEdges"/>
<rect x="452" y="371.44" width="82.8" height="52.56" fill="#15b471" shape-rendering="crispEdges"/>
<rect x="472.7" y="371.44" width="62.1" height="52.56" fill="#15b471" shape-rendering="crispEdges"/>
<rect x="493.4" y="371.44" width="41.4" height="52.56" fill="#3f1475" shape-rendering="crispEdges"/>
<rect x="514.1" y="371.44" width="20.7" height="52.56" fill="#3f1475" shape-rendering="crispEdges"/>
<rect x="431.3" y="378.01" width="103.5" height="45.99" fill="#196b8e" shape-rendering="crispEdges"/>
<rect x="452" y="378.01" width="82.8" height="45.99" fill="#13798e" shape-rendering="crispEdges"/>
<rect x="472.7" y="378.01" width="62.1" height="45.99" fill="#196b8e" shape-rendering="crispEdges"/>
<rect x="493.4" y="378.01" width="41.4" height="45.99" fill="#22bb67" shape-rendering="crispEdges"/>
<rect x="514.1" y="378.01" width="20.7" height="45.99" fill="#22bb67" shape-rendering="crispEdges"/>
<rect x="431.3" y="384.58" width="103.5" height="39.42" fill="#43005e" shape-rendering="crispEdges"/>
<rect x="452" y="384.58" width="82.8" height="39.42" fill="#43005e" shape-rendering="crispEdges"/>
<rect x="472.7" y="384.58" width="62.1" height="39.42" fill="#43005e" shape-rendering="crispEdges"/>
<rect x="493.4" y="384.58" width="41.4" height="39.42" fill="#18b66e" shape-rendering="crispEdges"/>
<rect x="514.1" y="384.58" width="20.7" height="39.42" fill="#18b66e" shape-rendering="crispEdges"/>
<rect x="431.3" y="391.15" width="103.5" height="32.85" fill="#16748e" shape-rendering="crispEdges"/>
<rect x="452" y="391.15" width="82.8" height="32.85" fill="#16748e" shape-rendering="crispEdges"/>
<rect x="472.7" y="391.15" width="62.1" height="32.85" fill="#205c8e" shape-rendering="crispEdges"/>
<rect x="493.4" y="391.15" width="41.4" height="32.85" fill="#08a87d" shape-rendering="crispEdges"/>
<rect x="514.1" y="391.15" width="20.7" height="32.85" fill="#08a87d" shape-rendering="crispEdges"/>
<rect x="431.3" y="397.72" width="103.5" height="26.28" fill="#23568d" shape-rendering="crispEdges"/>
<rect x="452" y="397.72" width="82.8" height="26.28" fill="#23568d" shape-rendering="crispEdges"/>
<rect x="472.7" y="397.72" width="62.1" height="26.28" fill="#196b8e" shape-rendering="crispEdges"/>
<rect x="493.4" y="397.72" width="41.4" height="26.28" fill="#059c86" shape-rendering="crispEdges"/>
<rect x="514.1" y="397.72" width="20.7" height="26.28" fill="#059c86" shape-rendering="crispEdges"/>
<rect x="431.3" y="404.29" width="103.5" height="19.71" fill="#363085" shape-rendering="crispEdges"/>
<rect x="452" y="404.29" width="82.8" height="19.71" fill="#363085" shape-rendering="crispEdges"/>
<rect x="472.7" y="404.29" width="62.1" height="19.71" fill="#264f8c" shape-rendering="crispEdges"/>
<rect x="493.4" y="404.29" width="41.4" height="19.71" fill="#0d8a8d" shape-rendering="crispEdges"/>
<rect x="514.1" y="404.29" width="20.7" height="19.71" fill="#0d8a8d" shape-rendering="crispEdges"/>
<rect x="431.3" y="410.86" width="103.5" height="13.14" fill="#3d1a7a" shape-rendering="crispEdges"/>
<rect x="452" y="410.86" width="82.8" height="13.14" fill="#3d1a7a" shape-rendering="crispEdges"/>
<rect x="472.7" y="410.86" width="62.1" height="13.14" fill="#3f1475" shape-rendering="crispEdges"/>
<rect x="493.4" y="410.86" width="41.4" height="13.14" fill="#127d8e" shape-rendering="crispEdges"/>
<rect x="514.1" y="410.86" width="20.7" height="13.14" fill="#127d8e" shape-rendering="crispEdges"/>
<rect x="431.3" y="417.43" width="103.5" height="6.57" fill="#333687" shape-rendering="crispEdges"/>
<rect x="452" y="417.43" width="82.8" height="6.57" fill="#333687" shape-rendering="crispEdges"/>
<rect x="472.7" y="417.43" width="62.1" height="6.57" fill="#333687" shape-rendering="crispEdges"/>
<rect x="493.4" y="417.43" width="41.4" height="6.57" fill="#43005e" shape-rendering="crispEdges"/>
<rect x="514.1" y="417.43" width="20.7" height="6.57" fill="#43005e" shape-rendering="crispEdges"/>
<rect x="431.3" y="292.6" width="103.5" height="131.4" fill="none" stroke="#2a2a2a" stroke-width="0.8"/>
<line x1="430" y1="295.89" x2="431.3" y2="295.89" stroke="#333" stroke-width="0.5"/>
<text font-size="7.2" fill="#606060" text-anchor="middle" stroke="#606060" stroke-width="0.12" transform="translate(429.3 295.89) rotate(-90)" textLength="4.6" lengthAdjust="spacingAndGlyphs">G10</text>
<line x1="430" y1="302.46" x2="431.3" y2="302.46" stroke="#333" stroke-width="0.5"/>
<text font-size="7.2" fill="#606060" text-anchor="middle" stroke="#606060" stroke-width="0.12" transform="translate(429.3 302.46) rotate(-90)" textLength="4.6" lengthAdjust="spacingAndGlyphs">G11</text>
<line x1="430" y1="309.03" x2="431.3" y2="309.03" stroke="#333" stroke-width="0.5"/>
<text font-size="7.2" fill="#8484dc" text-anchor="middle" stroke="#8484dc" stroke-width="0.12" transform="translate(429.3 309.03) rotate(-90)" textLength="4.6" lengthAdjust="spacingAndGlyphs">G12</text>
<line x1="430" y1="315.6" x2="431.3" y2="315.6" stroke="#333" stroke-width="0.5"/>
<text font-size="7.2" fill="#8484dc" text-anchor="middle" stroke="#8484dc" stroke-width="0.12" transform="translate(429.3 315.6) rotate(-90)" textLength="4.6" lengthAdjust="spacingAndGlyphs">G13</text>
<line x1="430" y1="322.17" x2="431.3" y2="322.17" stroke="#333" stroke-width="0.5"/>
<text font-size="7.2" fill="#8484dc" text-anchor="middle" stroke="#8484dc" stroke-width="0.12" transform="translate(429.3 322.17) rotate(-90)" textLength="4.6" lengthAdjust="spacingAndGlyphs">G14</text>
<line x1="430" y1="328.74" x2="431.3" y2="328.74" stroke="#333" stroke-width="0.5"/>
<text font-size="7.2" fill="#8484dc" text-anchor="middle" stroke="#8484dc" stroke-width="0.12" transform="translate(429.3 328.74) rotate(-90)" textLength="4.6" lengthAdjust="spacingAndGlyphs">G15</text>
<line x1="430" y1="335.31" x2="431.3" y2="335.31" stroke="#333" stroke-width="0.5"/>
<text font-size="7.2" fill="#8484dc" text-anchor="middle" stroke="#8484dc" stroke-width="0.12" transform="translate(429.3 335.31) rotate(-90)" textLength="4.6" lengthAdjust="spacingAndGlyphs">G16</text>
<line x1="430" y1="341.88" x2="431.3" y2="341.88" stroke="#333" stroke-width="0.5"/>
<text font-size="7.2" fill="#8484dc" text-anchor="middle" stroke="#8484dc" stroke-width="0.12" transform="translate(429.3 341.88) rotate(-90)" textLength="4.6" lengthAdjust="spacingAndGlyphs">G17</text>
<line x1="430" y1="348.44" x2="431.3" y2="348.44" stroke="#333" stroke-width="0.5"/>
<text font-size="7.2" fill="#ee8080" text-anchor="middle" stroke="#ee8080" stroke-width="0.12" transform="translate(429.3 348.44) rotate(-90)" textLength="4.6" lengthAdjust="spacingAndGlyphs">G18</text>
<line x1="430" y1="355.01" x2="431.3" y2="355.01" stroke="#333" stroke-width="0.5"/>
<text font-size="7.2" fill="#ee8080" text-anchor="middle" stroke="#ee8080" stroke-width="0.12" transform="translate(429.3 355.01) rotate(-90)" textLength="4.6" lengthAdjust="spacingAndGlyphs">G19</text>
<line x1="430" y1="361.59" x2="431.3" y2="361.59" stroke="#333" stroke-width="0.5"/>
<text font-size="7.2" fill="#ee8080" text-anchor="middle" stroke="#ee8080" stroke-width="0.12" transform="translate(429.3 361.59) rotate(-90)" textLength="4.6" lengthAdjust="spacingAndGlyphs">G20</text>
<line x1="430" y1="368.15" x2="431.3" y2="368.15" stroke="#333" stroke-width="0.5"/>
<text font-size="7.2" fill="#ee8080" text-anchor="middle" stroke="#ee8080" stroke-width="0.12" transform="translate(429.3 368.15) rotate(-90)" textLength="4.6" lengthAdjust="spacingAndGlyphs">G01</text>
<line x1="430" y1="374.73" x2="431.3" y2="374.73" stroke="#333" stroke-width="0.5"/>
<text font-size="7.2" fill="#ee8080" text-anchor="middle" stroke="#ee8080" stroke-width="0.12" transform="translate(429.3 374.73) rotate(-90)" textLength="4.6" lengthAdjust="spacingAndGlyphs">G02</text>
<line x1="430" y1="381.3" x2="431.3" y2="381.3" stroke="#333" stroke-width="0.5"/>
<text font-size="7.2" fill="#ee8080" text-anchor="middle" stroke="#ee8080" stroke-width="0.12" transform="translate(429.3 381.3) rotate(-90)" textLength="4.6" lengthAdjust="spacingAndGlyphs">G03</text>
<line x1="430" y1="387.87" x2="431.3" y2="387.87" stroke="#333" stroke-width="0.5"/>
<text font-size="7.2" fill="#5ee09a" text-anchor="middle" stroke="#5ee09a" stroke-width="0.12" transform="translate(429.3 387.87) rotate(-90)" textLength="4.6" lengthAdjust="spacingAndGlyphs">G04</text>
<line x1="430" y1="394.44" x2="431.3" y2="394.44" stroke="#333" stroke-width="0.5"/>
<text font-size="7.2" fill="#5ee09a" text-anchor="middle" stroke="#5ee09a" stroke-width="0.12" transform="translate(429.3 394.44) rotate(-90)" textLength="4.6" lengthAdjust="spacingAndGlyphs">G05</text>
<line x1="430" y1="401" x2="431.3" y2="401" stroke="#333" stroke-width="0.5"/>
<text font-size="7.2" fill="#5ee09a" text-anchor="middle" stroke="#5ee09a" stroke-width="0.12" transform="translate(429.3 401) rotate(-90)" textLength="4.6" lengthAdjust="spacingAndGlyphs">G06</text>
<line x1="430" y1="407.57" x2="431.3" y2="407.57" stroke="#333" stroke-width="0.5"/>
<text font-size="7.2" fill="#5ee09a" text-anchor="middle" stroke="#5ee09a" stroke-width="0.12" transform="translate(429.3 407.57) rotate(-90)" textLength="4.6" lengthAdjust="spacingAndGlyphs">G07</text>
<line x1="430" y1="414.14" x2="431.3" y2="414.14" stroke="#333" stroke-width="0.5"/>
<text font-size="7.2" fill="#5ee09a" text-anchor="middle" stroke="#5ee09a" stroke-width="0.12" transform="translate(429.3 414.14) rotate(-90)" textLength="4.6" lengthAdjust="spacingAndGlyphs">G08</text>
<line x1="430" y1="420.72" x2="431.3" y2="420.72" stroke="#333" stroke-width="0.5"/>
<text font-size="7.2" fill="#5ee09a" text-anchor="middle" stroke="#5ee09a" stroke-width="0.12" transform="translate(429.3 420.72) rotate(-90)" textLength="4.6" lengthAdjust="spacingAndGlyphs">G09</text>
<linearGradient id="gc3" x1="0" y1="1" x2="0" y2="0">
<stop offset="0" stop-color="#440054"/>
<stop offset="0.05" stop-color="#410568"/>
<stop offset="0.1" stop-color="#3e1878"/>
<stop offset="0.15" stop-color="#372c83"/>
<stop offset="0.2" stop-color="#2f3e89"/>
<stop offset="0.25" stop-color="#264f8c"/>
<stop offset="0.3" stop-color="#205c8e"/>
<stop offset="0.35" stop-color="#1a688e"/>
<stop offset="0.4" stop-color="#16748e"/>
<stop offset="0.45" stop-color="#117f8e"/>
<stop offset="0.5" stop-color="#0d8a8d"/>
<stop offset="0.55" stop-color="#089589"/>
<stop offset="0.6" stop-color="#059f84"/>
<stop offset="0.65" stop-color="#08a87d"/>
<stop offset="0.7" stop-color="#11b174"/>
<stop offset="0.75" stop-color="#22bb67"/>
<stop offset="0.8" stop-color="#3fc653"/>
<stop offset="0.85" stop-color="#65d139"/>
<stop offset="0.9" stop-color="#8ed91d"/>
<stop offset="0.95" stop-color="#cae100"/>
<stop offset="1" stop-color="#fde300"/>
</linearGradient>
<rect x="539.4" y="321.8" width="4.1" height="72.7" fill="url(#gc3)"/>
<rect x="539.4" y="321.8" width="4.1" height="72.7" fill="none" stroke="#4a4030" stroke-width="0.4"/>
<line x1="539.4" y1="322.2" x2="543.5" y2="322.2" stroke="#5a4a30" stroke-width="0.8"/>
<line x1="542.5" y1="325.44" x2="543.5" y2="325.44" stroke="#fff" stroke-width="0.4"/>
<text font-size="3.6" fill="#888" text-anchor="start" stroke="#888" stroke-width="0.1" transform="translate(545.1 326.74) scale(0.6 1)">2</text>
<line x1="542.5" y1="342.52" x2="543.5" y2="342.52" stroke="#fff" stroke-width="0.4"/>
<text font-size="3.6" fill="#888" text-anchor="start" stroke="#888" stroke-width="0.1" transform="translate(545.1 343.82) scale(0.6 1)">1.5</text>
<line x1="542.5" y1="359.6" x2="543.5" y2="359.6" stroke="#fff" stroke-width="0.4"/>
<text font-size="3.6" fill="#888" text-anchor="start" stroke="#888" stroke-width="0.1" transform="translate(545.1 360.9) scale(0.6 1)">1</text>
<line x1="542.5" y1="376.69" x2="543.5" y2="376.69" stroke="#fff" stroke-width="0.4"/>
<text font-size="3.6" fill="#888" text-anchor="start" stroke="#888" stroke-width="0.1" transform="translate(545.1 377.99) scale(0.6 1)">0.5</text>
<line x1="441.65" y1="424" x2="441.65" y2="425.5" stroke="#333" stroke-width="0.5"/>
<text font-size="5" fill="#3a3a3a" text-anchor="end" stroke="#3a3a3a" stroke-width="0.18" transform="translate(442.55 429) rotate(-90) scale(1 0.55)" textLength="13.7" lengthAdjust="spacingAndGlyphs">1IPCA</text>
<line x1="462.35" y1="424" x2="462.35" y2="425.5" stroke="#333" stroke-width="0.5"/>
<text font-size="5" fill="#3a3a3a" text-anchor="end" stroke="#3a3a3a" stroke-width="0.18" transform="translate(463.25 429) rotate(-90) scale(1 0.55)" textLength="13.7" lengthAdjust="spacingAndGlyphs">2IPCA</text>
<line x1="483.05" y1="424" x2="483.05" y2="425.5" stroke="#333" stroke-width="0.5"/>
<text font-size="5" fill="#3a3a3a" text-anchor="end" stroke="#3a3a3a" stroke-width="0.18" transform="translate(483.95 429) rotate(-90) scale(1 0.55)" textLength="13.7" lengthAdjust="spacingAndGlyphs">3IPCA</text>
<line x1="503.75" y1="424" x2="503.75" y2="425.5" stroke="#333" stroke-width="0.5"/>
<text font-size="5" fill="#3a3a3a" text-anchor="end" stroke="#3a3a3a" stroke-width="0.18" transform="translate(504.65 429) rotate(-90) scale(1 0.55)" textLength="13.7" lengthAdjust="spacingAndGlyphs">4IPCA</text>
<line x1="524.45" y1="424" x2="524.45" y2="425.5" stroke="#333" stroke-width="0.5"/>
<text font-size="5" fill="#3a3a3a" text-anchor="end" stroke="#3a3a3a" stroke-width="0.18" transform="translate(525.35 429) rotate(-90) scale(1 0.55)" textLength="13.7" lengthAdjust="spacingAndGlyphs">5IPCA</text>
<text font-size="6.7" fill="#333" text-anchor="middle" stroke="#333" stroke-width="0.18" transform="translate(483.6 452.8)" textLength="35.6" lengthAdjust="spacingAndGlyphs">Number of IPCAs</text>
<text font-size="5" fill="#555" text-anchor="middle" stroke="#555" stroke-width="0.05" transform="translate(421.9 358.3) rotate(-90) scale(1 0.55)" textLength="30" lengthAdjust="spacingAndGlyphs">Genotypes</text>
<text font-size="8.2" fill="#333" text-anchor="start" stroke="#333" stroke-width="0.18" transform="translate(3.8 290.7) scale(0.82 1)">(C)</text>
<rect x="19" y="459.5" width="103" height="147.5" fill="#0a918c" shape-rendering="crispEdges"/>
<rect x="48.43" y="459.5" width="73.57" height="147.5" fill="#06a381" shape-rendering="crispEdges"/>
<rect x="77.86" y="459.5" width="44.14" height="147.5" fill="#0bad79" shape-rendering="crispEdges"/>
<rect x="87.67" y="459.5" width="34.33" height="147.5" fill="#08a87d" shape-rendering="crispEdges"/>
<rect x="19" y="466.88" width="103" height="140.12" fill="#2bbf61" shape-rendering="crispEdges"/>
<rect x="28.81" y="466.88" width="93.19" height="140.12" fill="#5bce41" shape-rendering="crispEdges"/>
<rect x="38.62" y="466.88" width="83.38" height="140.12" fill="#dfe300" shape-rendering="crispEdges"/>
<rect x="112.19" y="466.88" width="9.81" height="140.12" fill="#97da17" shape-rendering="crispEdges"/>
<rect x="19" y="474.25" width="103" height="132.75" fill="#089589" shape-rendering="crispEdges"/>
<rect x="38.62" y="474.25" width="83.38" height="132.75" fill="#0bad79" shape-rendering="crispEdges"/>
<rect x="53.33" y="474.25" width="68.67" height="132.75" fill="#5bce41" shape-rendering="crispEdges"/>
<rect x="72.95" y="474.25" width="49.05" height="132.75" fill="#fde300" shape-rendering="crispEdges"/>
<rect x="19" y="481.62" width="103" height="125.38" fill="#0d8a8d" shape-rendering="crispEdges"/>
<rect x="38.62" y="481.62" width="83.38" height="125.38" fill="#0bad79" shape-rendering="crispEdges"/>
<rect x="68.05" y="481.62" width="53.95" height="125.38" fill="#4ecb4a" shape-rendering="crispEdges"/>
<rect x="87.67" y="481.62" width="34.33" height="125.38" fill="#97da17" shape-rendering="crispEdges"/>
<rect x="112.19" y="481.62" width="9.81" height="125.38" fill="#4ecb4a" shape-rendering="crispEdges"/>
<rect x="117.1" y="481.62" width="4.9" height="125.38" fill="#8ed91d" shape-rendering="crispEdges"/>
<rect x="19" y="489" width="103" height="118" fill="#fde300" shape-rendering="crispEdges"/>
<rect x="72.95" y="489" width="49.05" height="118" fill="#97da17" shape-rendering="crispEdges"/>
<rect x="92.57" y="489" width="29.43" height="118" fill="#0bad79" shape-rendering="crispEdges"/>
<rect x="19" y="496.38" width="103" height="110.62" fill="#8ed91d" shape-rendering="crispEdges"/>
<rect x="33.71" y="496.38" width="88.29" height="110.62" fill="#9ddb12" shape-rendering="crispEdges"/>
<rect x="38.62" y="496.38" width="83.38" height="110.62" fill="#68d137" shape-rendering="crispEdges"/>
<rect x="58.24" y="496.38" width="63.76" height="110.62" fill="#55cd44" shape-rendering="crispEdges"/>
<rect x="68.05" y="496.38" width="53.95" height="110.62" fill="#0faf76" shape-rendering="crispEdges"/>
<rect x="19" y="503.75" width="103" height="103.25" fill="#c7e100" shape-rendering="crispEdges"/>
<rect x="33.71" y="503.75" width="88.29" height="103.25" fill="#97da17" shape-rendering="crispEdges"/>
<rect x="38.62" y="503.75" width="83.38" height="103.25" fill="#68d137" shape-rendering="crispEdges"/>
<rect x="53.33" y="503.75" width="68.67" height="103.25" fill="#18b66e" shape-rendering="crispEdges"/>
<rect x="68.05" y="503.75" width="53.95" height="103.25" fill="#08a87d" shape-rendering="crispEdges"/>
<rect x="19" y="511.12" width="103" height="95.88" fill="#2c438a" shape-rendering="crispEdges"/>
<rect x="53.33" y="511.12" width="68.67" height="95.88" fill="#1a688e" shape-rendering="crispEdges"/>
<rect x="77.86" y="511.12" width="44.14" height="95.88" fill="#089589" shape-rendering="crispEdges"/>
<rect x="19" y="518.5" width="103" height="88.5" fill="#23568d" shape-rendering="crispEdges"/>
<rect x="48.43" y="518.5" width="73.57" height="88.5" fill="#127d8e" shape-rendering="crispEdges"/>
<rect x="68.05" y="518.5" width="53.95" height="88.5" fill="#06a381" shape-rendering="crispEdges"/>
<rect x="92.57" y="518.5" width="29.43" height="88.5" fill="#5bce41" shape-rendering="crispEdges"/>
<rect x="112.19" y="518.5" width="9.81" height="88.5" fill="#dfe300" shape-rendering="crispEdges"/>
<rect x="19" y="525.88" width="103" height="81.12" fill="#420265" shape-rendering="crispEdges"/>
<rect x="107.29" y="525.88" width="14.71" height="81.12" fill="#303d89" shape-rendering="crispEdges"/>
<rect x="19" y="533.25" width="103" height="73.75" fill="#3c1e7c" shape-rendering="crispEdges"/>
<rect x="58.24" y="533.25" width="63.76" height="73.75" fill="#333687" shape-rendering="crispEdges"/>
<rect x="77.86" y="533.25" width="44.14" height="73.75" fill="#13798e" shape-rendering="crispEdges"/>
<rect x="107.29" y="533.25" width="14.71" height="73.75" fill="#059c86" shape-rendering="crispEdges"/>
<rect x="19" y="540.62" width="103" height="66.38" fill="#44005c" shape-rendering="crispEdges"/>
<rect x="19" y="548" width="103" height="59" fill="#333687" shape-rendering="crispEdges"/>
<rect x="58.24" y="548" width="63.76" height="59" fill="#3a2580" shape-rendering="crispEdges"/>
<rect x="87.67" y="548" width="34.33" height="59" fill="#186e8e" shape-rendering="crispEdges"/>
<rect x="117.1" y="548" width="4.9" height="59" fill="#0e888e" shape-rendering="crispEdges"/>
<rect x="19" y="555.38" width="103" height="51.62" fill="#8ed91d" shape-rendering="crispEdges"/>
<rect x="23.9" y="555.38" width="98.1" height="51.62" fill="#2bbf61" shape-rendering="crispEdges"/>
<rect x="48.43" y="555.38" width="73.57" height="51.62" fill="#06a381" shape-rendering="crispEdges"/>
<rect x="77.86" y="555.38" width="44.14" height="51.62" fill="#0e888e" shape-rendering="crispEdges"/>
<rect x="19" y="562.75" width="103" height="44.25" fill="#15768e" shape-rendering="crispEdges"/>
<rect x="77.86" y="562.75" width="44.14" height="44.25" fill="#29498c" shape-rendering="crispEdges"/>
<rect x="102.38" y="562.75" width="19.62" height="44.25" fill="#303d89" shape-rendering="crispEdges"/>
<rect x="19" y="570.12" width="103" height="36.88" fill="#196b8e" shape-rendering="crispEdges"/>
<rect x="43.52" y="570.12" width="78.48" height="36.88" fill="#23568d" shape-rendering="crispEdges"/>
<rect x="19" y="577.5" width="103" height="29.5" fill="#2bbf61" shape-rendering="crispEdges"/>
<rect x="43.52" y="577.5" width="78.48" height="29.5" fill="#18b66e" shape-rendering="crispEdges"/>
<rect x="68.05" y="577.5" width="53.95" height="29.5" fill="#06a381" shape-rendering="crispEdges"/>
<rect x="19" y="584.88" width="103" height="22.12" fill="#18b66e" shape-rendering="crispEdges"/>
<rect x="48.43" y="584.88" width="73.57" height="22.12" fill="#08a87d" shape-rendering="crispEdges"/>
<rect x="77.86" y="584.88" width="44.14" height="22.12" fill="#059c86" shape-rendering="crispEdges"/>
<rect x="19" y="592.25" width="103" height="14.75" fill="#059c86" shape-rendering="crispEdges"/>
<rect x="38.62" y="592.25" width="83.38" height="14.75" fill="#0e888e" shape-rendering="crispEdges"/>
<rect x="82.76" y="592.25" width="39.24" height="14.75" fill="#2a478b" shape-rendering="crispEdges"/>
<rect x="107.29" y="592.25" width="14.71" height="14.75" fill="#3f1475" shape-rendering="crispEdges"/>
<rect x="19" y="599.62" width="103" height="7.38" fill="#16748e" shape-rendering="crispEdges"/>
<rect x="53.33" y="599.62" width="68.67" height="7.38" fill="#2a478b" shape-rendering="crispEdges"/>
<rect x="72.95" y="599.62" width="49.05" height="7.38" fill="#3c1e7c" shape-rendering="crispEdges"/>
<rect x="19" y="459.5" width="103" height="147.5" fill="none" stroke="#2a2a2a" stroke-width="0.8"/>
<line x1="17.7" y1="463.19" x2="19" y2="463.19" stroke="#333" stroke-width="0.5"/>
<text font-size="7.2" fill="#606060" text-anchor="middle" stroke="#606060" stroke-width="0.12" transform="translate(17 463.19) rotate(-90)" textLength="4.6" lengthAdjust="spacingAndGlyphs">G03</text>
<line x1="17.7" y1="470.56" x2="19" y2="470.56" stroke="#333" stroke-width="0.5"/>
<text font-size="7.2" fill="#606060" text-anchor="middle" stroke="#606060" stroke-width="0.12" transform="translate(17 470.56) rotate(-90)" textLength="4.6" lengthAdjust="spacingAndGlyphs">G04</text>
<line x1="17.7" y1="477.94" x2="19" y2="477.94" stroke="#333" stroke-width="0.5"/>
<text font-size="7.2" fill="#606060" text-anchor="middle" stroke="#606060" stroke-width="0.12" transform="translate(17 477.94) rotate(-90)" textLength="4.6" lengthAdjust="spacingAndGlyphs">G05</text>
<line x1="17.7" y1="485.31" x2="19" y2="485.31" stroke="#333" stroke-width="0.5"/>
<text font-size="7.2" fill="#606060" text-anchor="middle" stroke="#606060" stroke-width="0.12" transform="translate(17 485.31) rotate(-90)" textLength="4.6" lengthAdjust="spacingAndGlyphs">G06</text>
<line x1="17.7" y1="492.69" x2="19" y2="492.69" stroke="#333" stroke-width="0.5"/>
<text font-size="7.2" fill="#606060" text-anchor="middle" stroke="#606060" stroke-width="0.12" transform="translate(17 492.69) rotate(-90)" textLength="4.6" lengthAdjust="spacingAndGlyphs">G07</text>
<line x1="17.7" y1="500.06" x2="19" y2="500.06" stroke="#333" stroke-width="0.5"/>
<text font-size="7.2" fill="#606060" text-anchor="middle" stroke="#606060" stroke-width="0.12" transform="translate(17 500.06) rotate(-90)" textLength="4.6" lengthAdjust="spacingAndGlyphs">G08</text>
<line x1="17.7" y1="507.44" x2="19" y2="507.44" stroke="#333" stroke-width="0.5"/>
<text font-size="7.2" fill="#606060" text-anchor="middle" stroke="#606060" stroke-width="0.12" transform="translate(17 507.44) rotate(-90)" textLength="4.6" lengthAdjust="spacingAndGlyphs">G09</text>
<line x1="17.7" y1="514.81" x2="19" y2="514.81" stroke="#333" stroke-width="0.5"/>
<text font-size="7.2" fill="#8484dc" text-anchor="middle" stroke="#8484dc" stroke-width="0.12" transform="translate(17 514.81) rotate(-90)" textLength="4.6" lengthAdjust="spacingAndGlyphs">G10</text>
<line x1="17.7" y1="522.19" x2="19" y2="522.19" stroke="#333" stroke-width="0.5"/>
<text font-size="7.2" fill="#8484dc" text-anchor="middle" stroke="#8484dc" stroke-width="0.12" transform="translate(17 522.19) rotate(-90)" textLength="4.6" lengthAdjust="spacingAndGlyphs">G11</text>
<line x1="17.7" y1="529.56" x2="19" y2="529.56" stroke="#333" stroke-width="0.5"/>
<text font-size="7.2" fill="#ee8080" text-anchor="middle" stroke="#ee8080" stroke-width="0.12" transform="translate(17 529.56) rotate(-90)" textLength="4.6" lengthAdjust="spacingAndGlyphs">G12</text>
<line x1="17.7" y1="536.94" x2="19" y2="536.94" stroke="#333" stroke-width="0.5"/>
<text font-size="7.2" fill="#ee8080" text-anchor="middle" stroke="#ee8080" stroke-width="0.12" transform="translate(17 536.94) rotate(-90)" textLength="4.6" lengthAdjust="spacingAndGlyphs">G13</text>
<line x1="17.7" y1="544.31" x2="19" y2="544.31" stroke="#333" stroke-width="0.5"/>
<text font-size="7.2" fill="#ee8080" text-anchor="middle" stroke="#ee8080" stroke-width="0.12" transform="translate(17 544.31) rotate(-90)" textLength="4.6" lengthAdjust="spacingAndGlyphs">G14</text>
<line x1="17.7" y1="551.69" x2="19" y2="551.69" stroke="#333" stroke-width="0.5"/>
<text font-size="7.2" fill="#ee8080" text-anchor="middle" stroke="#ee8080" stroke-width="0.12" transform="translate(17 551.69) rotate(-90)" textLength="4.6" lengthAdjust="spacingAndGlyphs">G15</text>
<line x1="17.7" y1="559.06" x2="19" y2="559.06" stroke="#333" stroke-width="0.5"/>
<text font-size="7.2" fill="#5ee09a" text-anchor="middle" stroke="#5ee09a" stroke-width="0.12" transform="translate(17 559.06) rotate(-90)" textLength="4.6" lengthAdjust="spacingAndGlyphs">G16</text>
<line x1="17.7" y1="566.44" x2="19" y2="566.44" stroke="#333" stroke-width="0.5"/>
<text font-size="7.2" fill="#5ee09a" text-anchor="middle" stroke="#5ee09a" stroke-width="0.12" transform="translate(17 566.44) rotate(-90)" textLength="4.6" lengthAdjust="spacingAndGlyphs">G17</text>
<line x1="17.7" y1="573.81" x2="19" y2="573.81" stroke="#333" stroke-width="0.5"/>
<text font-size="7.2" fill="#5ee09a" text-anchor="middle" stroke="#5ee09a" stroke-width="0.12" transform="translate(17 573.81) rotate(-90)" textLength="4.6" lengthAdjust="spacingAndGlyphs">G18</text>
<line x1="17.7" y1="581.19" x2="19" y2="581.19" stroke="#333" stroke-width="0.5"/>
<text font-size="7.2" fill="#5ee09a" text-anchor="middle" stroke="#5ee09a" stroke-width="0.12" transform="translate(17 581.19) rotate(-90)" textLength="4.6" lengthAdjust="spacingAndGlyphs">G19</text>
<line x1="17.7" y1="588.56" x2="19" y2="588.56" stroke="#333" stroke-width="0.5"/>
<text font-size="7.2" fill="#5ee09a" text-anchor="middle" stroke="#5ee09a" stroke-width="0.12" transform="translate(17 588.56) rotate(-90)" textLength="4.6" lengthAdjust="spacingAndGlyphs">G20</text>
<line x1="17.7" y1="595.94" x2="19" y2="595.94" stroke="#333" stroke-width="0.5"/>
<text font-size="7.2" fill="#5ee09a" text-anchor="middle" stroke="#5ee09a" stroke-width="0.12" transform="translate(17 595.94) rotate(-90)" textLength="4.6" lengthAdjust="spacingAndGlyphs">G01</text>
<line x1="17.7" y1="603.31" x2="19" y2="603.31" stroke="#333" stroke-width="0.5"/>
<text font-size="7.2" fill="#5ee09a" text-anchor="middle" stroke="#5ee09a" stroke-width="0.12" transform="translate(17 603.31) rotate(-90)" textLength="4.6" lengthAdjust="spacingAndGlyphs">G02</text>
<linearGradient id="gd0" x1="0" y1="1" x2="0" y2="0">
<stop offset="0" stop-color="#440054"/>
<stop offset="0.05" stop-color="#410568"/>
<stop offset="0.1" stop-color="#3e1878"/>
<stop offset="0.15" stop-color="#372c83"/>
<stop offset="0.2" stop-color="#2f3e89"/>
<stop offset="0.25" stop-color="#264f8c"/>
<stop offset="0.3" stop-color="#205c8e"/>
<stop offset="0.35" stop-color="#1a688e"/>
<stop offset="0.4" stop-color="#16748e"/>
<stop offset="0.45" stop-color="#117f8e"/>
<stop offset="0.5" stop-color="#0d8a8d"/>
<stop offset="0.55" stop-color="#089589"/>
<stop offset="0.6" stop-color="#059f84"/>
<stop offset="0.65" stop-color="#08a87d"/>
<stop offset="0.7" stop-color="#11b174"/>
<stop offset="0.75" stop-color="#22bb67"/>
<stop offset="0.8" stop-color="#3fc653"/>
<stop offset="0.85" stop-color="#65d139"/>
<stop offset="0.9" stop-color="#8ed91d"/>
<stop offset="0.95" stop-color="#cae100"/>
<stop offset="1" stop-color="#fde300"/>
</linearGradient>
<rect x="126.5" y="492.5" width="4.5" height="80.7" fill="url(#gd0)"/>
<rect x="126.5" y="492.5" width="4.5" height="80.7" fill="none" stroke="#4a4030" stroke-width="0.4"/>
<line x1="126.5" y1="492.9" x2="131" y2="492.9" stroke="#5a4a30" stroke-width="0.8"/>
<line x1="130" y1="496.54" x2="131" y2="496.54" stroke="#fff" stroke-width="0.4"/>
<text font-size="3.6" fill="#888" text-anchor="start" stroke="#888" stroke-width="0.1" transform="translate(132.6 497.84) scale(0.6 1)">2</text>
<line x1="130" y1="515.5" x2="131" y2="515.5" stroke="#fff" stroke-width="0.4"/>
<text font-size="3.6" fill="#888" text-anchor="start" stroke="#888" stroke-width="0.1" transform="translate(132.6 516.8) scale(0.6 1)">1.5</text>
<line x1="130" y1="534.46" x2="131" y2="534.46" stroke="#fff" stroke-width="0.4"/>
<text font-size="3.6" fill="#888" text-anchor="start" stroke="#888" stroke-width="0.1" transform="translate(132.6 535.76) scale(0.6 1)">1</text>
<line x1="130" y1="553.43" x2="131" y2="553.43" stroke="#fff" stroke-width="0.4"/>
<text font-size="3.6" fill="#888" text-anchor="start" stroke="#888" stroke-width="0.1" transform="translate(132.6 554.73) scale(0.6 1)">0.5</text>
<line x1="21.45" y1="607" x2="21.45" y2="608.3" stroke="#333" stroke-width="0.4"/>
<text font-size="6" fill="#3a3a3a" text-anchor="end" stroke="#3a3a3a" stroke-width="0.12" transform="translate(22.35 610.5) rotate(-90) scale(1 0.55)" textLength="15.75" lengthAdjust="spacingAndGlyphs">100/0</text>
<line x1="26.36" y1="607" x2="26.36" y2="608.3" stroke="#333" stroke-width="0.4"/>
<text font-size="6" fill="#3a3a3a" text-anchor="end" stroke="#3a3a3a" stroke-width="0.12" transform="translate(27.26 610.5) rotate(-90) scale(1 0.55)" textLength="12.6" lengthAdjust="spacingAndGlyphs">95/5</text>
<line x1="31.26" y1="607" x2="31.26" y2="608.3" stroke="#333" stroke-width="0.4"/>
<text font-size="6" fill="#3a3a3a" text-anchor="end" stroke="#3a3a3a" stroke-width="0.12" transform="translate(32.16 610.5) rotate(-90) scale(1 0.55)" textLength="15.75" lengthAdjust="spacingAndGlyphs">90/10</text>
<line x1="36.17" y1="607" x2="36.17" y2="608.3" stroke="#333" stroke-width="0.4"/>
<text font-size="6" fill="#3a3a3a" text-anchor="end" stroke="#3a3a3a" stroke-width="0.12" transform="translate(37.07 610.5) rotate(-90) scale(1 0.55)" textLength="15.75" lengthAdjust="spacingAndGlyphs">85/15</text>
<line x1="41.07" y1="607" x2="41.07" y2="608.3" stroke="#333" stroke-width="0.4"/>
<text font-size="6" fill="#3a3a3a" text-anchor="end" stroke="#3a3a3a" stroke-width="0.12" transform="translate(41.97 610.5) rotate(-90) scale(1 0.55)" textLength="15.75" lengthAdjust="spacingAndGlyphs">80/20</text>
<line x1="45.98" y1="607" x2="45.98" y2="608.3" stroke="#333" stroke-width="0.4"/>
<text font-size="6" fill="#3a3a3a" text-anchor="end" stroke="#3a3a3a" stroke-width="0.12" transform="translate(46.88 610.5) rotate(-90) scale(1 0.55)" textLength="15.75" lengthAdjust="spacingAndGlyphs">75/25</text>
<line x1="50.88" y1="607" x2="50.88" y2="608.3" stroke="#333" stroke-width="0.4"/>
<text font-size="6" fill="#3a3a3a" text-anchor="end" stroke="#3a3a3a" stroke-width="0.12" transform="translate(51.78 610.5) rotate(-90) scale(1 0.55)" textLength="15.75" lengthAdjust="spacingAndGlyphs">70/30</text>
<line x1="55.79" y1="607" x2="55.79" y2="608.3" stroke="#333" stroke-width="0.4"/>
<text font-size="6" fill="#3a3a3a" text-anchor="end" stroke="#3a3a3a" stroke-width="0.12" transform="translate(56.69 610.5) rotate(-90) scale(1 0.55)" textLength="15.75" lengthAdjust="spacingAndGlyphs">65/35</text>
<line x1="60.69" y1="607" x2="60.69" y2="608.3" stroke="#333" stroke-width="0.4"/>
<text font-size="6" fill="#3a3a3a" text-anchor="end" stroke="#3a3a3a" stroke-width="0.12" transform="translate(61.59 610.5) rotate(-90) scale(1 0.55)" textLength="15.75" lengthAdjust="spacingAndGlyphs">60/40</text>
<line x1="65.6" y1="607" x2="65.6" y2="608.3" stroke="#333" stroke-width="0.4"/>
<text font-size="6" fill="#3a3a3a" text-anchor="end" stroke="#3a3a3a" stroke-width="0.12" transform="translate(66.5 610.5) rotate(-90) scale(1 0.55)" textLength="15.75" lengthAdjust="spacingAndGlyphs">55/45</text>
<line x1="70.5" y1="607" x2="70.5" y2="608.3" stroke="#333" stroke-width="0.4"/>
<text font-size="6" fill="#3a3a3a" text-anchor="end" stroke="#3a3a3a" stroke-width="0.12" transform="translate(71.4 610.5) rotate(-90) scale(1 0.55)" textLength="15.75" lengthAdjust="spacingAndGlyphs">50/50</text>
<line x1="75.4" y1="607" x2="75.4" y2="608.3" stroke="#333" stroke-width="0.4"/>
<text font-size="6" fill="#3a3a3a" text-anchor="end" stroke="#3a3a3a" stroke-width="0.12" transform="translate(76.3 610.5) rotate(-90) scale(1 0.55)" textLength="15.75" lengthAdjust="spacingAndGlyphs">45/55</text>
<line x1="80.31" y1="607" x2="80.31" y2="608.3" stroke="#333" stroke-width="0.4"/>
<text font-size="6" fill="#3a3a3a" text-anchor="end" stroke="#3a3a3a" stroke-width="0.12" transform="translate(81.21 610.5) rotate(-90) scale(1 0.55)" textLength="15.75" lengthAdjust="spacingAndGlyphs">40/60</text>
<line x1="85.21" y1="607" x2="85.21" y2="608.3" stroke="#333" stroke-width="0.4"/>
<text font-size="6" fill="#3a3a3a" text-anchor="end" stroke="#3a3a3a" stroke-width="0.12" transform="translate(86.11 610.5) rotate(-90) scale(1 0.55)" textLength="15.75" lengthAdjust="spacingAndGlyphs">35/65</text>
<line x1="90.12" y1="607" x2="90.12" y2="608.3" stroke="#333" stroke-width="0.4"/>
<text font-size="6" fill="#3a3a3a" text-anchor="end" stroke="#3a3a3a" stroke-width="0.12" transform="translate(91.02 610.5) rotate(-90) scale(1 0.55)" textLength="15.75" lengthAdjust="spacingAndGlyphs">30/70</text>
<line x1="95.02" y1="607" x2="95.02" y2="608.3" stroke="#333" stroke-width="0.4"/>
<text font-size="6" fill="#3a3a3a" text-anchor="end" stroke="#3a3a3a" stroke-width="0.12" transform="translate(95.92 610.5) rotate(-90) scale(1 0.55)" textLength="15.75" lengthAdjust="spacingAndGlyphs">25/75</text>
<line x1="99.93" y1="607" x2="99.93" y2="608.3" stroke="#333" stroke-width="0.4"/>
<text font-size="6" fill="#3a3a3a" text-anchor="end" stroke="#3a3a3a" stroke-width="0.12" transform="translate(100.83 610.5) rotate(-90) scale(1 0.55)" textLength="15.75" lengthAdjust="spacingAndGlyphs">20/80</text>
<line x1="104.83" y1="607" x2="104.83" y2="608.3" stroke="#333" stroke-width="0.4"/>
<text font-size="6" fill="#3a3a3a" text-anchor="end" stroke="#3a3a3a" stroke-width="0.12" transform="translate(105.73 610.5) rotate(-90) scale(1 0.55)" textLength="15.75" lengthAdjust="spacingAndGlyphs">15/85</text>
<line x1="109.74" y1="607" x2="109.74" y2="608.3" stroke="#333" stroke-width="0.4"/>
<text font-size="6" fill="#3a3a3a" text-anchor="end" stroke="#3a3a3a" stroke-width="0.12" transform="translate(110.64 610.5) rotate(-90) scale(1 0.55)" textLength="15.75" lengthAdjust="spacingAndGlyphs">10/90</text>
<line x1="114.64" y1="607" x2="114.64" y2="608.3" stroke="#333" stroke-width="0.4"/>
<text font-size="6" fill="#3a3a3a" text-anchor="end" stroke="#3a3a3a" stroke-width="0.12" transform="translate(115.54 610.5) rotate(-90) scale(1 0.55)" textLength="12.6" lengthAdjust="spacingAndGlyphs">5/95</text>
<line x1="119.55" y1="607" x2="119.55" y2="608.3" stroke="#333" stroke-width="0.4"/>
<text font-size="6" fill="#3a3a3a" text-anchor="end" stroke="#3a3a3a" stroke-width="0.12" transform="translate(120.45 610.5) rotate(-90) scale(1 0.55)" textLength="15.75" lengthAdjust="spacingAndGlyphs">0/100</text>
<text font-size="6.4" fill="#333" text-anchor="middle" stroke="#333" stroke-width="0.18" transform="translate(69.7 638)" textLength="31.3" lengthAdjust="spacingAndGlyphs">WASB/NS ratio</text>
<text font-size="5" fill="#555" text-anchor="middle" stroke="#555" stroke-width="0.05" transform="translate(9.7 533.25) rotate(-90) scale(1 0.55)" textLength="32" lengthAdjust="spacingAndGlyphs">Genotypes</text>
<rect x="153.5" y="461.4" width="102.6" height="146.6" fill="#420265" shape-rendering="crispEdges"/>
<rect x="182.81" y="461.4" width="73.29" height="146.6" fill="#3c1e7c" shape-rendering="crispEdges"/>
<rect x="221.9" y="461.4" width="34.2" height="146.6" fill="#2a478b" shape-rendering="crispEdges"/>
<rect x="236.56" y="461.4" width="19.54" height="146.6" fill="#13798e" shape-rendering="crispEdges"/>
<rect x="153.5" y="468.73" width="102.6" height="139.27" fill="#0e888e" shape-rendering="crispEdges"/>
<rect x="168.16" y="468.73" width="87.94" height="139.27" fill="#205c8e" shape-rendering="crispEdges"/>
<rect x="177.93" y="468.73" width="78.17" height="139.27" fill="#43005e" shape-rendering="crispEdges"/>
<rect x="153.5" y="476.06" width="102.6" height="131.94" fill="#420265" shape-rendering="crispEdges"/>
<rect x="182.81" y="476.06" width="73.29" height="131.94" fill="#3c1e7c" shape-rendering="crispEdges"/>
<rect x="202.36" y="476.06" width="53.74" height="131.94" fill="#303d89" shape-rendering="crispEdges"/>
<rect x="221.9" y="476.06" width="34.2" height="131.94" fill="#16748e" shape-rendering="crispEdges"/>
<rect x="236.56" y="476.06" width="19.54" height="131.94" fill="#10828e" shape-rendering="crispEdges"/>
<rect x="153.5" y="483.39" width="102.6" height="124.61" fill="#303d89" shape-rendering="crispEdges"/>
<rect x="173.04" y="483.39" width="83.06" height="124.61" fill="#363085" shape-rendering="crispEdges"/>
<rect x="197.47" y="483.39" width="58.63" height="124.61" fill="#3f1475" shape-rendering="crispEdges"/>
<rect x="217.01" y="483.39" width="39.09" height="124.61" fill="#3c1e7c" shape-rendering="crispEdges"/>
<rect x="231.67" y="483.39" width="24.43" height="124.61" fill="#274d8c" shape-rendering="crispEdges"/>
<rect x="153.5" y="490.72" width="102.6" height="117.28" fill="#7fd628" shape-rendering="crispEdges"/>
<rect x="202.36" y="490.72" width="53.74" height="117.28" fill="#2bbf61" shape-rendering="crispEdges"/>
<rect x="212.13" y="490.72" width="43.97" height="117.28" fill="#7fd628" shape-rendering="crispEdges"/>
<rect x="231.67" y="490.72" width="24.43" height="117.28" fill="#2bbf61" shape-rendering="crispEdges"/>
<rect x="236.56" y="490.72" width="19.54" height="117.28" fill="#15b471" shape-rendering="crispEdges"/>
<rect x="153.5" y="498.05" width="102.6" height="109.95" fill="#18b66e" shape-rendering="crispEdges"/>
<rect x="187.7" y="498.05" width="68.4" height="109.95" fill="#11b174" shape-rendering="crispEdges"/>
<rect x="221.9" y="498.05" width="34.2" height="109.95" fill="#08a87d" shape-rendering="crispEdges"/>
<rect x="251.21" y="498.05" width="4.89" height="109.95" fill="#0a918c" shape-rendering="crispEdges"/>
<rect x="153.5" y="505.38" width="102.6" height="102.62" fill="#a7dd0c" shape-rendering="crispEdges"/>
<rect x="182.81" y="505.38" width="73.29" height="102.62" fill="#c7e100" shape-rendering="crispEdges"/>
<rect x="202.36" y="505.38" width="53.74" height="102.62" fill="#fde300" shape-rendering="crispEdges"/>
<rect x="226.79" y="505.38" width="29.31" height="102.62" fill="#c7e100" shape-rendering="crispEdges"/>
<rect x="153.5" y="512.71" width="102.6" height="95.29" fill="#18b66e" shape-rendering="crispEdges"/>
<rect x="202.36" y="512.71" width="53.74" height="95.29" fill="#5bce41" shape-rendering="crispEdges"/>
<rect x="212.13" y="512.71" width="43.97" height="95.29" fill="#97da17" shape-rendering="crispEdges"/>
<rect x="246.33" y="512.71" width="9.77" height="95.29" fill="#2bbf61" shape-rendering="crispEdges"/>
<rect x="153.5" y="520.04" width="102.6" height="87.96" fill="#0e888e" shape-rendering="crispEdges"/>
<rect x="187.7" y="520.04" width="68.4" height="87.96" fill="#059c86" shape-rendering="crispEdges"/>
<rect x="221.9" y="520.04" width="34.2" height="87.96" fill="#0faf76" shape-rendering="crispEdges"/>
<rect x="153.5" y="527.37" width="102.6" height="80.63" fill="#059c86" shape-rendering="crispEdges"/>
<rect x="173.04" y="527.37" width="83.06" height="80.63" fill="#11b174" shape-rendering="crispEdges"/>
<rect x="202.36" y="527.37" width="53.74" height="80.63" fill="#b6df01" shape-rendering="crispEdges"/>
<rect x="226.79" y="527.37" width="29.31" height="80.63" fill="#f1e400" shape-rendering="crispEdges"/>
<rect x="153.5" y="534.7" width="102.6" height="73.3" fill="#16748e" shape-rendering="crispEdges"/>
<rect x="197.47" y="534.7" width="58.63" height="73.3" fill="#0e888e" shape-rendering="crispEdges"/>
<rect x="153.5" y="542.03" width="102.6" height="65.97" fill="#303d89" shape-rendering="crispEdges"/>
<rect x="173.04" y="542.03" width="83.06" height="65.97" fill="#264f8c" shape-rendering="crispEdges"/>
<rect x="197.47" y="542.03" width="58.63" height="65.97" fill="#0a918c" shape-rendering="crispEdges"/>
<rect x="221.9" y="542.03" width="34.2" height="65.97" fill="#06a381" shape-rendering="crispEdges"/>
<rect x="246.33" y="542.03" width="9.77" height="65.97" fill="#49c94d" shape-rendering="crispEdges"/>
<rect x="153.5" y="549.36" width="102.6" height="58.64" fill="#3d1a7a" shape-rendering="crispEdges"/>
<rect x="173.04" y="549.36" width="83.06" height="58.64" fill="#333687" shape-rendering="crispEdges"/>
<rect x="192.59" y="549.36" width="63.51" height="58.64" fill="#274d8c" shape-rendering="crispEdges"/>
<rect x="212.13" y="549.36" width="43.97" height="58.64" fill="#13798e" shape-rendering="crispEdges"/>
<rect x="153.5" y="556.69" width="102.6" height="51.31" fill="#13798e" shape-rendering="crispEdges"/>
<rect x="192.59" y="556.69" width="63.51" height="51.31" fill="#1a688e" shape-rendering="crispEdges"/>
<rect x="202.36" y="556.69" width="53.74" height="51.31" fill="#0e888e" shape-rendering="crispEdges"/>
<rect x="153.5" y="564.02" width="102.6" height="43.98" fill="#13798e" shape-rendering="crispEdges"/>
<rect x="177.93" y="564.02" width="78.17" height="43.98" fill="#0a918c" shape-rendering="crispEdges"/>
<rect x="202.36" y="564.02" width="53.74" height="43.98" fill="#05a183" shape-rendering="crispEdges"/>
<rect x="221.9" y="564.02" width="34.2" height="43.98" fill="#18b66e" shape-rendering="crispEdges"/>
<rect x="236.56" y="564.02" width="19.54" height="43.98" fill="#68d137" shape-rendering="crispEdges"/>
<rect x="246.33" y="564.02" width="9.77" height="43.98" fill="#a7dd0c" shape-rendering="crispEdges"/>
<rect x="153.5" y="571.35" width="102.6" height="36.65" fill="#f1e400" shape-rendering="crispEdges"/>
<rect x="202.36" y="571.35" width="53.74" height="36.65" fill="#a7dd0c" shape-rendering="crispEdges"/>
<rect x="212.13" y="571.35" width="43.97" height="36.65" fill="#2bbf61" shape-rendering="crispEdges"/>
<rect x="217.01" y="571.35" width="39.09" height="36.65" fill="#0a918c" shape-rendering="crispEdges"/>
<rect x="231.67" y="571.35" width="24.43" height="36.65" fill="#1c658e" shape-rendering="crispEdges"/>
<rect x="241.44" y="571.35" width="14.66" height="36.65" fill="#3a2580" shape-rendering="crispEdges"/>
<rect x="153.5" y="578.68" width="102.6" height="29.32" fill="#059c86" shape-rendering="crispEdges"/>
<rect x="197.47" y="578.68" width="58.63" height="29.32" fill="#196b8e" shape-rendering="crispEdges"/>
<rect x="221.9" y="578.68" width="34.2" height="29.32" fill="#303d89" shape-rendering="crispEdges"/>
<rect x="241.44" y="578.68" width="14.66" height="29.32" fill="#274d8c" shape-rendering="crispEdges"/>
<rect x="153.5" y="586.01" width="102.6" height="21.99" fill="#dfe300" shape-rendering="crispEdges"/>
<rect x="182.81" y="586.01" width="73.29" height="21.99" fill="#a7dd0c" shape-rendering="crispEdges"/>
<rect x="202.36" y="586.01" width="53.74" height="21.99" fill="#11b174" shape-rendering="crispEdges"/>
<rect x="221.9" y="586.01" width="34.2" height="21.99" fill="#059c86" shape-rendering="crispEdges"/>
<rect x="231.67" y="586.01" width="24.43" height="21.99" fill="#13798e" shape-rendering="crispEdges"/>
<rect x="153.5" y="593.34" width="102.6" height="14.66" fill="#0faf76" shape-rendering="crispEdges"/>
<rect x="187.7" y="593.34" width="68.4" height="14.66" fill="#0d8a8d" shape-rendering="crispEdges"/>
<rect x="202.36" y="593.34" width="53.74" height="14.66" fill="#29498c" shape-rendering="crispEdges"/>
<rect x="217.01" y="593.34" width="39.09" height="14.66" fill="#410669" shape-rendering="crispEdges"/>
<rect x="153.5" y="600.67" width="102.6" height="7.33" fill="#0a918c" shape-rendering="crispEdges"/>
<rect x="197.47" y="600.67" width="58.63" height="7.33" fill="#13798e" shape-rendering="crispEdges"/>
<rect x="226.79" y="600.67" width="29.31" height="7.33" fill="#1a688e" shape-rendering="crispEdges"/>
<rect x="153.5" y="461.4" width="102.6" height="146.6" fill="none" stroke="#2a2a2a" stroke-width="0.8"/>
<line x1="152.2" y1="465.06" x2="153.5" y2="465.06" stroke="#333" stroke-width="0.5"/>
<text font-size="7.2" fill="#606060" text-anchor="middle" stroke="#606060" stroke-width="0.12" transform="translate(151.5 465.06) rotate(-90)" textLength="4.6" lengthAdjust="spacingAndGlyphs">G08</text>
<line x1="152.2" y1="472.39" x2="153.5" y2="472.39" stroke="#333" stroke-width="0.5"/>
<text font-size="7.2" fill="#606060" text-anchor="middle" stroke="#606060" stroke-width="0.12" transform="translate(151.5 472.39) rotate(-90)" textLength="4.6" lengthAdjust="spacingAndGlyphs">G09</text>
<line x1="152.2" y1="479.72" x2="153.5" y2="479.72" stroke="#333" stroke-width="0.5"/>
<text font-size="7.2" fill="#606060" text-anchor="middle" stroke="#606060" stroke-width="0.12" transform="translate(151.5 479.72) rotate(-90)" textLength="4.6" lengthAdjust="spacingAndGlyphs">G10</text>
<line x1="152.2" y1="487.06" x2="153.5" y2="487.06" stroke="#333" stroke-width="0.5"/>
<text font-size="7.2" fill="#606060" text-anchor="middle" stroke="#606060" stroke-width="0.12" transform="translate(151.5 487.06) rotate(-90)" textLength="4.6" lengthAdjust="spacingAndGlyphs">G11</text>
<line x1="152.2" y1="494.38" x2="153.5" y2="494.38" stroke="#333" stroke-width="0.5"/>
<text font-size="7.2" fill="#8484dc" text-anchor="middle" stroke="#8484dc" stroke-width="0.12" transform="translate(151.5 494.38) rotate(-90)" textLength="4.6" lengthAdjust="spacingAndGlyphs">G12</text>
<line x1="152.2" y1="501.71" x2="153.5" y2="501.71" stroke="#333" stroke-width="0.5"/>
<text font-size="7.2" fill="#8484dc" text-anchor="middle" stroke="#8484dc" stroke-width="0.12" transform="translate(151.5 501.71) rotate(-90)" textLength="4.6" lengthAdjust="spacingAndGlyphs">G13</text>
<line x1="152.2" y1="509.04" x2="153.5" y2="509.04" stroke="#333" stroke-width="0.5"/>
<text font-size="7.2" fill="#8484dc" text-anchor="middle" stroke="#8484dc" stroke-width="0.12" transform="translate(151.5 509.04) rotate(-90)" textLength="4.6" lengthAdjust="spacingAndGlyphs">G14</text>
<line x1="152.2" y1="516.38" x2="153.5" y2="516.38" stroke="#333" stroke-width="0.5"/>
<text font-size="7.2" fill="#8484dc" text-anchor="middle" stroke="#8484dc" stroke-width="0.12" transform="translate(151.5 516.38) rotate(-90)" textLength="4.6" lengthAdjust="spacingAndGlyphs">G15</text>
<line x1="152.2" y1="523.7" x2="153.5" y2="523.7" stroke="#333" stroke-width="0.5"/>
<text font-size="7.2" fill="#8484dc" text-anchor="middle" stroke="#8484dc" stroke-width="0.12" transform="translate(151.5 523.7) rotate(-90)" textLength="4.6" lengthAdjust="spacingAndGlyphs">G16</text>
<line x1="152.2" y1="531.03" x2="153.5" y2="531.03" stroke="#333" stroke-width="0.5"/>
<text font-size="7.2" fill="#ee8080" text-anchor="middle" stroke="#ee8080" stroke-width="0.12" transform="translate(151.5 531.03) rotate(-90)" textLength="4.6" lengthAdjust="spacingAndGlyphs">G17</text>
<line x1="152.2" y1="538.37" x2="153.5" y2="538.37" stroke="#333" stroke-width="0.5"/>
<text font-size="7.2" fill="#ee8080" text-anchor="middle" stroke="#ee8080" stroke-width="0.12" transform="translate(151.5 538.37) rotate(-90)" textLength="4.6" lengthAdjust="spacingAndGlyphs">G18</text>
<line x1="152.2" y1="545.69" x2="153.5" y2="545.69" stroke="#333" stroke-width="0.5"/>
<text font-size="7.2" fill="#ee8080" text-anchor="middle" stroke="#ee8080" stroke-width="0.12" transform="translate(151.5 545.69) rotate(-90)" textLength="4.6" lengthAdjust="spacingAndGlyphs">G19</text>
<line x1="152.2" y1="553.02" x2="153.5" y2="553.02" stroke="#333" stroke-width="0.5"/>
<text font-size="7.2" fill="#ee8080" text-anchor="middle" stroke="#ee8080" stroke-width="0.12" transform="translate(151.5 553.02) rotate(-90)" textLength="4.6" lengthAdjust="spacingAndGlyphs">G20</text>
<line x1="152.2" y1="560.36" x2="153.5" y2="560.36" stroke="#333" stroke-width="0.5"/>
<text font-size="7.2" fill="#ee8080" text-anchor="middle" stroke="#ee8080" stroke-width="0.12" transform="translate(151.5 560.36) rotate(-90)" textLength="4.6" lengthAdjust="spacingAndGlyphs">G01</text>
<line x1="152.2" y1="567.68" x2="153.5" y2="567.68" stroke="#333" stroke-width="0.5"/>
<text font-size="7.2" fill="#5ee09a" text-anchor="middle" stroke="#5ee09a" stroke-width="0.12" transform="translate(151.5 567.68) rotate(-90)" textLength="4.6" lengthAdjust="spacingAndGlyphs">G02</text>
<line x1="152.2" y1="575.01" x2="153.5" y2="575.01" stroke="#333" stroke-width="0.5"/>
<text font-size="7.2" fill="#5ee09a" text-anchor="middle" stroke="#5ee09a" stroke-width="0.12" transform="translate(151.5 575.01) rotate(-90)" textLength="4.6" lengthAdjust="spacingAndGlyphs">G03</text>
<line x1="152.2" y1="582.35" x2="153.5" y2="582.35" stroke="#333" stroke-width="0.5"/>
<text font-size="7.2" fill="#5ee09a" text-anchor="middle" stroke="#5ee09a" stroke-width="0.12" transform="translate(151.5 582.35) rotate(-90)" textLength="4.6" lengthAdjust="spacingAndGlyphs">G04</text>
<line x1="152.2" y1="589.67" x2="153.5" y2="589.67" stroke="#333" stroke-width="0.5"/>
<text font-size="7.2" fill="#5ee09a" text-anchor="middle" stroke="#5ee09a" stroke-width="0.12" transform="translate(151.5 589.67) rotate(-90)" textLength="4.6" lengthAdjust="spacingAndGlyphs">G05</text>
<line x1="152.2" y1="597" x2="153.5" y2="597" stroke="#333" stroke-width="0.5"/>
<text font-size="7.2" fill="#5ee09a" text-anchor="middle" stroke="#5ee09a" stroke-width="0.12" transform="translate(151.5 597) rotate(-90)" textLength="4.6" lengthAdjust="spacingAndGlyphs">G06</text>
<line x1="152.2" y1="604.34" x2="153.5" y2="604.34" stroke="#333" stroke-width="0.5"/>
<text font-size="7.2" fill="#5ee09a" text-anchor="middle" stroke="#5ee09a" stroke-width="0.12" transform="translate(151.5 604.34) rotate(-90)" textLength="4.6" lengthAdjust="spacingAndGlyphs">G07</text>
<linearGradient id="gd1" x1="0" y1="1" x2="0" y2="0">
<stop offset="0" stop-color="#440054"/>
<stop offset="0.05" stop-color="#410568"/>
<stop offset="0.1" stop-color="#3e1878"/>
<stop offset="0.15" stop-color="#372c83"/>
<stop offset="0.2" stop-color="#2f3e89"/>
<stop offset="0.25" stop-color="#264f8c"/>
<stop offset="0.3" stop-color="#205c8e"/>
<stop offset="0.35" stop-color="#1a688e"/>
<stop offset="0.4" stop-color="#16748e"/>
<stop offset="0.45" stop-color="#117f8e"/>
<stop offset="0.5" stop-color="#0d8a8d"/>
<stop offset="0.55" stop-color="#089589"/>
<stop offset="0.6" stop-color="#059f84"/>
<stop offset="0.65" stop-color="#08a87d"/>
<stop offset="0.7" stop-color="#11b174"/>
<stop offset="0.75" stop-color="#22bb67"/>
<stop offset="0.8" stop-color="#3fc653"/>
<stop offset="0.85" stop-color="#65d139"/>
<stop offset="0.9" stop-color="#8ed91d"/>
<stop offset="0.95" stop-color="#cae100"/>
<stop offset="1" stop-color="#fde300"/>
</linearGradient>
<rect x="259.7" y="494.3" width="4.4" height="81.3" fill="url(#gd1)"/>
<rect x="259.7" y="494.3" width="4.4" height="81.3" fill="none" stroke="#4a4030" stroke-width="0.4"/>
<line x1="259.7" y1="494.7" x2="264.1" y2="494.7" stroke="#5a4a30" stroke-width="0.8"/>
<line x1="263.1" y1="498.37" x2="264.1" y2="498.37" stroke="#fff" stroke-width="0.4"/>
<text font-size="3.6" fill="#888" text-anchor="start" stroke="#888" stroke-width="0.1" transform="translate(265.7 499.67) scale(0.6 1)">2</text>
<line x1="263.1" y1="517.47" x2="264.1" y2="517.47" stroke="#fff" stroke-width="0.4"/>
<text font-size="3.6" fill="#888" text-anchor="start" stroke="#888" stroke-width="0.1" transform="translate(265.7 518.77) scale(0.6 1)">1.5</text>
<line x1="263.1" y1="536.58" x2="264.1" y2="536.58" stroke="#fff" stroke-width="0.4"/>
<text font-size="3.6" fill="#888" text-anchor="start" stroke="#888" stroke-width="0.1" transform="translate(265.7 537.88) scale(0.6 1)">1</text>
<line x1="263.1" y1="555.68" x2="264.1" y2="555.68" stroke="#fff" stroke-width="0.4"/>
<text font-size="3.6" fill="#888" text-anchor="start" stroke="#888" stroke-width="0.1" transform="translate(265.7 556.98) scale(0.6 1)">0.5</text>
<line x1="155.94" y1="608" x2="155.94" y2="609.3" stroke="#333" stroke-width="0.4"/>
<text font-size="6" fill="#3a3a3a" text-anchor="end" stroke="#3a3a3a" stroke-width="0.12" transform="translate(156.84 611.5) rotate(-90) scale(1 0.55)" textLength="15.75" lengthAdjust="spacingAndGlyphs">100/0</text>
<line x1="160.83" y1="608" x2="160.83" y2="609.3" stroke="#333" stroke-width="0.4"/>
<text font-size="6" fill="#3a3a3a" text-anchor="end" stroke="#3a3a3a" stroke-width="0.12" transform="translate(161.73 611.5) rotate(-90) scale(1 0.55)" textLength="12.6" lengthAdjust="spacingAndGlyphs">95/5</text>
<line x1="165.71" y1="608" x2="165.71" y2="609.3" stroke="#333" stroke-width="0.4"/>
<text font-size="6" fill="#3a3a3a" text-anchor="end" stroke="#3a3a3a" stroke-width="0.12" transform="translate(166.61 611.5) rotate(-90) scale(1 0.55)" textLength="15.75" lengthAdjust="spacingAndGlyphs">90/10</text>
<line x1="170.6" y1="608" x2="170.6" y2="609.3" stroke="#333" stroke-width="0.4"/>
<text font-size="6" fill="#3a3a3a" text-anchor="end" stroke="#3a3a3a" stroke-width="0.12" transform="translate(171.5 611.5) rotate(-90) scale(1 0.55)" textLength="15.75" lengthAdjust="spacingAndGlyphs">85/15</text>
<line x1="175.49" y1="608" x2="175.49" y2="609.3" stroke="#333" stroke-width="0.4"/>
<text font-size="6" fill="#3a3a3a" text-anchor="end" stroke="#3a3a3a" stroke-width="0.12" transform="translate(176.39 611.5) rotate(-90) scale(1 0.55)" textLength="15.75" lengthAdjust="spacingAndGlyphs">80/20</text>
<line x1="180.37" y1="608" x2="180.37" y2="609.3" stroke="#333" stroke-width="0.4"/>
<text font-size="6" fill="#3a3a3a" text-anchor="end" stroke="#3a3a3a" stroke-width="0.12" transform="translate(181.27 611.5) rotate(-90) scale(1 0.55)" textLength="15.75" lengthAdjust="spacingAndGlyphs">75/25</text>
<line x1="185.26" y1="608" x2="185.26" y2="609.3" stroke="#333" stroke-width="0.4"/>
<text font-size="6" fill="#3a3a3a" text-anchor="end" stroke="#3a3a3a" stroke-width="0.12" transform="translate(186.16 611.5) rotate(-90) scale(1 0.55)" textLength="15.75" lengthAdjust="spacingAndGlyphs">70/30</text>
<line x1="190.14" y1="608" x2="190.14" y2="609.3" stroke="#333" stroke-width="0.4"/>
<text font-size="6" fill="#3a3a3a" text-anchor="end" stroke="#3a3a3a" stroke-width="0.12" transform="translate(191.04 611.5) rotate(-90) scale(1 0.55)" textLength="15.75" lengthAdjust="spacingAndGlyphs">65/35</text>
<line x1="195.03" y1="608" x2="195.03" y2="609.3" stroke="#333" stroke-width="0.4"/>
<text font-size="6" fill="#3a3a3a" text-anchor="end" stroke="#3a3a3a" stroke-width="0.12" transform="translate(195.93 611.5) rotate(-90) scale(1 0.55)" textLength="15.75" lengthAdjust="spacingAndGlyphs">60/40</text>
<line x1="199.91" y1="608" x2="199.91" y2="609.3" stroke="#333" stroke-width="0.4"/>
<text font-size="6" fill="#3a3a3a" text-anchor="end" stroke="#3a3a3a" stroke-width="0.12" transform="translate(200.81 611.5) rotate(-90) scale(1 0.55)" textLength="15.75" lengthAdjust="spacingAndGlyphs">55/45</text>
<line x1="204.8" y1="608" x2="204.8" y2="609.3" stroke="#333" stroke-width="0.4"/>
<text font-size="6" fill="#3a3a3a" text-anchor="end" stroke="#3a3a3a" stroke-width="0.12" transform="translate(205.7 611.5) rotate(-90) scale(1 0.55)" textLength="15.75" lengthAdjust="spacingAndGlyphs">50/50</text>
<line x1="209.69" y1="608" x2="209.69" y2="609.3" stroke="#333" stroke-width="0.4"/>
<text font-size="6" fill="#3a3a3a" text-anchor="end" stroke="#3a3a3a" stroke-width="0.12" transform="translate(210.59 611.5) rotate(-90) scale(1 0.55)" textLength="15.75" lengthAdjust="spacingAndGlyphs">45/55</text>
<line x1="214.57" y1="608" x2="214.57" y2="609.3" stroke="#333" stroke-width="0.4"/>
<text font-size="6" fill="#3a3a3a" text-anchor="end" stroke="#3a3a3a" stroke-width="0.12" transform="translate(215.47 611.5) rotate(-90) scale(1 0.55)" textLength="15.75" lengthAdjust="spacingAndGlyphs">40/60</text>
<line x1="219.46" y1="608" x2="219.46" y2="609.3" stroke="#333" stroke-width="0.4"/>
<text font-size="6" fill="#3a3a3a" text-anchor="end" stroke="#3a3a3a" stroke-width="0.12" transform="translate(220.36 611.5) rotate(-90) scale(1 0.55)" textLength="15.75" lengthAdjust="spacingAndGlyphs">35/65</text>
<line x1="224.34" y1="608" x2="224.34" y2="609.3" stroke="#333" stroke-width="0.4"/>
<text font-size="6" fill="#3a3a3a" text-anchor="end" stroke="#3a3a3a" stroke-width="0.12" transform="translate(225.24 611.5) rotate(-90) scale(1 0.55)" textLength="15.75" lengthAdjust="spacingAndGlyphs">30/70</text>
<line x1="229.23" y1="608" x2="229.23" y2="609.3" stroke="#333" stroke-width="0.4"/>
<text font-size="6" fill="#3a3a3a" text-anchor="end" stroke="#3a3a3a" stroke-width="0.12" transform="translate(230.13 611.5) rotate(-90) scale(1 0.55)" textLength="15.75" lengthAdjust="spacingAndGlyphs">25/75</text>
<line x1="234.11" y1="608" x2="234.11" y2="609.3" stroke="#333" stroke-width="0.4"/>
<text font-size="6" fill="#3a3a3a" text-anchor="end" stroke="#3a3a3a" stroke-width="0.12" transform="translate(235.01 611.5) rotate(-90) scale(1 0.55)" textLength="15.75" lengthAdjust="spacingAndGlyphs">20/80</text>
<line x1="239" y1="608" x2="239" y2="609.3" stroke="#333" stroke-width="0.4"/>
<text font-size="6" fill="#3a3a3a" text-anchor="end" stroke="#3a3a3a" stroke-width="0.12" transform="translate(239.9 611.5) rotate(-90) scale(1 0.55)" textLength="15.75" lengthAdjust="spacingAndGlyphs">15/85</text>
<line x1="243.89" y1="608" x2="243.89" y2="609.3" stroke="#333" stroke-width="0.4"/>
<text font-size="6" fill="#3a3a3a" text-anchor="end" stroke="#3a3a3a" stroke-width="0.12" transform="translate(244.79 611.5) rotate(-90) scale(1 0.55)" textLength="15.75" lengthAdjust="spacingAndGlyphs">10/90</text>
<line x1="248.77" y1="608" x2="248.77" y2="609.3" stroke="#333" stroke-width="0.4"/>
<text font-size="6" fill="#3a3a3a" text-anchor="end" stroke="#3a3a3a" stroke-width="0.12" transform="translate(249.67 611.5) rotate(-90) scale(1 0.55)" textLength="12.6" lengthAdjust="spacingAndGlyphs">5/95</text>
<line x1="253.66" y1="608" x2="253.66" y2="609.3" stroke="#333" stroke-width="0.4"/>
<text font-size="6" fill="#3a3a3a" text-anchor="end" stroke="#3a3a3a" stroke-width="0.12" transform="translate(254.56 611.5) rotate(-90) scale(1 0.55)" textLength="15.75" lengthAdjust="spacingAndGlyphs">0/100</text>
<text font-size="6.4" fill="#333" text-anchor="middle" stroke="#333" stroke-width="0.18" transform="translate(201.7 637.5)" textLength="33.5" lengthAdjust="spacingAndGlyphs">WASB/NKS ratio</text>
<text font-size="5" fill="#555" text-anchor="middle" stroke="#555" stroke-width="0.05" transform="translate(144.4 534.7) rotate(-90) scale(1 0.55)" textLength="32" lengthAdjust="spacingAndGlyphs">Genotypes</text>
<rect x="285.6" y="461.4" width="107.6" height="144.1" fill="#fde300" shape-rendering="crispEdges"/>
<rect x="362.46" y="461.4" width="30.74" height="144.1" fill="#dfe300" shape-rendering="crispEdges"/>
<rect x="285.6" y="468.6" width="107.6" height="136.9" fill="#d0e200" shape-rendering="crispEdges"/>
<rect x="331.71" y="468.6" width="61.49" height="136.9" fill="#a7dd0c" shape-rendering="crispEdges"/>
<rect x="285.6" y="475.81" width="107.6" height="129.69" fill="#55cd44" shape-rendering="crispEdges"/>
<rect x="306.1" y="475.81" width="87.1" height="129.69" fill="#22bb67" shape-rendering="crispEdges"/>
<rect x="367.58" y="475.81" width="25.62" height="129.69" fill="#11b174" shape-rendering="crispEdges"/>
<rect x="382.95" y="475.81" width="10.25" height="129.69" fill="#089589" shape-rendering="crispEdges"/>
<rect x="285.6" y="483.01" width="107.6" height="122.49" fill="#22bb67" shape-rendering="crispEdges"/>
<rect x="306.1" y="483.01" width="87.1" height="122.49" fill="#68d137" shape-rendering="crispEdges"/>
<rect x="316.34" y="483.01" width="76.86" height="122.49" fill="#76d52e" shape-rendering="crispEdges"/>
<rect x="331.71" y="483.01" width="61.49" height="122.49" fill="#b6df01" shape-rendering="crispEdges"/>
<rect x="367.58" y="483.01" width="25.62" height="122.49" fill="#fde300" shape-rendering="crispEdges"/>
<rect x="285.6" y="490.22" width="107.6" height="115.28" fill="#9ddb12" shape-rendering="crispEdges"/>
<rect x="306.1" y="490.22" width="87.1" height="115.28" fill="#8ed91d" shape-rendering="crispEdges"/>
<rect x="316.34" y="490.22" width="76.86" height="115.28" fill="#68d137" shape-rendering="crispEdges"/>
<rect x="336.84" y="490.22" width="56.36" height="115.28" fill="#22bb67" shape-rendering="crispEdges"/>
<rect x="372.7" y="490.22" width="20.5" height="115.28" fill="#11b174" shape-rendering="crispEdges"/>
<rect x="285.6" y="497.42" width="107.6" height="108.08" fill="#2bbf61" shape-rendering="crispEdges"/>
<rect x="336.84" y="497.42" width="56.36" height="108.08" fill="#68d137" shape-rendering="crispEdges"/>
<rect x="388.08" y="497.42" width="5.12" height="108.08" fill="#22bb67" shape-rendering="crispEdges"/>
<rect x="285.6" y="504.63" width="107.6" height="100.87" fill="#13798e" shape-rendering="crispEdges"/>
<rect x="316.34" y="504.63" width="76.86" height="100.87" fill="#0a918c" shape-rendering="crispEdges"/>
<rect x="347.09" y="504.63" width="46.11" height="100.87" fill="#059c86" shape-rendering="crispEdges"/>
<rect x="285.6" y="511.83" width="107.6" height="93.67" fill="#08a87d" shape-rendering="crispEdges"/>
<rect x="362.46" y="511.83" width="30.74" height="93.67" fill="#05a183" shape-rendering="crispEdges"/>
<rect x="377.83" y="511.83" width="15.37" height="93.67" fill="#0a918c" shape-rendering="crispEdges"/>
<rect x="285.6" y="519.04" width="107.6" height="86.46" fill="#059c86" shape-rendering="crispEdges"/>
<rect x="316.34" y="519.04" width="76.86" height="86.46" fill="#10828e" shape-rendering="crispEdges"/>
<rect x="362.46" y="519.04" width="30.74" height="86.46" fill="#1a688e" shape-rendering="crispEdges"/>
<rect x="382.95" y="519.04" width="10.25" height="86.46" fill="#303d89" shape-rendering="crispEdges"/>
<rect x="285.6" y="526.25" width="107.6" height="79.25" fill="#06a381" shape-rendering="crispEdges"/>
<rect x="336.84" y="526.25" width="56.36" height="79.25" fill="#059c86" shape-rendering="crispEdges"/>
<rect x="362.46" y="526.25" width="30.74" height="79.25" fill="#0a918c" shape-rendering="crispEdges"/>
<rect x="285.6" y="533.45" width="107.6" height="72.05" fill="#0a918c" shape-rendering="crispEdges"/>
<rect x="336.84" y="533.45" width="56.36" height="72.05" fill="#059c86" shape-rendering="crispEdges"/>
<rect x="367.58" y="533.45" width="25.62" height="72.05" fill="#0a918c" shape-rendering="crispEdges"/>
<rect x="285.6" y="540.65" width="107.6" height="64.85" fill="#420265" shape-rendering="crispEdges"/>
<rect x="336.84" y="540.65" width="56.36" height="64.85" fill="#16748e" shape-rendering="crispEdges"/>
<rect x="362.46" y="540.65" width="30.74" height="64.85" fill="#059c86" shape-rendering="crispEdges"/>
<rect x="285.6" y="547.86" width="107.6" height="57.64" fill="#333687" shape-rendering="crispEdges"/>
<rect x="321.47" y="547.86" width="71.73" height="57.64" fill="#0e888e" shape-rendering="crispEdges"/>
<rect x="341.96" y="547.86" width="51.24" height="57.64" fill="#15b471" shape-rendering="crispEdges"/>
<rect x="372.7" y="547.86" width="20.5" height="57.64" fill="#36c35a" shape-rendering="crispEdges"/>
<rect x="388.08" y="547.86" width="5.12" height="57.64" fill="#8ed91d" shape-rendering="crispEdges"/>
<rect x="285.6" y="555.06" width="107.6" height="50.44" fill="#420265" shape-rendering="crispEdges"/>
<rect x="347.09" y="555.06" width="46.11" height="50.44" fill="#196b8e" shape-rendering="crispEdges"/>
<rect x="362.46" y="555.06" width="30.74" height="50.44" fill="#06a381" shape-rendering="crispEdges"/>
<rect x="285.6" y="562.27" width="107.6" height="43.23" fill="#2a478b" shape-rendering="crispEdges"/>
<rect x="352.21" y="562.27" width="40.99" height="43.23" fill="#186e8e" shape-rendering="crispEdges"/>
<rect x="285.6" y="569.48" width="107.6" height="36.02" fill="#08a87d" shape-rendering="crispEdges"/>
<rect x="311.22" y="569.48" width="81.98" height="36.02" fill="#0a918c" shape-rendering="crispEdges"/>
<rect x="347.09" y="569.48" width="46.11" height="36.02" fill="#1c658e" shape-rendering="crispEdges"/>
<rect x="362.46" y="569.48" width="30.74" height="36.02" fill="#372c83" shape-rendering="crispEdges"/>
<rect x="285.6" y="576.68" width="107.6" height="28.82" fill="#196b8e" shape-rendering="crispEdges"/>
<rect x="316.34" y="576.68" width="76.86" height="28.82" fill="#274d8c" shape-rendering="crispEdges"/>
<rect x="352.21" y="576.68" width="40.99" height="28.82" fill="#303d89" shape-rendering="crispEdges"/>
<rect x="285.6" y="583.88" width="107.6" height="21.62" fill="#059c86" shape-rendering="crispEdges"/>
<rect x="300.97" y="583.88" width="92.23" height="21.62" fill="#13798e" shape-rendering="crispEdges"/>
<rect x="321.47" y="583.88" width="71.73" height="21.62" fill="#3c1e7c" shape-rendering="crispEdges"/>
<rect x="341.96" y="583.88" width="51.24" height="21.62" fill="#420265" shape-rendering="crispEdges"/>
<rect x="285.6" y="591.09" width="107.6" height="14.41" fill="#264f8c" shape-rendering="crispEdges"/>
<rect x="316.34" y="591.09" width="76.86" height="14.41" fill="#2e3f8a" shape-rendering="crispEdges"/>
<rect x="336.84" y="591.09" width="56.36" height="14.41" fill="#3b217e" shape-rendering="crispEdges"/>
<rect x="352.21" y="591.09" width="40.99" height="14.41" fill="#3e1878" shape-rendering="crispEdges"/>
<rect x="285.6" y="598.29" width="107.6" height="7.21" fill="#333687" shape-rendering="crispEdges"/>
<rect x="316.34" y="598.29" width="76.86" height="7.21" fill="#3d1a7a" shape-rendering="crispEdges"/>
<rect x="321.47" y="598.29" width="71.73" height="7.21" fill="#303d89" shape-rendering="crispEdges"/>
<rect x="352.21" y="598.29" width="40.99" height="7.21" fill="#29498c" shape-rendering="crispEdges"/>
<rect x="388.08" y="598.29" width="5.12" height="7.21" fill="#1a688e" shape-rendering="crispEdges"/>
<rect x="285.6" y="461.4" width="107.6" height="144.1" fill="none" stroke="#2a2a2a" stroke-width="0.8"/>
<line x1="284.3" y1="465" x2="285.6" y2="465" stroke="#333" stroke-width="0.5"/>
<text font-size="7.2" fill="#606060" text-anchor="middle" stroke="#606060" stroke-width="0.12" transform="translate(283.6 465) rotate(-90)" textLength="4.6" lengthAdjust="spacingAndGlyphs">G13</text>
<line x1="284.3" y1="472.21" x2="285.6" y2="472.21" stroke="#333" stroke-width="0.5"/>
<text font-size="7.2" fill="#606060" text-anchor="middle" stroke="#606060" stroke-width="0.12" transform="translate(283.6 472.21) rotate(-90)" textLength="4.6" lengthAdjust="spacingAndGlyphs">G14</text>
<line x1="284.3" y1="479.41" x2="285.6" y2="479.41" stroke="#333" stroke-width="0.5"/>
<text font-size="7.2" fill="#606060" text-anchor="middle" stroke="#606060" stroke-width="0.12" transform="translate(283.6 479.41) rotate(-90)" textLength="4.6" lengthAdjust="spacingAndGlyphs">G15</text>
<line x1="284.3" y1="486.62" x2="285.6" y2="486.62" stroke="#333" stroke-width="0.5"/>
<text font-size="7.2" fill="#606060" text-anchor="middle" stroke="#606060" stroke-width="0.12" transform="translate(283.6 486.62) rotate(-90)" textLength="4.6" lengthAdjust="spacingAndGlyphs">G16</text>
<line x1="284.3" y1="493.82" x2="285.6" y2="493.82" stroke="#333" stroke-width="0.5"/>
<text font-size="7.2" fill="#606060" text-anchor="middle" stroke="#606060" stroke-width="0.12" transform="translate(283.6 493.82) rotate(-90)" textLength="4.6" lengthAdjust="spacingAndGlyphs">G17</text>
<line x1="284.3" y1="501.03" x2="285.6" y2="501.03" stroke="#333" stroke-width="0.5"/>
<text font-size="7.2" fill="#606060" text-anchor="middle" stroke="#606060" stroke-width="0.12" transform="translate(283.6 501.03) rotate(-90)" textLength="4.6" lengthAdjust="spacingAndGlyphs">G18</text>
<line x1="284.3" y1="508.23" x2="285.6" y2="508.23" stroke="#333" stroke-width="0.5"/>
<text font-size="7.2" fill="#8484dc" text-anchor="middle" stroke="#8484dc" stroke-width="0.12" transform="translate(283.6 508.23) rotate(-90)" textLength="4.6" lengthAdjust="spacingAndGlyphs">G19</text>
<line x1="284.3" y1="515.44" x2="285.6" y2="515.44" stroke="#333" stroke-width="0.5"/>
<text font-size="7.2" fill="#8484dc" text-anchor="middle" stroke="#8484dc" stroke-width="0.12" transform="translate(283.6 515.44) rotate(-90)" textLength="4.6" lengthAdjust="spacingAndGlyphs">G20</text>
<line x1="284.3" y1="522.64" x2="285.6" y2="522.64" stroke="#333" stroke-width="0.5"/>
<text font-size="7.2" fill="#8484dc" text-anchor="middle" stroke="#8484dc" stroke-width="0.12" transform="translate(283.6 522.64) rotate(-90)" textLength="4.6" lengthAdjust="spacingAndGlyphs">G01</text>
<line x1="284.3" y1="529.85" x2="285.6" y2="529.85" stroke="#333" stroke-width="0.5"/>
<text font-size="7.2" fill="#8484dc" text-anchor="middle" stroke="#8484dc" stroke-width="0.12" transform="translate(283.6 529.85) rotate(-90)" textLength="4.6" lengthAdjust="spacingAndGlyphs">G02</text>
<line x1="284.3" y1="537.05" x2="285.6" y2="537.05" stroke="#333" stroke-width="0.5"/>
<text font-size="7.2" fill="#8484dc" text-anchor="middle" stroke="#8484dc" stroke-width="0.12" transform="translate(283.6 537.05) rotate(-90)" textLength="4.6" lengthAdjust="spacingAndGlyphs">G03</text>
<line x1="284.3" y1="544.26" x2="285.6" y2="544.26" stroke="#333" stroke-width="0.5"/>
<text font-size="7.2" fill="#ee8080" text-anchor="middle" stroke="#ee8080" stroke-width="0.12" transform="translate(283.6 544.26) rotate(-90)" textLength="4.6" lengthAdjust="spacingAndGlyphs">G04</text>
<line x1="284.3" y1="551.46" x2="285.6" y2="551.46" stroke="#333" stroke-width="0.5"/>
<text font-size="7.2" fill="#ee8080" text-anchor="middle" stroke="#ee8080" stroke-width="0.12" transform="translate(283.6 551.46) rotate(-90)" textLength="4.6" lengthAdjust="spacingAndGlyphs">G05</text>
<line x1="284.3" y1="558.67" x2="285.6" y2="558.67" stroke="#333" stroke-width="0.5"/>
<text font-size="7.2" fill="#ee8080" text-anchor="middle" stroke="#ee8080" stroke-width="0.12" transform="translate(283.6 558.67) rotate(-90)" textLength="4.6" lengthAdjust="spacingAndGlyphs">G06</text>
<line x1="284.3" y1="565.87" x2="285.6" y2="565.87" stroke="#333" stroke-width="0.5"/>
<text font-size="7.2" fill="#5ee09a" text-anchor="middle" stroke="#5ee09a" stroke-width="0.12" transform="translate(283.6 565.87) rotate(-90)" textLength="4.6" lengthAdjust="spacingAndGlyphs">G07</text>
<line x1="284.3" y1="573.08" x2="285.6" y2="573.08" stroke="#333" stroke-width="0.5"/>
<text font-size="7.2" fill="#5ee09a" text-anchor="middle" stroke="#5ee09a" stroke-width="0.12" transform="translate(283.6 573.08) rotate(-90)" textLength="4.6" lengthAdjust="spacingAndGlyphs">G08</text>
<line x1="284.3" y1="580.28" x2="285.6" y2="580.28" stroke="#333" stroke-width="0.5"/>
<text font-size="7.2" fill="#5ee09a" text-anchor="middle" stroke="#5ee09a" stroke-width="0.12" transform="translate(283.6 580.28) rotate(-90)" textLength="4.6" lengthAdjust="spacingAndGlyphs">G09</text>
<line x1="284.3" y1="587.49" x2="285.6" y2="587.49" stroke="#333" stroke-width="0.5"/>
<text font-size="7.2" fill="#5ee09a" text-anchor="middle" stroke="#5ee09a" stroke-width="0.12" transform="translate(283.6 587.49) rotate(-90)" textLength="4.6" lengthAdjust="spacingAndGlyphs">G10</text>
<line x1="284.3" y1="594.69" x2="285.6" y2="594.69" stroke="#333" stroke-width="0.5"/>
<text font-size="7.2" fill="#5ee09a" text-anchor="middle" stroke="#5ee09a" stroke-width="0.12" transform="translate(283.6 594.69) rotate(-90)" textLength="4.6" lengthAdjust="spacingAndGlyphs">G11</text>
<line x1="284.3" y1="601.9" x2="285.6" y2="601.9" stroke="#333" stroke-width="0.5"/>
<text font-size="7.2" fill="#5ee09a" text-anchor="middle" stroke="#5ee09a" stroke-width="0.12" transform="translate(283.6 601.9) rotate(-90)" textLength="4.6" lengthAdjust="spacingAndGlyphs">G12</text>
<linearGradient id="gd2" x1="0" y1="1" x2="0" y2="0">
<stop offset="0" stop-color="#440054"/>
<stop offset="0.05" stop-color="#410568"/>
<stop offset="0.1" stop-color="#3e1878"/>
<stop offset="0.15" stop-color="#372c83"/>
<stop offset="0.2" stop-color="#2f3e89"/>
<stop offset="0.25" stop-color="#264f8c"/>
<stop offset="0.3" stop-color="#205c8e"/>
<stop offset="0.35" stop-color="#1a688e"/>
<stop offset="0.4" stop-color="#16748e"/>
<stop offset="0.45" stop-color="#117f8e"/>
<stop offset="0.5" stop-color="#0d8a8d"/>
<stop offset="0.55" stop-color="#089589"/>
<stop offset="0.6" stop-color="#059f84"/>
<stop offset="0.65" stop-color="#08a87d"/>
<stop offset="0.7" stop-color="#11b174"/>
<stop offset="0.75" stop-color="#22bb67"/>
<stop offset="0.8" stop-color="#3fc653"/>
<stop offset="0.85" stop-color="#65d139"/>
<stop offset="0.9" stop-color="#8ed91d"/>
<stop offset="0.95" stop-color="#cae100"/>
<stop offset="1" stop-color="#fde300"/>
</linearGradient>
<rect x="398" y="493.4" width="4.5" height="79.8" fill="url(#gd2)"/>
<rect x="398" y="493.4" width="4.5" height="79.8" fill="none" stroke="#4a4030" stroke-width="0.4"/>
<line x1="398" y1="493.8" x2="402.5" y2="493.8" stroke="#5a4a30" stroke-width="0.8"/>
<line x1="401.5" y1="497.39" x2="402.5" y2="497.39" stroke="#fff" stroke-width="0.4"/>
<text font-size="3.6" fill="#888" text-anchor="start" stroke="#888" stroke-width="0.1" transform="translate(404.1 498.69) scale(0.6 1)">2</text>
<line x1="401.5" y1="516.14" x2="402.5" y2="516.14" stroke="#fff" stroke-width="0.4"/>
<text font-size="3.6" fill="#888" text-anchor="start" stroke="#888" stroke-width="0.1" transform="translate(404.1 517.44) scale(0.6 1)">1.5</text>
<line x1="401.5" y1="534.9" x2="402.5" y2="534.9" stroke="#fff" stroke-width="0.4"/>
<text font-size="3.6" fill="#888" text-anchor="start" stroke="#888" stroke-width="0.1" transform="translate(404.1 536.2) scale(0.6 1)">1</text>
<line x1="401.5" y1="553.65" x2="402.5" y2="553.65" stroke="#fff" stroke-width="0.4"/>
<text font-size="3.6" fill="#888" text-anchor="start" stroke="#888" stroke-width="0.1" transform="translate(404.1 554.95) scale(0.6 1)">0.5</text>
<line x1="288.16" y1="605.5" x2="288.16" y2="606.8" stroke="#333" stroke-width="0.4"/>
<text font-size="6" fill="#3a3a3a" text-anchor="end" stroke="#3a3a3a" stroke-width="0.12" transform="translate(289.06 609) rotate(-90) scale(1 0.55)" textLength="15.75" lengthAdjust="spacingAndGlyphs">100/0</text>
<line x1="293.29" y1="605.5" x2="293.29" y2="606.8" stroke="#333" stroke-width="0.4"/>
<text font-size="6" fill="#3a3a3a" text-anchor="end" stroke="#3a3a3a" stroke-width="0.12" transform="translate(294.19 609) rotate(-90) scale(1 0.55)" textLength="12.6" lengthAdjust="spacingAndGlyphs">95/5</text>
<line x1="298.41" y1="605.5" x2="298.41" y2="606.8" stroke="#333" stroke-width="0.4"/>
<text font-size="6" fill="#3a3a3a" text-anchor="end" stroke="#3a3a3a" stroke-width="0.12" transform="translate(299.31 609) rotate(-90) scale(1 0.55)" textLength="15.75" lengthAdjust="spacingAndGlyphs">90/10</text>
<line x1="303.53" y1="605.5" x2="303.53" y2="606.8" stroke="#333" stroke-width="0.4"/>
<text font-size="6" fill="#3a3a3a" text-anchor="end" stroke="#3a3a3a" stroke-width="0.12" transform="translate(304.43 609) rotate(-90) scale(1 0.55)" textLength="15.75" lengthAdjust="spacingAndGlyphs">85/15</text>
<line x1="308.66" y1="605.5" x2="308.66" y2="606.8" stroke="#333" stroke-width="0.4"/>
<text font-size="6" fill="#3a3a3a" text-anchor="end" stroke="#3a3a3a" stroke-width="0.12" transform="translate(309.56 609) rotate(-90) scale(1 0.55)" textLength="15.75" lengthAdjust="spacingAndGlyphs">80/20</text>
<line x1="313.78" y1="605.5" x2="313.78" y2="606.8" stroke="#333" stroke-width="0.4"/>
<text font-size="6" fill="#3a3a3a" text-anchor="end" stroke="#3a3a3a" stroke-width="0.12" transform="translate(314.68 609) rotate(-90) scale(1 0.55)" textLength="15.75" lengthAdjust="spacingAndGlyphs">75/25</text>
<line x1="318.9" y1="605.5" x2="318.9" y2="606.8" stroke="#333" stroke-width="0.4"/>
<text font-size="6" fill="#3a3a3a" text-anchor="end" stroke="#3a3a3a" stroke-width="0.12" transform="translate(319.8 609) rotate(-90) scale(1 0.55)" textLength="15.75" lengthAdjust="spacingAndGlyphs">70/30</text>
<line x1="324.03" y1="605.5" x2="324.03" y2="606.8" stroke="#333" stroke-width="0.4"/>
<text font-size="6" fill="#3a3a3a" text-anchor="end" stroke="#3a3a3a" stroke-width="0.12" transform="translate(324.93 609) rotate(-90) scale(1 0.55)" textLength="15.75" lengthAdjust="spacingAndGlyphs">65/35</text>
<line x1="329.15" y1="605.5" x2="329.15" y2="606.8" stroke="#333" stroke-width="0.4"/>
<text font-size="6" fill="#3a3a3a" text-anchor="end" stroke="#3a3a3a" stroke-width="0.12" transform="translate(330.05 609) rotate(-90) scale(1 0.55)" textLength="15.75" lengthAdjust="spacingAndGlyphs">60/40</text>
<line x1="334.28" y1="605.5" x2="334.28" y2="606.8" stroke="#333" stroke-width="0.4"/>
<text font-size="6" fill="#3a3a3a" text-anchor="end" stroke="#3a3a3a" stroke-width="0.12" transform="translate(335.18 609) rotate(-90) scale(1 0.55)" textLength="15.75" lengthAdjust="spacingAndGlyphs">55/45</text>
<line x1="339.4" y1="605.5" x2="339.4" y2="606.8" stroke="#333" stroke-width="0.4"/>
<text font-size="6" fill="#3a3a3a" text-anchor="end" stroke="#3a3a3a" stroke-width="0.12" transform="translate(340.3 609) rotate(-90) scale(1 0.55)" textLength="15.75" lengthAdjust="spacingAndGlyphs">50/50</text>
<line x1="344.52" y1="605.5" x2="344.52" y2="606.8" stroke="#333" stroke-width="0.4"/>
<text font-size="6" fill="#3a3a3a" text-anchor="end" stroke="#3a3a3a" stroke-width="0.12" transform="translate(345.42 609) rotate(-90) scale(1 0.55)" textLength="15.75" lengthAdjust="spacingAndGlyphs">45/55</text>
<line x1="349.65" y1="605.5" x2="349.65" y2="606.8" stroke="#333" stroke-width="0.4"/>
<text font-size="6" fill="#3a3a3a" text-anchor="end" stroke="#3a3a3a" stroke-width="0.12" transform="translate(350.55 609) rotate(-90) scale(1 0.55)" textLength="15.75" lengthAdjust="spacingAndGlyphs">40/60</text>
<line x1="354.77" y1="605.5" x2="354.77" y2="606.8" stroke="#333" stroke-width="0.4"/>
<text font-size="6" fill="#3a3a3a" text-anchor="end" stroke="#3a3a3a" stroke-width="0.12" transform="translate(355.67 609) rotate(-90) scale(1 0.55)" textLength="15.75" lengthAdjust="spacingAndGlyphs">35/65</text>
<line x1="359.9" y1="605.5" x2="359.9" y2="606.8" stroke="#333" stroke-width="0.4"/>
<text font-size="6" fill="#3a3a3a" text-anchor="end" stroke="#3a3a3a" stroke-width="0.12" transform="translate(360.8 609) rotate(-90) scale(1 0.55)" textLength="15.75" lengthAdjust="spacingAndGlyphs">30/70</text>
<line x1="365.02" y1="605.5" x2="365.02" y2="606.8" stroke="#333" stroke-width="0.4"/>
<text font-size="6" fill="#3a3a3a" text-anchor="end" stroke="#3a3a3a" stroke-width="0.12" transform="translate(365.92 609) rotate(-90) scale(1 0.55)" textLength="15.75" lengthAdjust="spacingAndGlyphs">25/75</text>
<line x1="370.14" y1="605.5" x2="370.14" y2="606.8" stroke="#333" stroke-width="0.4"/>
<text font-size="6" fill="#3a3a3a" text-anchor="end" stroke="#3a3a3a" stroke-width="0.12" transform="translate(371.04 609) rotate(-90) scale(1 0.55)" textLength="15.75" lengthAdjust="spacingAndGlyphs">20/80</text>
<line x1="375.27" y1="605.5" x2="375.27" y2="606.8" stroke="#333" stroke-width="0.4"/>
<text font-size="6" fill="#3a3a3a" text-anchor="end" stroke="#3a3a3a" stroke-width="0.12" transform="translate(376.17 609) rotate(-90) scale(1 0.55)" textLength="15.75" lengthAdjust="spacingAndGlyphs">15/85</text>
<line x1="380.39" y1="605.5" x2="380.39" y2="606.8" stroke="#333" stroke-width="0.4"/>
<text font-size="6" fill="#3a3a3a" text-anchor="end" stroke="#3a3a3a" stroke-width="0.12" transform="translate(381.29 609) rotate(-90) scale(1 0.55)" textLength="15.75" lengthAdjust="spacingAndGlyphs">10/90</text>
<line x1="385.51" y1="605.5" x2="385.51" y2="606.8" stroke="#333" stroke-width="0.4"/>
<text font-size="6" fill="#3a3a3a" text-anchor="end" stroke="#3a3a3a" stroke-width="0.12" transform="translate(386.41 609) rotate(-90) scale(1 0.55)" textLength="12.6" lengthAdjust="spacingAndGlyphs">5/95</text>
<line x1="390.64" y1="605.5" x2="390.64" y2="606.8" stroke="#333" stroke-width="0.4"/>
<text font-size="6" fill="#3a3a3a" text-anchor="end" stroke="#3a3a3a" stroke-width="0.12" transform="translate(391.54 609) rotate(-90) scale(1 0.55)" textLength="15.75" lengthAdjust="spacingAndGlyphs">0/100</text>
<text font-size="6.4" fill="#333" text-anchor="middle" stroke="#333" stroke-width="0.18" transform="translate(337.4 633)" textLength="32.9" lengthAdjust="spacingAndGlyphs">WASB/TKW ratio</text>
<text font-size="5" fill="#555" text-anchor="middle" stroke="#555" stroke-width="0.05" transform="translate(275.8 533.45) rotate(-90) scale(1 0.55)" textLength="32" lengthAdjust="spacingAndGlyphs">Genotypes</text>
<rect x="423.5" y="461.4" width="109.7" height="146.2" fill="#fde300" shape-rendering="crispEdges"/>
<rect x="480.96" y="461.4" width="52.24" height="146.2" fill="#8ed91d" shape-rendering="crispEdges"/>
<rect x="486.19" y="461.4" width="47.01" height="146.2" fill="#49c94d" shape-rendering="crispEdges"/>
<rect x="491.41" y="461.4" width="41.79" height="146.2" fill="#15b471" shape-rendering="crispEdges"/>
<rect x="496.63" y="461.4" width="36.57" height="146.2" fill="#0a918c" shape-rendering="crispEdges"/>
<rect x="507.08" y="461.4" width="26.12" height="146.2" fill="#2a478b" shape-rendering="crispEdges"/>
<rect x="522.75" y="461.4" width="10.45" height="146.2" fill="#3a2580" shape-rendering="crispEdges"/>
<rect x="423.5" y="468.71" width="109.7" height="138.89" fill="#d6e200" shape-rendering="crispEdges"/>
<rect x="449.62" y="468.71" width="83.58" height="138.89" fill="#8ed91d" shape-rendering="crispEdges"/>
<rect x="460.07" y="468.71" width="73.13" height="138.89" fill="#15b471" shape-rendering="crispEdges"/>
<rect x="480.96" y="468.71" width="52.24" height="138.89" fill="#059c86" shape-rendering="crispEdges"/>
<rect x="496.63" y="468.71" width="36.57" height="138.89" fill="#13798e" shape-rendering="crispEdges"/>
<rect x="501.86" y="468.71" width="31.34" height="138.89" fill="#3d1a7a" shape-rendering="crispEdges"/>
<rect x="522.75" y="468.71" width="10.45" height="138.89" fill="#333687" shape-rendering="crispEdges"/>
<rect x="423.5" y="476.02" width="109.7" height="131.58" fill="#a7dd0c" shape-rendering="crispEdges"/>
<rect x="449.62" y="476.02" width="83.58" height="131.58" fill="#d0e200" shape-rendering="crispEdges"/>
<rect x="460.07" y="476.02" width="73.13" height="131.58" fill="#8ed91d" shape-rendering="crispEdges"/>
<rect x="465.29" y="476.02" width="67.91" height="131.58" fill="#68d137" shape-rendering="crispEdges"/>
<rect x="475.74" y="476.02" width="57.46" height="131.58" fill="#68c8bc" shape-rendering="crispEdges"/>
<rect x="501.86" y="476.02" width="31.34" height="131.58" fill="#089589" shape-rendering="crispEdges"/>
<rect x="517.53" y="476.02" width="15.67" height="131.58" fill="#10828e" shape-rendering="crispEdges"/>
<rect x="423.5" y="483.33" width="109.7" height="124.27" fill="#0faf76" shape-rendering="crispEdges"/>
<rect x="460.07" y="483.33" width="73.13" height="124.27" fill="#68d137" shape-rendering="crispEdges"/>
<rect x="465.29" y="483.33" width="67.91" height="124.27" fill="#d0e200" shape-rendering="crispEdges"/>
<rect x="470.51" y="483.33" width="62.69" height="124.27" fill="#8ed91d" shape-rendering="crispEdges"/>
<rect x="475.74" y="483.33" width="57.46" height="124.27" fill="#c8d4a4" shape-rendering="crispEdges"/>
<rect x="501.86" y="483.33" width="31.34" height="124.27" fill="#ece400" shape-rendering="crispEdges"/>
<rect x="423.5" y="490.64" width="109.7" height="116.96" fill="#05a183" shape-rendering="crispEdges"/>
<rect x="423.5" y="497.95" width="109.7" height="109.65" fill="#127d8e" shape-rendering="crispEdges"/>
<rect x="444.4" y="497.95" width="88.8" height="109.65" fill="#089589" shape-rendering="crispEdges"/>
<rect x="491.41" y="497.95" width="41.79" height="109.65" fill="#4ecb4a" shape-rendering="crispEdges"/>
<rect x="517.53" y="497.95" width="15.67" height="109.65" fill="#2bbf61" shape-rendering="crispEdges"/>
<rect x="527.98" y="497.95" width="5.22" height="109.65" fill="#5bce41" shape-rendering="crispEdges"/>
<rect x="423.5" y="505.26" width="109.7" height="102.34" fill="#15b471" shape-rendering="crispEdges"/>
<rect x="428.72" y="505.26" width="104.48" height="102.34" fill="#88d821" shape-rendering="crispEdges"/>
<rect x="460.07" y="505.26" width="73.13" height="102.34" fill="#dfe300" shape-rendering="crispEdges"/>
<rect x="470.51" y="505.26" width="62.69" height="102.34" fill="#8ed91d" shape-rendering="crispEdges"/>
<rect x="486.19" y="505.26" width="47.01" height="102.34" fill="#d0e200" shape-rendering="crispEdges"/>
<rect x="491.41" y="505.26" width="41.79" height="102.34" fill="#97da17" shape-rendering="crispEdges"/>
<rect x="522.75" y="505.26" width="10.45" height="102.34" fill="#68d137" shape-rendering="crispEdges"/>
<rect x="527.98" y="505.26" width="5.22" height="102.34" fill="#15b471" shape-rendering="crispEdges"/>
<rect x="423.5" y="512.57" width="109.7" height="95.03" fill="#08a87d" shape-rendering="crispEdges"/>
<rect x="449.62" y="512.57" width="83.58" height="95.03" fill="#0faf76" shape-rendering="crispEdges"/>
<rect x="423.5" y="519.88" width="109.7" height="87.72" fill="#333687" shape-rendering="crispEdges"/>
<rect x="444.4" y="519.88" width="88.8" height="87.72" fill="#3c1e7c" shape-rendering="crispEdges"/>
<rect x="454.84" y="519.88" width="78.36" height="87.72" fill="#43005e" shape-rendering="crispEdges"/>
<rect x="486.19" y="519.88" width="47.01" height="87.72" fill="#41096c" shape-rendering="crispEdges"/>
<rect x="423.5" y="527.19" width="109.7" height="80.41" fill="#43005e" shape-rendering="crispEdges"/>
<rect x="470.51" y="527.19" width="62.69" height="80.41" fill="#3d1a7a" shape-rendering="crispEdges"/>
<rect x="507.08" y="527.19" width="26.12" height="80.41" fill="#16748e" shape-rendering="crispEdges"/>
<rect x="522.75" y="527.19" width="10.45" height="80.41" fill="#0a918c" shape-rendering="crispEdges"/>
<rect x="423.5" y="534.5" width="109.7" height="73.1" fill="#186e8e" shape-rendering="crispEdges"/>
<rect x="433.95" y="534.5" width="99.25" height="73.1" fill="#23568d" shape-rendering="crispEdges"/>
<rect x="460.07" y="534.5" width="73.13" height="73.1" fill="#303d89" shape-rendering="crispEdges"/>
<rect x="496.63" y="534.5" width="36.57" height="73.1" fill="#3a2580" shape-rendering="crispEdges"/>
<rect x="512.3" y="534.5" width="20.9" height="73.1" fill="#205c8e" shape-rendering="crispEdges"/>
<rect x="423.5" y="541.81" width="109.7" height="65.79" fill="#303d89" shape-rendering="crispEdges"/>
<rect x="454.84" y="541.81" width="78.36" height="65.79" fill="#363085" shape-rendering="crispEdges"/>
<rect x="475.74" y="541.81" width="57.46" height="65.79" fill="#2a478b" shape-rendering="crispEdges"/>
<rect x="501.86" y="541.81" width="31.34" height="65.79" fill="#196b8e" shape-rendering="crispEdges"/>
<rect x="512.3" y="541.81" width="20.9" height="65.79" fill="#0e888e" shape-rendering="crispEdges"/>
<rect x="423.5" y="549.12" width="109.7" height="58.48" fill="#0a918c" shape-rendering="crispEdges"/>
<rect x="449.62" y="549.12" width="83.58" height="58.48" fill="#0e888e" shape-rendering="crispEdges"/>
<rect x="480.96" y="549.12" width="52.24" height="58.48" fill="#13798e" shape-rendering="crispEdges"/>
<rect x="507.08" y="549.12" width="26.12" height="58.48" fill="#1a688e" shape-rendering="crispEdges"/>
<rect x="423.5" y="556.43" width="109.7" height="51.17" fill="#9ddb12" shape-rendering="crispEdges"/>
<rect x="428.72" y="556.43" width="104.48" height="51.17" fill="#3bc556" shape-rendering="crispEdges"/>
<rect x="439.17" y="556.43" width="94.03" height="51.17" fill="#0a918c" shape-rendering="crispEdges"/>
<rect x="444.4" y="556.43" width="88.8" height="51.17" fill="#1c658e" shape-rendering="crispEdges"/>
<rect x="454.84" y="556.43" width="78.36" height="51.17" fill="#333687" shape-rendering="crispEdges"/>
<rect x="465.29" y="556.43" width="67.91" height="51.17" fill="#410669" shape-rendering="crispEdges"/>
<rect x="491.41" y="556.43" width="41.79" height="51.17" fill="#43005e" shape-rendering="crispEdges"/>
<rect x="423.5" y="563.74" width="109.7" height="43.86" fill="#2bbf61" shape-rendering="crispEdges"/>
<rect x="444.4" y="563.74" width="88.8" height="43.86" fill="#0faf76" shape-rendering="crispEdges"/>
<rect x="465.29" y="563.74" width="67.91" height="43.86" fill="#059c86" shape-rendering="crispEdges"/>
<rect x="480.96" y="563.74" width="52.24" height="43.86" fill="#127d8e" shape-rendering="crispEdges"/>
<rect x="423.5" y="571.05" width="109.7" height="36.55" fill="#0e888e" shape-rendering="crispEdges"/>
<rect x="444.4" y="571.05" width="88.8" height="36.55" fill="#13798e" shape-rendering="crispEdges"/>
<rect x="491.41" y="571.05" width="41.79" height="36.55" fill="#059c86" shape-rendering="crispEdges"/>
<rect x="423.5" y="578.36" width="109.7" height="29.24" fill="#1c658e" shape-rendering="crispEdges"/>
<rect x="449.62" y="578.36" width="83.58" height="29.24" fill="#264f8c" shape-rendering="crispEdges"/>
<rect x="465.29" y="578.36" width="67.91" height="29.24" fill="#1c658e" shape-rendering="crispEdges"/>
<rect x="486.19" y="578.36" width="47.01" height="29.24" fill="#0a918c" shape-rendering="crispEdges"/>
<rect x="496.63" y="578.36" width="36.57" height="29.24" fill="#08a87d" shape-rendering="crispEdges"/>
<rect x="423.5" y="585.67" width="109.7" height="21.93" fill="#420265" shape-rendering="crispEdges"/>
<rect x="444.4" y="585.67" width="88.8" height="21.93" fill="#3d1a7a" shape-rendering="crispEdges"/>
<rect x="465.29" y="585.67" width="67.91" height="21.93" fill="#2a478b" shape-rendering="crispEdges"/>
<rect x="480.96" y="585.67" width="52.24" height="21.93" fill="#08a87d" shape-rendering="crispEdges"/>
<rect x="501.86" y="585.67" width="31.34" height="21.93" fill="#18b66e" shape-rendering="crispEdges"/>
<rect x="517.53" y="585.67" width="15.67" height="21.93" fill="#8ed91d" shape-rendering="crispEdges"/>
<rect x="423.5" y="592.98" width="109.7" height="14.62" fill="#0a918c" shape-rendering="crispEdges"/>
<rect x="470.51" y="592.98" width="62.69" height="14.62" fill="#0e888e" shape-rendering="crispEdges"/>
<rect x="501.86" y="592.98" width="31.34" height="14.62" fill="#127d8e" shape-rendering="crispEdges"/>
<rect x="423.5" y="600.29" width="109.7" height="7.31" fill="#2a478b" shape-rendering="crispEdges"/>
<rect x="439.17" y="600.29" width="94.03" height="7.31" fill="#1c658e" shape-rendering="crispEdges"/>
<rect x="454.84" y="600.29" width="78.36" height="7.31" fill="#059c86" shape-rendering="crispEdges"/>
<rect x="475.74" y="600.29" width="57.46" height="7.31" fill="#68d137" shape-rendering="crispEdges"/>
<rect x="496.63" y="600.29" width="36.57" height="7.31" fill="#b6df01" shape-rendering="crispEdges"/>
<rect x="507.08" y="600.29" width="26.12" height="7.31" fill="#fde300" shape-rendering="crispEdges"/>
<rect x="423.5" y="461.4" width="109.7" height="146.2" fill="none" stroke="#2a2a2a" stroke-width="0.8"/>
<line x1="422.2" y1="465.05" x2="423.5" y2="465.05" stroke="#333" stroke-width="0.5"/>
<text font-size="7.2" fill="#606060" text-anchor="middle" stroke="#606060" stroke-width="0.12" transform="translate(421.5 465.05) rotate(-90)" textLength="4.6" lengthAdjust="spacingAndGlyphs">G18</text>
<line x1="422.2" y1="472.37" x2="423.5" y2="472.37" stroke="#333" stroke-width="0.5"/>
<text font-size="7.2" fill="#606060" text-anchor="middle" stroke="#606060" stroke-width="0.12" transform="translate(421.5 472.37) rotate(-90)" textLength="4.6" lengthAdjust="spacingAndGlyphs">G19</text>
<line x1="422.2" y1="479.67" x2="423.5" y2="479.67" stroke="#333" stroke-width="0.5"/>
<text font-size="7.2" fill="#606060" text-anchor="middle" stroke="#606060" stroke-width="0.12" transform="translate(421.5 479.67) rotate(-90)" textLength="4.6" lengthAdjust="spacingAndGlyphs">G20</text>
<line x1="422.2" y1="486.99" x2="423.5" y2="486.99" stroke="#333" stroke-width="0.5"/>
<text font-size="7.2" fill="#8484dc" text-anchor="middle" stroke="#8484dc" stroke-width="0.12" transform="translate(421.5 486.99) rotate(-90)" textLength="4.6" lengthAdjust="spacingAndGlyphs">G01</text>
<line x1="422.2" y1="494.29" x2="423.5" y2="494.29" stroke="#333" stroke-width="0.5"/>
<text font-size="7.2" fill="#8484dc" text-anchor="middle" stroke="#8484dc" stroke-width="0.12" transform="translate(421.5 494.29) rotate(-90)" textLength="4.6" lengthAdjust="spacingAndGlyphs">G02</text>
<line x1="422.2" y1="501.61" x2="423.5" y2="501.61" stroke="#333" stroke-width="0.5"/>
<text font-size="7.2" fill="#8484dc" text-anchor="middle" stroke="#8484dc" stroke-width="0.12" transform="translate(421.5 501.61) rotate(-90)" textLength="4.6" lengthAdjust="spacingAndGlyphs">G03</text>
<line x1="422.2" y1="508.91" x2="423.5" y2="508.91" stroke="#333" stroke-width="0.5"/>
<text font-size="7.2" fill="#8484dc" text-anchor="middle" stroke="#8484dc" stroke-width="0.12" transform="translate(421.5 508.91) rotate(-90)" textLength="4.6" lengthAdjust="spacingAndGlyphs">G04</text>
<line x1="422.2" y1="516.23" x2="423.5" y2="516.23" stroke="#333" stroke-width="0.5"/>
<text font-size="7.2" fill="#8484dc" text-anchor="middle" stroke="#8484dc" stroke-width="0.12" transform="translate(421.5 516.23) rotate(-90)" textLength="4.6" lengthAdjust="spacingAndGlyphs">G05</text>
<line x1="422.2" y1="523.53" x2="423.5" y2="523.53" stroke="#333" stroke-width="0.5"/>
<text font-size="7.2" fill="#ee8080" text-anchor="middle" stroke="#ee8080" stroke-width="0.12" transform="translate(421.5 523.53) rotate(-90)" textLength="4.6" lengthAdjust="spacingAndGlyphs">G06</text>
<line x1="422.2" y1="530.85" x2="423.5" y2="530.85" stroke="#333" stroke-width="0.5"/>
<text font-size="7.2" fill="#ee8080" text-anchor="middle" stroke="#ee8080" stroke-width="0.12" transform="translate(421.5 530.85) rotate(-90)" textLength="4.6" lengthAdjust="spacingAndGlyphs">G07</text>
<line x1="422.2" y1="538.15" x2="423.5" y2="538.15" stroke="#333" stroke-width="0.5"/>
<text font-size="7.2" fill="#ee8080" text-anchor="middle" stroke="#ee8080" stroke-width="0.12" transform="translate(421.5 538.15) rotate(-90)" textLength="4.6" lengthAdjust="spacingAndGlyphs">G08</text>
<line x1="422.2" y1="545.47" x2="423.5" y2="545.47" stroke="#333" stroke-width="0.5"/>
<text font-size="7.2" fill="#ee8080" text-anchor="middle" stroke="#ee8080" stroke-width="0.12" transform="translate(421.5 545.47) rotate(-90)" textLength="4.6" lengthAdjust="spacingAndGlyphs">G09</text>
<line x1="422.2" y1="552.77" x2="423.5" y2="552.77" stroke="#333" stroke-width="0.5"/>
<text font-size="7.2" fill="#ee8080" text-anchor="middle" stroke="#ee8080" stroke-width="0.12" transform="translate(421.5 552.77) rotate(-90)" textLength="4.6" lengthAdjust="spacingAndGlyphs">G10</text>
<line x1="422.2" y1="560.09" x2="423.5" y2="560.09" stroke="#333" stroke-width="0.5"/>
<text font-size="7.2" fill="#ee8080" text-anchor="middle" stroke="#ee8080" stroke-width="0.12" transform="translate(421.5 560.09) rotate(-90)" textLength="4.6" lengthAdjust="spacingAndGlyphs">G11</text>
<line x1="422.2" y1="567.39" x2="423.5" y2="567.39" stroke="#333" stroke-width="0.5"/>
<text font-size="7.2" fill="#ee8080" text-anchor="middle" stroke="#ee8080" stroke-width="0.12" transform="translate(421.5 567.39) rotate(-90)" textLength="4.6" lengthAdjust="spacingAndGlyphs">G12</text>
<line x1="422.2" y1="574.71" x2="423.5" y2="574.71" stroke="#333" stroke-width="0.5"/>
<text font-size="7.2" fill="#5ee09a" text-anchor="middle" stroke="#5ee09a" stroke-width="0.12" transform="translate(421.5 574.71) rotate(-90)" textLength="4.6" lengthAdjust="spacingAndGlyphs">G13</text>
<line x1="422.2" y1="582.01" x2="423.5" y2="582.01" stroke="#333" stroke-width="0.5"/>
<text font-size="7.2" fill="#5ee09a" text-anchor="middle" stroke="#5ee09a" stroke-width="0.12" transform="translate(421.5 582.01) rotate(-90)" textLength="4.6" lengthAdjust="spacingAndGlyphs">G14</text>
<line x1="422.2" y1="589.33" x2="423.5" y2="589.33" stroke="#333" stroke-width="0.5"/>
<text font-size="7.2" fill="#5ee09a" text-anchor="middle" stroke="#5ee09a" stroke-width="0.12" transform="translate(421.5 589.33) rotate(-90)" textLength="4.6" lengthAdjust="spacingAndGlyphs">G15</text>
<line x1="422.2" y1="596.63" x2="423.5" y2="596.63" stroke="#333" stroke-width="0.5"/>
<text font-size="7.2" fill="#5ee09a" text-anchor="middle" stroke="#5ee09a" stroke-width="0.12" transform="translate(421.5 596.63) rotate(-90)" textLength="4.6" lengthAdjust="spacingAndGlyphs">G16</text>
<line x1="422.2" y1="603.95" x2="423.5" y2="603.95" stroke="#333" stroke-width="0.5"/>
<text font-size="7.2" fill="#5ee09a" text-anchor="middle" stroke="#5ee09a" stroke-width="0.12" transform="translate(421.5 603.95) rotate(-90)" textLength="4.6" lengthAdjust="spacingAndGlyphs">G17</text>
<linearGradient id="gd3" x1="0" y1="1" x2="0" y2="0">
<stop offset="0" stop-color="#440054"/>
<stop offset="0.05" stop-color="#410568"/>
<stop offset="0.1" stop-color="#3e1878"/>
<stop offset="0.15" stop-color="#372c83"/>
<stop offset="0.2" stop-color="#2f3e89"/>
<stop offset="0.25" stop-color="#264f8c"/>
<stop offset="0.3" stop-color="#205c8e"/>
<stop offset="0.35" stop-color="#1a688e"/>
<stop offset="0.4" stop-color="#16748e"/>
<stop offset="0.45" stop-color="#117f8e"/>
<stop offset="0.5" stop-color="#0d8a8d"/>
<stop offset="0.55" stop-color="#089589"/>
<stop offset="0.6" stop-color="#059f84"/>
<stop offset="0.65" stop-color="#08a87d"/>
<stop offset="0.7" stop-color="#11b174"/>
<stop offset="0.75" stop-color="#22bb67"/>
<stop offset="0.8" stop-color="#3fc653"/>
<stop offset="0.85" stop-color="#65d139"/>
<stop offset="0.9" stop-color="#8ed91d"/>
<stop offset="0.95" stop-color="#cae100"/>
<stop offset="1" stop-color="#fde300"/>
</linearGradient>
<rect x="538" y="493.4" width="4.5" height="80.7" fill="url(#gd3)"/>
<rect x="538" y="493.4" width="4.5" height="80.7" fill="none" stroke="#4a4030" stroke-width="0.4"/>
<line x1="538" y1="493.8" x2="542.5" y2="493.8" stroke="#5a4a30" stroke-width="0.8"/>
<line x1="541.5" y1="497.44" x2="542.5" y2="497.44" stroke="#fff" stroke-width="0.4"/>
<text font-size="3.6" fill="#888" text-anchor="start" stroke="#888" stroke-width="0.1" transform="translate(544.1 498.74) scale(0.6 1)">2</text>
<line x1="541.5" y1="516.4" x2="542.5" y2="516.4" stroke="#fff" stroke-width="0.4"/>
<text font-size="3.6" fill="#888" text-anchor="start" stroke="#888" stroke-width="0.1" transform="translate(544.1 517.7) scale(0.6 1)">1.5</text>
<line x1="541.5" y1="535.36" x2="542.5" y2="535.36" stroke="#fff" stroke-width="0.4"/>
<text font-size="3.6" fill="#888" text-anchor="start" stroke="#888" stroke-width="0.1" transform="translate(544.1 536.66) scale(0.6 1)">1</text>
<line x1="541.5" y1="554.33" x2="542.5" y2="554.33" stroke="#fff" stroke-width="0.4"/>
<text font-size="3.6" fill="#888" text-anchor="start" stroke="#888" stroke-width="0.1" transform="translate(544.1 555.63) scale(0.6 1)">0.5</text>
<line x1="426.11" y1="607.6" x2="426.11" y2="608.9" stroke="#333" stroke-width="0.4"/>
<text font-size="6" fill="#3a3a3a" text-anchor="end" stroke="#3a3a3a" stroke-width="0.12" transform="translate(427.01 611.1) rotate(-90) scale(1 0.55)" textLength="15.75" lengthAdjust="spacingAndGlyphs">100/0</text>
<line x1="431.34" y1="607.6" x2="431.34" y2="608.9" stroke="#333" stroke-width="0.4"/>
<text font-size="6" fill="#3a3a3a" text-anchor="end" stroke="#3a3a3a" stroke-width="0.12" transform="translate(432.24 611.1) rotate(-90) scale(1 0.55)" textLength="12.6" lengthAdjust="spacingAndGlyphs">95/5</text>
<line x1="436.56" y1="607.6" x2="436.56" y2="608.9" stroke="#333" stroke-width="0.4"/>
<text font-size="6" fill="#3a3a3a" text-anchor="end" stroke="#3a3a3a" stroke-width="0.12" transform="translate(437.46 611.1) rotate(-90) scale(1 0.55)" textLength="15.75" lengthAdjust="spacingAndGlyphs">90/10</text>
<line x1="441.78" y1="607.6" x2="441.78" y2="608.9" stroke="#333" stroke-width="0.4"/>
<text font-size="6" fill="#3a3a3a" text-anchor="end" stroke="#3a3a3a" stroke-width="0.12" transform="translate(442.68 611.1) rotate(-90) scale(1 0.55)" textLength="15.75" lengthAdjust="spacingAndGlyphs">85/15</text>
<line x1="447.01" y1="607.6" x2="447.01" y2="608.9" stroke="#333" stroke-width="0.4"/>
<text font-size="6" fill="#3a3a3a" text-anchor="end" stroke="#3a3a3a" stroke-width="0.12" transform="translate(447.91 611.1) rotate(-90) scale(1 0.55)" textLength="15.75" lengthAdjust="spacingAndGlyphs">80/20</text>
<line x1="452.23" y1="607.6" x2="452.23" y2="608.9" stroke="#333" stroke-width="0.4"/>
<text font-size="6" fill="#3a3a3a" text-anchor="end" stroke="#3a3a3a" stroke-width="0.12" transform="translate(453.13 611.1) rotate(-90) scale(1 0.55)" textLength="15.75" lengthAdjust="spacingAndGlyphs">75/25</text>
<line x1="457.45" y1="607.6" x2="457.45" y2="608.9" stroke="#333" stroke-width="0.4"/>
<text font-size="6" fill="#3a3a3a" text-anchor="end" stroke="#3a3a3a" stroke-width="0.12" transform="translate(458.35 611.1) rotate(-90) scale(1 0.55)" textLength="15.75" lengthAdjust="spacingAndGlyphs">70/30</text>
<line x1="462.68" y1="607.6" x2="462.68" y2="608.9" stroke="#333" stroke-width="0.4"/>
<text font-size="6" fill="#3a3a3a" text-anchor="end" stroke="#3a3a3a" stroke-width="0.12" transform="translate(463.58 611.1) rotate(-90) scale(1 0.55)" textLength="15.75" lengthAdjust="spacingAndGlyphs">65/35</text>
<line x1="467.9" y1="607.6" x2="467.9" y2="608.9" stroke="#333" stroke-width="0.4"/>
<text font-size="6" fill="#3a3a3a" text-anchor="end" stroke="#3a3a3a" stroke-width="0.12" transform="translate(468.8 611.1) rotate(-90) scale(1 0.55)" textLength="15.75" lengthAdjust="spacingAndGlyphs">60/40</text>
<line x1="473.13" y1="607.6" x2="473.13" y2="608.9" stroke="#333" stroke-width="0.4"/>
<text font-size="6" fill="#3a3a3a" text-anchor="end" stroke="#3a3a3a" stroke-width="0.12" transform="translate(474.03 611.1) rotate(-90) scale(1 0.55)" textLength="15.75" lengthAdjust="spacingAndGlyphs">55/45</text>
<line x1="478.35" y1="607.6" x2="478.35" y2="608.9" stroke="#333" stroke-width="0.4"/>
<text font-size="6" fill="#3a3a3a" text-anchor="end" stroke="#3a3a3a" stroke-width="0.12" transform="translate(479.25 611.1) rotate(-90) scale(1 0.55)" textLength="15.75" lengthAdjust="spacingAndGlyphs">50/50</text>
<line x1="483.57" y1="607.6" x2="483.57" y2="608.9" stroke="#333" stroke-width="0.4"/>
<text font-size="6" fill="#3a3a3a" text-anchor="end" stroke="#3a3a3a" stroke-width="0.12" transform="translate(484.47 611.1) rotate(-90) scale(1 0.55)" textLength="15.75" lengthAdjust="spacingAndGlyphs">45/55</text>
<line x1="488.8" y1="607.6" x2="488.8" y2="608.9" stroke="#333" stroke-width="0.4"/>
<text font-size="6" fill="#3a3a3a" text-anchor="end" stroke="#3a3a3a" stroke-width="0.12" transform="translate(489.7 611.1) rotate(-90) scale(1 0.55)" textLength="15.75" lengthAdjust="spacingAndGlyphs">40/60</text>
<line x1="494.02" y1="607.6" x2="494.02" y2="608.9" stroke="#333" stroke-width="0.4"/>
<text font-size="6" fill="#3a3a3a" text-anchor="end" stroke="#3a3a3a" stroke-width="0.12" transform="translate(494.92 611.1) rotate(-90) scale(1 0.55)" textLength="15.75" lengthAdjust="spacingAndGlyphs">35/65</text>
<line x1="499.25" y1="607.6" x2="499.25" y2="608.9" stroke="#333" stroke-width="0.4"/>
<text font-size="6" fill="#3a3a3a" text-anchor="end" stroke="#3a3a3a" stroke-width="0.12" transform="translate(500.15 611.1) rotate(-90) scale(1 0.55)" textLength="15.75" lengthAdjust="spacingAndGlyphs">30/70</text>
<line x1="504.47" y1="607.6" x2="504.47" y2="608.9" stroke="#333" stroke-width="0.4"/>
<text font-size="6" fill="#3a3a3a" text-anchor="end" stroke="#3a3a3a" stroke-width="0.12" transform="translate(505.37 611.1) rotate(-90) scale(1 0.55)" textLength="15.75" lengthAdjust="spacingAndGlyphs">25/75</text>
<line x1="509.69" y1="607.6" x2="509.69" y2="608.9" stroke="#333" stroke-width="0.4"/>
<text font-size="6" fill="#3a3a3a" text-anchor="end" stroke="#3a3a3a" stroke-width="0.12" transform="translate(510.59 611.1) rotate(-90) scale(1 0.55)" textLength="15.75" lengthAdjust="spacingAndGlyphs">20/80</text>
<line x1="514.92" y1="607.6" x2="514.92" y2="608.9" stroke="#333" stroke-width="0.4"/>
<text font-size="6" fill="#3a3a3a" text-anchor="end" stroke="#3a3a3a" stroke-width="0.12" transform="translate(515.82 611.1) rotate(-90) scale(1 0.55)" textLength="15.75" lengthAdjust="spacingAndGlyphs">15/85</text>
<line x1="520.14" y1="607.6" x2="520.14" y2="608.9" stroke="#333" stroke-width="0.4"/>
<text font-size="6" fill="#3a3a3a" text-anchor="end" stroke="#3a3a3a" stroke-width="0.12" transform="translate(521.04 611.1) rotate(-90) scale(1 0.55)" textLength="15.75" lengthAdjust="spacingAndGlyphs">10/90</text>
<line x1="525.36" y1="607.6" x2="525.36" y2="608.9" stroke="#333" stroke-width="0.4"/>
<text font-size="6" fill="#3a3a3a" text-anchor="end" stroke="#3a3a3a" stroke-width="0.12" transform="translate(526.26 611.1) rotate(-90) scale(1 0.55)" textLength="12.6" lengthAdjust="spacingAndGlyphs">5/95</text>
<line x1="530.59" y1="607.6" x2="530.59" y2="608.9" stroke="#333" stroke-width="0.4"/>
<text font-size="6" fill="#3a3a3a" text-anchor="end" stroke="#3a3a3a" stroke-width="0.12" transform="translate(531.49 611.1) rotate(-90) scale(1 0.55)" textLength="15.75" lengthAdjust="spacingAndGlyphs">0/100</text>
<text font-size="6.4" fill="#333" text-anchor="middle" stroke="#333" stroke-width="0.18" transform="translate(477.4 639)" textLength="32.9" lengthAdjust="spacingAndGlyphs">WASB/GY ratio</text>
<text font-size="5" fill="#555" text-anchor="middle" stroke="#555" stroke-width="0.05" transform="translate(413.2 534.5) rotate(-90) scale(1 0.55)" textLength="32" lengthAdjust="spacingAndGlyphs">Genotypes</text>
<text font-size="7.5" fill="#333" text-anchor="start" stroke="#333" stroke-width="0.18" transform="translate(1.9 463.2) scale(0.82 1)">(D)</text>
</svg>
</body></html>
